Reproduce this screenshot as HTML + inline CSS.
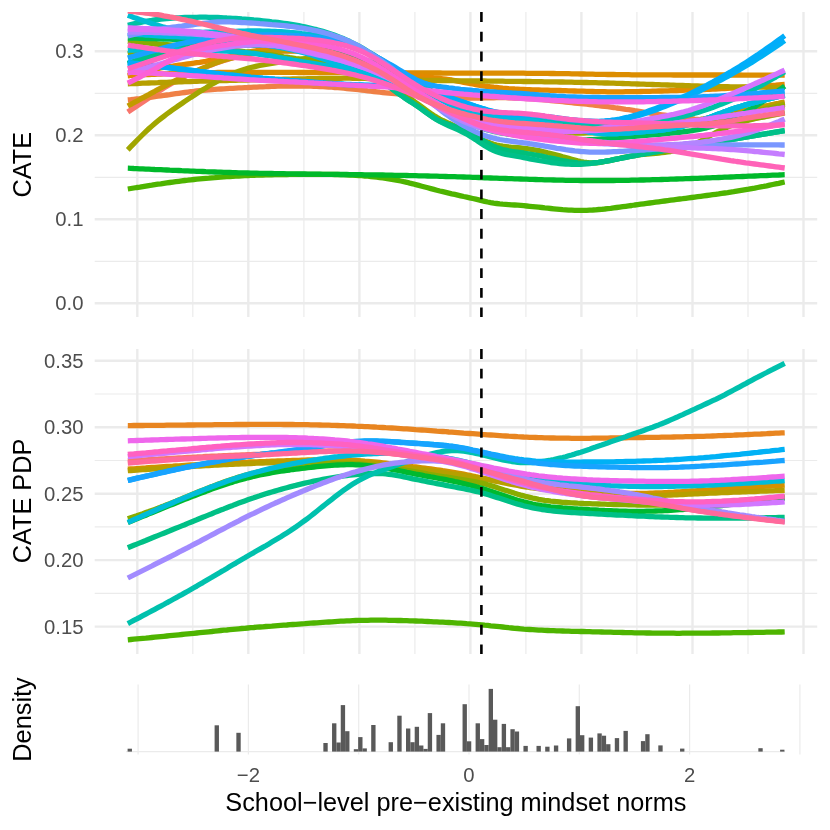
<!DOCTYPE html>
<html lang="en"><head><meta charset="utf-8"><title>CATE by school-level pre-existing mindset norms</title>
<style>html,body{margin:0;padding:0;background:#fff}svg{display:block}text{font-family:"Liberation Sans",sans-serif}</style></head><body>
<svg width="830" height="830" viewBox="0 0 830 830">
<rect width="830" height="830" fill="#fff"/>
<defs><clipPath id="c1"><rect x="94.7" y="12.1" width="722.5" height="305.0"/></clipPath><clipPath id="c2"><rect x="94.7" y="349.0" width="722.5" height="304.9"/></clipPath></defs>
<g stroke="#EBEBEB" fill="none"><path stroke-width="1.2" d="M192.8,12.1V317.1"/><path stroke-width="1.2" d="M303.9,12.1V317.1"/><path stroke-width="1.2" d="M414.9,12.1V317.1"/><path stroke-width="1.2" d="M525.9,12.1V317.1"/><path stroke-width="1.2" d="M636.9,12.1V317.1"/><path stroke-width="1.2" d="M748.0,12.1V317.1"/><path stroke-width="1.2" d="M94.7,261.3H817.2"/><path stroke-width="1.2" d="M94.7,177.3H817.2"/><path stroke-width="1.2" d="M94.7,93.3H817.2"/><path stroke-width="2.4" d="M137.3,12.1V317.1"/><path stroke-width="2.4" d="M248.3,12.1V317.1"/><path stroke-width="2.4" d="M359.4,12.1V317.1"/><path stroke-width="2.4" d="M470.4,12.1V317.1"/><path stroke-width="2.4" d="M581.4,12.1V317.1"/><path stroke-width="2.4" d="M692.5,12.1V317.1"/><path stroke-width="2.4" d="M803.5,12.1V317.1"/><path stroke-width="2.4" d="M94.7,303.3H817.2"/><path stroke-width="2.4" d="M94.7,219.3H817.2"/><path stroke-width="2.4" d="M94.7,135.3H817.2"/><path stroke-width="2.4" d="M94.7,51.3H817.2"/></g>
<g clip-path="url(#c1)" fill="none" stroke-width="5.3" stroke-linejoin="round">
<path stroke="#F8766D" d="M127.8,112.0L130.8,110.0 133.8,108.1 136.8,106.1 139.8,104.1 142.8,102.1 145.8,100.1 148.8,98.1 151.8,96.1 154.8,94.1 157.8,92.0 160.8,90.1 163.8,88.1 166.8,86.3 169.8,84.5 172.8,82.7 175.8,81.1 178.8,79.5 181.8,78.0 184.8,76.5 187.8,75.1 190.8,73.7 193.8,72.3 196.8,70.9 199.8,69.6 202.8,68.3 205.8,67.1 208.8,65.9 211.8,64.7 214.8,63.6 217.8,62.5 220.8,61.4 223.8,60.5 226.8,59.6 229.8,58.7 232.8,57.9 235.8,57.1 238.8,56.4 241.8,55.8 244.8,55.2 247.8,54.6 250.8,54.1 253.8,53.6 256.8,53.2 259.8,52.8 262.8,52.5 265.8,52.2 268.8,51.9 271.8,51.7 274.8,51.5 277.8,51.4 280.8,51.3 283.8,51.2 286.8,51.1 289.8,51.1 292.8,51.2 295.8,51.2 298.8,51.3 301.8,51.5 304.8,51.7 307.8,51.9 310.8,52.1 313.8,52.4 316.8,52.8 319.8,53.1 322.8,53.5 325.8,54.0 328.8,54.5 331.8,55.1 334.8,55.7 337.8,56.3 340.8,57.0 343.8,57.7 346.8,58.5 349.8,59.4 352.8,60.3 355.8,61.3 358.8,62.3 361.8,63.4 364.8,64.5 367.8,65.7 370.8,66.9 373.8,68.2 376.8,69.5 379.8,70.9 382.8,72.3 385.8,73.7 388.8,75.2 391.8,76.7 394.8,78.2 397.8,79.7 400.8,81.3 403.8,82.9 406.8,84.5 409.8,86.0 412.8,87.6 415.8,89.2 418.8,90.8 421.8,92.4 424.8,94.0 427.8,95.6 430.8,97.2 433.8,98.7 436.8,100.2 439.8,101.7 442.8,103.2 445.8,104.6 448.8,106.0 451.8,107.4 454.8,108.7 457.7,110.0 460.7,111.2 463.7,112.4 466.7,113.5 469.7,114.6 472.7,115.7 475.7,116.6 478.7,117.6 481.7,118.4 484.7,119.3 487.7,120.0 490.7,120.7 493.7,121.4 496.7,122.0 499.7,122.6 502.7,123.1 505.7,123.6 508.7,124.1 511.7,124.5 514.7,125.0 517.7,125.4 520.7,125.7 523.7,126.1 526.7,126.4 529.7,126.8 532.7,127.1 535.7,127.4 538.7,127.7 541.7,128.0 544.7,128.3 547.7,128.5 550.7,128.8 553.7,129.0 556.7,129.2 559.7,129.4 562.7,129.6 565.7,129.7 568.7,129.9 571.7,130.0 574.7,130.1 577.7,130.2 580.7,130.3 583.7,130.3 586.7,130.4 589.7,130.4 592.7,130.4 595.7,130.3 598.7,130.3 601.7,130.2 604.7,130.1 607.7,130.0 610.7,129.9 613.7,129.8 616.7,129.6 619.7,129.5 622.7,129.3 625.7,129.1 628.7,128.9 631.7,128.6 634.7,128.4 637.7,128.2 640.7,127.9 643.7,127.6 646.7,127.3 649.7,127.0 652.7,126.7 655.7,126.4 658.7,126.0 661.7,125.7 664.7,125.3 667.7,124.9 670.7,124.5 673.7,124.1 676.7,123.7 679.7,123.2 682.7,122.8 685.7,122.3 688.7,121.8 691.7,121.3 694.7,120.8 697.7,120.3 700.7,119.7 703.7,119.2 706.7,118.6 709.7,118.0 712.7,117.5 715.7,116.9 718.7,116.3 721.7,115.6 724.7,115.0 727.7,114.4 730.7,113.8 733.7,113.1 736.7,112.5 739.7,111.9 742.7,111.2 745.7,110.6 748.7,109.9 751.7,109.3 754.7,108.7 757.7,108.0 760.7,107.4 763.7,106.8 766.7,106.1 769.7,105.5 772.7,104.8 775.7,104.2 778.7,103.6 781.7,102.9 784.7,102.3"/>
<path stroke="#EF8046" d="M127.8,100.0L130.8,99.7 133.8,99.3 136.8,98.9 139.8,98.6 142.8,98.2 145.8,97.8 148.8,97.4 151.8,97.0 154.8,96.6 157.8,96.2 160.8,95.8 163.8,95.4 166.8,95.0 169.8,94.6 172.8,94.1 175.8,93.7 178.8,93.3 181.8,92.9 184.8,92.5 187.8,92.1 190.8,91.7 193.8,91.4 196.8,91.0 199.8,90.7 202.8,90.4 205.8,90.1 208.8,89.9 211.8,89.6 214.8,89.4 217.8,89.2 220.8,89.0 223.8,88.8 226.8,88.6 229.8,88.4 232.8,88.3 235.8,88.1 238.8,87.9 241.8,87.8 244.8,87.6 247.8,87.5 250.8,87.3 253.8,87.2 256.8,87.1 259.8,86.9 262.8,86.8 265.8,86.7 268.8,86.5 271.8,86.4 274.8,86.3 277.8,86.2 280.8,86.2 283.8,86.1 286.8,86.0 289.8,86.0 292.8,86.0 295.8,85.9 298.8,86.0 301.8,86.0 304.8,86.0 307.8,86.1 310.8,86.2 313.8,86.3 316.8,86.4 319.8,86.5 322.8,86.7 325.8,86.8 328.8,87.0 331.8,87.2 334.8,87.5 337.8,87.7 340.8,87.9 343.8,88.2 346.8,88.5 349.8,88.8 352.8,89.1 355.8,89.4 358.8,89.7 361.8,90.1 364.8,90.4 367.8,90.8 370.8,91.1 373.8,91.5 376.8,91.8 379.8,92.2 382.8,92.5 385.8,92.8 388.8,93.1 391.8,93.4 394.8,93.6 397.8,93.9 400.8,94.1 403.8,94.3 406.8,94.5 409.8,94.7 412.8,95.0 415.8,95.2 418.8,95.4 421.8,95.6 424.8,95.8 427.8,96.0 430.8,96.2 433.8,96.3 436.8,96.5 439.8,96.7 442.8,96.9 445.8,97.1 448.8,97.3 451.8,97.4 454.8,97.6 457.7,97.7 460.7,97.8 463.7,97.9 466.7,98.0 469.7,98.1 472.7,98.1 475.7,98.1 478.7,98.0 481.7,98.0 484.7,97.9 487.7,97.9 490.7,97.8 493.7,97.8 496.7,97.7 499.7,97.7 502.7,97.7 505.7,97.7 508.7,97.8 511.7,97.9 514.7,98.0 517.7,98.1 520.7,98.2 523.7,98.4 526.7,98.5 529.7,98.7 532.7,98.9 535.7,99.2 538.7,99.4 541.7,99.7 544.7,99.9 547.7,100.2 550.7,100.5 553.7,100.8 556.7,101.1 559.7,101.4 562.7,101.7 565.7,102.0 568.7,102.3 571.7,102.6 574.7,103.0 577.7,103.3 580.7,103.6 583.7,103.9 586.7,104.2 589.7,104.6 592.7,104.9 595.7,105.3 598.7,105.6 601.7,106.0 604.7,106.4 607.7,106.7 610.7,107.1 613.7,107.5 616.7,108.0 619.7,108.4 622.7,108.8 625.7,109.3 628.7,109.7 631.7,110.2 634.7,110.7 637.7,111.1 640.7,111.6 643.7,112.1 646.7,112.5 649.7,113.0 652.7,113.4 655.7,113.9 658.7,114.4 661.7,114.8 664.7,115.2 667.7,115.7 670.7,116.1 673.7,116.5 676.7,116.9 679.7,117.3 682.7,117.6 685.7,118.0 688.7,118.4 691.7,118.7 694.7,119.1 697.7,119.4 700.7,119.8 703.7,120.2 706.7,120.5 709.7,120.8 712.7,121.1 715.7,121.3 718.7,121.5 721.7,121.5 724.7,121.5 727.7,121.4 730.7,121.3 733.7,121.1 736.7,120.8 739.7,120.5 742.7,120.1 745.7,119.7 748.7,119.3 751.7,118.8 754.7,118.3 757.7,117.9 760.7,117.4 763.7,116.8 766.7,116.3 769.7,115.8 772.7,115.2 775.7,114.7 778.7,114.1 781.7,113.6 784.7,113.0"/>
<path stroke="#DC8D00" d="M127.8,75.5L130.8,75.4 133.8,75.2 136.8,75.1 139.8,75.0 142.8,74.8 145.8,74.7 148.8,74.6 151.8,74.4 154.8,74.3 157.8,74.2 160.8,74.1 163.8,73.9 166.8,73.8 169.8,73.7 172.8,73.6 175.8,73.5 178.8,73.4 181.8,73.3 184.8,73.2 187.8,73.1 190.8,73.0 193.8,73.0 196.8,72.9 199.8,72.8 202.8,72.8 205.8,72.7 208.8,72.6 211.8,72.6 214.8,72.6 217.8,72.5 220.8,72.5 223.8,72.4 226.8,72.4 229.8,72.4 232.8,72.4 235.8,72.3 238.8,72.3 241.8,72.3 244.8,72.3 247.8,72.3 250.8,72.3 253.8,72.3 256.8,72.3 259.8,72.3 262.8,72.3 265.8,72.3 268.8,72.3 271.8,72.3 274.8,72.3 277.8,72.3 280.8,72.4 283.8,72.4 286.8,72.4 289.8,72.4 292.8,72.4 295.8,72.4 298.8,72.5 301.8,72.5 304.8,72.5 307.8,72.5 310.8,72.5 313.8,72.6 316.8,72.6 319.8,72.6 322.8,72.6 325.8,72.6 328.8,72.6 331.8,72.7 334.8,72.7 337.8,72.7 340.8,72.7 343.8,72.7 346.8,72.7 349.8,72.7 352.8,72.8 355.8,72.8 358.8,72.8 361.8,72.8 364.8,72.8 367.8,72.8 370.8,72.8 373.8,72.9 376.8,72.9 379.8,72.9 382.8,72.9 385.8,72.9 388.8,72.9 391.8,72.9 394.8,72.9 397.8,73.0 400.8,73.0 403.8,73.0 406.8,73.0 409.8,73.0 412.8,73.0 415.8,73.0 418.8,73.0 421.8,73.0 424.8,73.0 427.8,73.0 430.8,73.0 433.8,73.0 436.8,73.0 439.8,73.0 442.8,73.1 445.8,73.1 448.8,73.1 451.8,73.1 454.8,73.1 457.7,73.1 460.7,73.1 463.7,73.1 466.7,73.1 469.7,73.1 472.7,73.1 475.7,73.1 478.7,73.1 481.7,73.1 484.7,73.1 487.7,73.1 490.7,73.1 493.7,73.1 496.7,73.1 499.7,73.1 502.7,73.1 505.7,73.2 508.7,73.2 511.7,73.2 514.7,73.2 517.7,73.2 520.7,73.2 523.7,73.2 526.7,73.3 529.7,73.3 532.7,73.3 535.7,73.3 538.7,73.4 541.7,73.4 544.7,73.4 547.7,73.4 550.7,73.5 553.7,73.5 556.7,73.6 559.7,73.6 562.7,73.6 565.7,73.7 568.7,73.7 571.7,73.8 574.7,73.9 577.7,73.9 580.7,74.0 583.7,74.0 586.7,74.1 589.7,74.1 592.7,74.2 595.7,74.3 598.7,74.3 601.7,74.4 604.7,74.4 607.7,74.5 610.7,74.5 613.7,74.5 616.7,74.6 619.7,74.6 622.7,74.7 625.7,74.7 628.7,74.7 631.7,74.8 634.7,74.8 637.7,74.8 640.7,74.8 643.7,74.8 646.7,74.9 649.7,74.9 652.7,74.9 655.7,74.9 658.7,74.9 661.7,74.9 664.7,74.9 667.7,74.9 670.7,74.9 673.7,75.0 676.7,75.0 679.7,75.0 682.7,75.0 685.7,75.0 688.7,75.0 691.7,75.0 694.7,75.0 697.7,75.0 700.7,75.0 703.7,75.0 706.7,75.0 709.7,75.0 712.7,75.0 715.7,75.0 718.7,75.0 721.7,75.0 724.7,75.0 727.7,75.0 730.7,75.0 733.7,75.0 736.7,75.0 739.7,75.0 742.7,75.1 745.7,75.1 748.7,75.1 751.7,75.1 754.7,75.1 757.7,75.1 760.7,75.1 763.7,75.1 766.7,75.1 769.7,75.1 772.7,75.2 775.7,75.2 778.7,75.2 781.7,75.2 784.7,75.2"/>
<path stroke="#E38900" d="M127.8,75.9L130.8,75.1 133.8,74.3 136.8,73.5 139.8,72.8 142.8,72.0 145.8,71.3 148.8,70.5 151.8,69.9 154.8,69.2 157.8,68.6 160.8,68.0 163.8,67.5 166.8,67.0 169.8,66.5 172.8,66.1 175.8,65.6 178.8,65.2 181.8,64.8 184.8,64.4 187.8,64.0 190.8,63.6 193.8,63.2 196.8,62.7 199.8,62.3 202.8,61.8 205.8,61.3 208.8,60.7 211.8,60.2 214.8,59.6 217.8,59.0 220.8,58.4 223.8,57.8 226.8,57.1 229.8,56.4 232.8,55.7 235.8,55.0 238.8,54.3 241.8,53.6 244.8,52.9 247.8,52.3 250.8,51.7 253.8,51.2 256.8,50.7 259.8,50.3 262.8,49.9 265.8,49.5 268.8,49.2 271.8,48.9 274.8,48.6 277.8,48.4 280.8,48.2 283.8,48.0 286.8,47.8 289.8,47.8 292.8,47.7 295.8,47.7 298.8,47.8 301.8,47.9 304.8,48.1 307.8,48.4 310.8,48.7 313.8,49.1 316.8,49.5 319.8,50.0 322.8,50.6 325.8,51.2 328.8,51.8 331.8,52.5 334.8,53.3 337.8,54.0 340.8,54.8 343.8,55.6 346.8,56.4 349.8,57.3 352.8,58.1 355.8,59.0 358.8,59.9 361.8,60.7 364.8,61.6 367.8,62.5 370.8,63.4 373.8,64.2 376.8,65.1 379.8,66.0 382.8,66.9 385.8,67.8 388.8,68.7 391.8,69.5 394.8,70.4 397.8,71.3 400.8,72.1 403.8,72.9 406.8,73.6 409.8,74.3 412.8,74.9 415.8,75.5 418.8,76.0 421.8,76.4 424.8,76.8 427.8,77.1 430.8,77.4 433.8,77.8 436.8,78.1 439.8,78.4 442.8,78.8 445.8,79.2 448.8,79.6 451.8,80.0 454.8,80.6 457.7,81.1 460.7,81.7 463.7,82.3 466.7,82.8 469.7,83.4 472.7,84.0 475.7,84.6 478.7,85.1 481.7,85.6 484.7,86.1 487.7,86.5 490.7,86.8 493.7,87.2 496.7,87.5 499.7,87.8 502.7,88.1 505.7,88.3 508.7,88.6 511.7,88.8 514.7,89.0 517.7,89.1 520.7,89.3 523.7,89.4 526.7,89.6 529.7,89.7 532.7,89.8 535.7,89.9 538.7,90.0 541.7,90.1 544.7,90.1 547.7,90.2 550.7,90.3 553.7,90.4 556.7,90.4 559.7,90.5 562.7,90.6 565.7,90.7 568.7,90.8 571.7,90.9 574.7,91.0 577.7,91.1 580.7,91.2 583.7,91.2 586.7,91.3 589.7,91.4 592.7,91.5 595.7,91.6 598.7,91.6 601.7,91.7 604.7,91.7 607.7,91.8 610.7,91.8 613.7,91.8 616.7,91.8 619.7,91.8 622.7,91.8 625.7,91.7 628.7,91.7 631.7,91.7 634.7,91.6 637.7,91.6 640.7,91.5 643.7,91.4 646.7,91.4 649.7,91.3 652.7,91.2 655.7,91.1 658.7,91.0 661.7,91.0 664.7,90.9 667.7,90.8 670.7,90.7 673.7,90.6 676.7,90.5 679.7,90.4 682.7,90.3 685.7,90.2 688.7,90.1 691.7,90.0 694.7,89.9 697.7,89.8 700.7,89.7 703.7,89.6 706.7,89.4 709.7,89.3 712.7,89.2 715.7,89.0 718.7,88.9 721.7,88.7 724.7,88.5 727.7,88.4 730.7,88.2 733.7,88.0 736.7,87.8 739.7,87.7 742.7,87.5 745.7,87.3 748.7,87.1 751.7,86.9 754.7,86.7 757.7,86.5 760.7,86.2 763.7,86.0 766.7,85.8 769.7,85.6 772.7,85.4 775.7,85.2 778.7,84.9 781.7,84.7 784.7,84.5"/>
<path stroke="#C29B00" d="M127.8,106.0L130.8,104.4 133.8,102.7 136.8,101.1 139.8,99.5 142.8,97.8 145.8,96.2 148.8,94.6 151.8,92.9 154.8,91.3 157.8,89.6 160.8,88.0 163.8,86.4 166.8,84.8 169.8,83.3 172.8,81.8 175.8,80.3 178.8,78.9 181.8,77.5 184.8,76.1 187.8,74.7 190.8,73.4 193.8,72.1 196.8,70.7 199.8,69.4 202.8,68.1 205.8,66.9 208.8,65.6 211.8,64.5 214.8,63.3 217.8,62.2 220.8,61.2 223.8,60.2 226.8,59.3 229.8,58.4 232.8,57.6 235.8,56.8 238.8,56.1 241.8,55.5 244.8,54.9 247.8,54.3 250.8,53.8 253.8,53.3 256.8,52.9 259.8,52.5 262.8,52.2 265.8,51.9 268.8,51.6 271.8,51.4 274.8,51.2 277.8,51.1 280.8,51.0 283.8,50.9 286.8,50.8 289.8,50.8 292.8,50.9 295.8,50.9 298.8,51.0 301.8,51.2 304.8,51.4 307.8,51.6 310.8,51.8 313.8,52.1 316.8,52.5 319.8,52.8 322.8,53.2 325.8,53.7 328.8,54.2 331.8,54.8 334.8,55.4 337.8,56.0 340.8,56.7 343.8,57.4 346.8,58.2 349.8,59.1 352.8,60.0 355.8,61.0 358.8,62.0 361.8,63.1 364.8,64.2 367.8,65.4 370.8,66.6 373.8,67.9 376.8,69.2 379.8,70.6 382.8,72.0 385.8,73.4 388.8,74.9 391.8,76.4 394.8,77.9 397.8,79.4 400.8,81.0 403.8,82.6 406.8,84.2 409.8,85.7 412.8,87.3 415.8,88.9 418.8,90.5 421.8,92.1 424.8,93.7 427.8,95.3 430.8,96.9 433.8,98.4 436.8,99.9 439.8,101.4 442.8,102.9 445.8,104.3 448.8,105.7 451.8,107.1 454.8,108.4 457.7,109.7 460.7,110.9 463.7,112.1 466.7,113.2 469.7,114.3 472.7,115.4 475.7,116.3 478.7,117.3 481.7,118.1 484.7,119.0 487.7,119.7 490.7,120.4 493.7,121.1 496.7,121.7 499.7,122.3 502.7,122.8 505.7,123.3 508.7,123.8 511.7,124.2 514.7,124.7 517.7,125.1 520.7,125.4 523.7,125.8 526.7,126.1 529.7,126.5 532.7,126.8 535.7,127.1 538.7,127.4 541.7,127.7 544.7,128.0 547.7,128.2 550.7,128.5 553.7,128.7 556.7,128.9 559.7,129.1 562.7,129.3 565.7,129.4 568.7,129.6 571.7,129.7 574.7,129.8 577.7,129.9 580.7,130.0 583.7,130.0 586.7,130.1 589.7,130.1 592.7,130.1 595.7,130.0 598.7,130.0 601.7,129.9 604.7,129.8 607.7,129.7 610.7,129.6 613.7,129.5 616.7,129.3 619.7,129.2 622.7,129.0 625.7,128.8 628.7,128.6 631.7,128.3 634.7,128.1 637.7,127.9 640.7,127.6 643.7,127.3 646.7,127.0 649.7,126.7 652.7,126.4 655.7,126.1 658.7,125.7 661.7,125.4 664.7,125.0 667.7,124.6 670.7,124.2 673.7,123.8 676.7,123.4 679.7,122.9 682.7,122.5 685.7,122.0 688.7,121.5 691.7,121.0 694.7,120.5 697.7,120.0 700.7,119.4 703.7,118.9 706.7,118.3 709.7,117.7 712.7,117.2 715.7,116.6 718.7,116.0 721.7,115.3 724.7,114.7 727.7,114.1 730.7,113.5 733.7,112.8 736.7,112.2 739.7,111.6 742.7,110.9 745.7,110.3 748.7,109.6 751.7,109.0 754.7,108.4 757.7,107.7 760.7,107.1 763.7,106.5 766.7,105.8 769.7,105.2 772.7,104.5 775.7,103.9 778.7,103.3 781.7,102.6 784.7,102.0"/>
<path stroke="#B69F00" d="M127.8,83.8L130.8,83.7 133.8,83.6 136.8,83.5 139.8,83.3 142.8,83.2 145.8,83.1 148.8,83.0 151.8,82.9 154.8,82.8 157.8,82.7 160.8,82.5 163.8,82.4 166.8,82.3 169.8,82.2 172.8,82.1 175.8,82.0 178.8,81.9 181.8,81.8 184.8,81.7 187.8,81.6 190.8,81.5 193.8,81.4 196.8,81.3 199.8,81.2 202.8,81.2 205.8,81.1 208.8,81.0 211.8,80.9 214.8,80.8 217.8,80.7 220.8,80.7 223.8,80.6 226.8,80.5 229.8,80.4 232.8,80.4 235.8,80.3 238.8,80.2 241.8,80.1 244.8,80.1 247.8,80.0 250.8,79.9 253.8,79.9 256.8,79.8 259.8,79.7 262.8,79.7 265.8,79.6 268.8,79.5 271.8,79.5 274.8,79.4 277.8,79.3 280.8,79.3 283.8,79.2 286.8,79.2 289.8,79.1 292.8,79.0 295.8,79.0 298.8,78.9 301.8,78.9 304.8,78.8 307.8,78.7 310.8,78.7 313.8,78.6 316.8,78.6 319.8,78.5 322.8,78.5 325.8,78.4 328.8,78.4 331.8,78.3 334.8,78.3 337.8,78.3 340.8,78.3 343.8,78.2 346.8,78.2 349.8,78.2 352.8,78.3 355.8,78.3 358.8,78.3 361.8,78.4 364.8,78.4 367.8,78.5 370.8,78.6 373.8,78.6 376.8,78.7 379.8,78.8 382.8,78.9 385.8,79.0 388.8,79.1 391.8,79.2 394.8,79.3 397.8,79.4 400.8,79.6 403.8,79.7 406.8,79.8 409.8,79.9 412.8,79.9 415.8,80.0 418.8,80.1 421.8,80.2 424.8,80.3 427.8,80.3 430.8,80.4 433.8,80.4 436.8,80.5 439.8,80.5 442.8,80.6 445.8,80.6 448.8,80.7 451.8,80.7 454.8,80.7 457.7,80.8 460.7,80.8 463.7,80.8 466.7,80.9 469.7,80.9 472.7,80.9 475.7,81.0 478.7,81.0 481.7,81.0 484.7,81.0 487.7,81.1 490.7,81.1 493.7,81.1 496.7,81.2 499.7,81.2 502.7,81.2 505.7,81.3 508.7,81.3 511.7,81.3 514.7,81.4 517.7,81.4 520.7,81.4 523.7,81.5 526.7,81.5 529.7,81.5 532.7,81.6 535.7,81.6 538.7,81.7 541.7,81.7 544.7,81.8 547.7,81.8 550.7,81.8 553.7,81.9 556.7,81.9 559.7,82.0 562.7,82.0 565.7,82.1 568.7,82.2 571.7,82.2 574.7,82.3 577.7,82.3 580.7,82.4 583.7,82.5 586.7,82.5 589.7,82.6 592.7,82.7 595.7,82.7 598.7,82.8 601.7,82.9 604.7,83.0 607.7,83.0 610.7,83.1 613.7,83.2 616.7,83.3 619.7,83.4 622.7,83.5 625.7,83.6 628.7,83.7 631.7,83.8 634.7,83.9 637.7,84.0 640.7,84.1 643.7,84.2 646.7,84.3 649.7,84.4 652.7,84.5 655.7,84.6 658.7,84.7 661.7,84.8 664.7,84.9 667.7,85.0 670.7,85.1 673.7,85.2 676.7,85.3 679.7,85.4 682.7,85.5 685.7,85.6 688.7,85.7 691.7,85.8 694.7,85.9 697.7,86.0 700.7,86.1 703.7,86.2 706.7,86.3 709.7,86.4 712.7,86.4 715.7,86.5 718.7,86.6 721.7,86.6 724.7,86.7 727.7,86.7 730.7,86.8 733.7,86.9 736.7,86.9 739.7,86.9 742.7,87.0 745.7,87.0 748.7,87.1 751.7,87.1 754.7,87.1 757.7,87.2 760.7,87.2 763.7,87.2 766.7,87.3 769.7,87.3 772.7,87.3 775.7,87.3 778.7,87.4 781.7,87.4 784.7,87.4"/>
<path stroke="#A1A600" d="M127.8,149.8L130.8,146.7 133.8,143.6 136.8,140.5 139.8,137.5 142.8,134.5 145.8,131.6 148.8,128.8 151.8,126.1 154.8,123.5 157.8,121.0 160.8,118.6 163.8,116.3 166.8,114.0 169.8,111.8 172.8,109.7 175.8,107.6 178.8,105.5 181.8,103.5 184.8,101.4 187.8,99.4 190.8,97.4 193.8,95.5 196.8,93.5 199.8,91.6 202.8,89.7 205.8,87.9 208.8,86.0 211.8,84.3 214.8,82.6 217.8,80.9 220.8,79.3 223.8,77.8 226.8,76.4 229.8,75.0 232.8,73.6 235.8,72.4 238.8,71.3 241.8,70.2 244.8,69.2 247.8,68.3 250.8,67.5 253.8,66.8 256.8,66.1 259.8,65.5 262.8,65.0 265.8,64.5 268.8,64.0 271.8,63.5 274.8,63.0 277.8,62.5 280.8,62.0 283.8,61.5 286.8,61.0 289.8,60.6 292.8,60.1 295.8,59.7 298.8,59.3 301.8,59.0 304.8,58.7 307.8,58.4 310.8,58.2 313.8,58.0 316.8,57.9 319.8,57.8 322.8,57.8 325.8,57.8 328.8,57.9 331.8,58.0 334.8,58.2 337.8,58.5 340.8,58.8 343.8,59.2 346.8,59.6 349.8,60.1 352.8,60.7 355.8,61.3 358.8,62.0 361.8,62.7 364.8,63.6 367.8,64.5 370.8,65.4 373.8,66.5 376.8,67.6 379.8,68.7 382.8,69.9 385.8,71.2 388.8,72.6 391.8,74.0 394.8,75.4 397.8,77.0 400.8,78.5 403.8,80.2 406.8,81.9 409.8,83.6 412.8,85.4 415.8,87.2 418.8,89.1 421.8,91.1 424.8,93.0 427.8,95.0 430.8,96.9 433.8,98.9 436.8,100.8 439.8,102.7 442.8,104.5 445.8,106.3 448.8,108.0 451.8,109.6 454.8,111.2 457.7,112.7 460.7,114.1 463.7,115.5 466.7,116.8 469.7,118.0 472.7,119.1 475.7,120.2 478.7,121.2 481.7,122.2 484.7,123.0 487.7,123.9 490.7,124.6 493.7,125.3 496.7,125.9 499.7,126.5 502.7,127.0 505.7,127.5 508.7,128.0 511.7,128.4 514.7,128.8 517.7,129.2 520.7,129.5 523.7,129.8 526.7,130.1 529.7,130.4 532.7,130.7 535.7,131.0 538.7,131.2 541.7,131.5 544.7,131.7 547.7,131.9 550.7,132.1 553.7,132.2 556.7,132.4 559.7,132.5 562.7,132.7 565.7,132.8 568.7,132.8 571.7,132.9 574.7,133.0 577.7,133.0 580.7,133.0 583.7,133.0 586.7,132.9 589.7,132.9 592.7,132.8 595.7,132.7 598.7,132.6 601.7,132.5 604.7,132.3 607.7,132.2 610.7,132.0 613.7,131.8 616.7,131.6 619.7,131.4 622.7,131.2 625.7,130.9 628.7,130.7 631.7,130.4 634.7,130.1 637.7,129.8 640.7,129.5 643.7,129.2 646.7,128.9 649.7,128.6 652.7,128.3 655.7,127.9 658.7,127.5 661.7,127.2 664.7,126.8 667.7,126.4 670.7,126.0 673.7,125.6 676.7,125.2 679.7,124.8 682.7,124.4 685.7,123.9 688.7,123.5 691.7,123.0 694.7,122.6 697.7,122.1 700.7,121.6 703.7,121.2 706.7,120.7 709.7,120.2 712.7,119.7 715.7,119.1 718.7,118.6 721.7,118.0 724.7,117.5 727.7,116.9 730.7,116.3 733.7,115.8 736.7,115.1 739.7,114.5 742.7,113.9 745.7,113.3 748.7,112.6 751.7,111.9 754.7,111.3 757.7,110.6 760.7,109.9 763.7,109.1 766.7,108.4 769.7,107.7 772.7,107.0 775.7,106.2 778.7,105.5 781.7,104.8 784.7,104.0"/>
<path stroke="#8CAB00" d="M127.8,53.9L130.8,53.3 133.8,52.7 136.8,52.2 139.8,51.6 142.8,51.0 145.8,50.5 148.8,50.0 151.8,49.5 154.8,49.0 157.8,48.6 160.8,48.1 163.8,47.7 166.8,47.4 169.8,47.0 172.8,46.7 175.8,46.4 178.8,46.1 181.8,45.8 184.8,45.5 187.8,45.3 190.8,45.1 193.8,44.9 196.8,44.7 199.8,44.5 202.8,44.3 205.8,44.2 208.8,44.1 211.8,43.9 214.8,43.9 217.8,43.8 220.8,43.7 223.8,43.7 226.8,43.6 229.8,43.6 232.8,43.7 235.8,43.7 238.8,43.7 241.8,43.8 244.8,43.9 247.8,44.0 250.8,44.1 253.8,44.3 256.8,44.4 259.8,44.6 262.8,44.8 265.8,45.1 268.8,45.3 271.8,45.6 274.8,45.9 277.8,46.2 280.8,46.5 283.8,46.9 286.8,47.2 289.8,47.6 292.8,48.0 295.8,48.5 298.8,49.0 301.8,49.4 304.8,49.9 307.8,50.5 310.8,51.0 313.8,51.6 316.8,52.2 319.8,52.9 322.8,53.5 325.8,54.2 328.8,54.9 331.8,55.7 334.8,56.4 337.8,57.3 340.8,58.1 343.8,59.0 346.8,59.9 349.8,60.9 352.8,61.8 355.8,62.9 358.8,63.9 361.8,65.0 364.8,66.2 367.8,67.4 370.8,68.6 373.8,69.9 376.8,71.2 379.8,72.5 382.8,73.9 385.8,75.3 388.8,76.7 391.8,78.2 394.8,79.7 397.8,81.2 400.8,82.8 403.8,84.4 406.8,86.0 409.8,87.7 412.8,89.4 415.8,91.1 418.8,92.8 421.8,94.6 424.8,96.4 427.8,98.1 430.8,99.9 433.8,101.6 436.8,103.4 439.8,105.1 442.8,106.7 445.8,108.4 448.8,109.9 451.8,111.5 454.8,112.9 457.7,114.4 460.7,115.7 463.7,117.0 466.7,118.2 469.7,119.3 472.7,120.3 475.7,121.3 478.7,122.2 481.7,122.9 484.7,123.6 487.7,124.2 490.7,124.7 493.7,125.2 496.7,125.6 499.7,126.0 502.7,126.3 505.7,126.7 508.7,127.0 511.7,127.3 514.7,127.6 517.7,127.8 520.7,128.1 523.7,128.4 526.7,128.7 529.7,128.9 532.7,129.2 535.7,129.4 538.7,129.7 541.7,129.9 544.7,130.1 547.7,130.3 550.7,130.5 553.7,130.7 556.7,130.8 559.7,131.0 562.7,131.1 565.7,131.2 568.7,131.3 571.7,131.4 574.7,131.4 577.7,131.5 580.7,131.5 583.7,131.5 586.7,131.5 589.7,131.5 592.7,131.5 595.7,131.4 598.7,131.4 601.7,131.3 604.7,131.2 607.7,131.1 610.7,131.0 613.7,130.9 616.7,130.7 619.7,130.6 622.7,130.4 625.7,130.2 628.7,130.0 631.7,129.8 634.7,129.6 637.7,129.3 640.7,129.1 643.7,128.8 646.7,128.5 649.7,128.2 652.7,127.9 655.7,127.5 658.7,127.1 661.7,126.8 664.7,126.4 667.7,125.9 670.7,125.5 673.7,125.0 676.7,124.6 679.7,124.1 682.7,123.6 685.7,123.1 688.7,122.6 691.7,122.1 694.7,121.6 697.7,121.0 700.7,120.5 703.7,120.0 706.7,119.4 709.7,118.9 712.7,118.3 715.7,117.8 718.7,117.3 721.7,116.7 724.7,116.2 727.7,115.7 730.7,115.1 733.7,114.6 736.7,114.1 739.7,113.6 742.7,113.0 745.7,112.5 748.7,112.0 751.7,111.5 754.7,111.0 757.7,110.5 760.7,110.0 763.7,109.5 766.7,109.0 769.7,108.5 772.7,108.0 775.7,107.5 778.7,107.0 781.7,106.5 784.7,106.0"/>
<path stroke="#88AC00" d="M127.8,41.3L130.8,41.5 133.8,41.8 136.8,42.0 139.8,42.3 142.8,42.5 145.8,42.8 148.8,43.0 151.8,43.3 154.8,43.5 157.8,43.8 160.8,44.1 163.8,44.4 166.8,44.6 169.8,44.9 172.8,45.2 175.8,45.5 178.8,45.8 181.8,46.1 184.8,46.3 187.8,46.6 190.8,46.9 193.8,47.2 196.8,47.4 199.8,47.7 202.8,47.9 205.8,48.2 208.8,48.4 211.8,48.7 214.8,48.9 217.8,49.2 220.8,49.4 223.8,49.7 226.8,49.9 229.8,50.2 232.8,50.5 235.8,50.7 238.8,51.0 241.8,51.3 244.8,51.7 247.8,52.0 250.8,52.3 253.8,52.7 256.8,53.0 259.8,53.4 262.8,53.8 265.8,54.2 268.8,54.6 271.8,55.0 274.8,55.4 277.8,55.9 280.8,56.3 283.8,56.8 286.8,57.2 289.8,57.7 292.8,58.1 295.8,58.6 298.8,59.0 301.8,59.5 304.8,60.0 307.8,60.4 310.8,60.9 313.8,61.4 316.8,61.8 319.8,62.4 322.8,62.9 325.8,63.4 328.8,64.0 331.8,64.6 334.8,65.2 337.8,65.9 340.8,66.6 343.8,67.3 346.8,68.1 349.8,69.0 352.8,69.9 355.8,70.9 358.8,71.9 361.8,73.0 364.8,74.2 367.8,75.4 370.8,76.7 373.8,78.1 376.8,79.5 379.8,81.0 382.8,82.5 385.8,84.1 388.8,85.7 391.8,87.4 394.8,89.2 397.8,90.9 400.8,92.8 403.8,94.6 406.8,96.5 409.8,98.5 412.8,100.5 415.8,102.6 418.8,104.7 421.8,106.9 424.8,109.1 427.8,111.3 430.8,113.4 433.8,115.4 436.8,117.3 439.8,119.0 442.8,120.5 445.8,121.9 448.8,123.3 451.8,124.6 454.8,126.0 457.7,127.3 460.7,128.7 463.7,130.1 466.7,131.6 469.7,133.2 472.7,134.7 475.7,136.3 478.7,137.9 481.7,139.4 484.7,140.8 487.7,142.1 490.7,143.2 493.7,144.2 496.7,145.0 499.7,145.7 502.7,146.2 505.7,146.6 508.7,147.0 511.7,147.3 514.7,147.5 517.7,147.7 520.7,148.0 523.7,148.3 526.7,148.6 529.7,149.1 532.7,149.6 535.7,150.1 538.7,150.7 541.7,151.4 544.7,152.0 547.7,152.8 550.7,153.5 553.7,154.3 556.7,155.1 559.7,155.9 562.7,156.8 565.7,157.6 568.7,158.4 571.7,159.2 574.7,160.0 577.7,160.8 580.7,161.5 583.7,162.1 586.7,162.5 589.7,162.8 592.7,162.9 595.7,162.8 598.7,162.5 601.7,162.1 604.7,161.5 607.7,160.9 610.7,160.3 613.7,159.7 616.7,159.0 619.7,158.4 622.7,157.7 625.7,157.1 628.7,156.6 631.7,156.0 634.7,155.5 637.7,155.1 640.7,154.7 643.7,154.4 646.7,154.1 649.7,153.8 652.7,153.6 655.7,153.3 658.7,153.0 661.7,152.7 664.7,152.3 667.7,151.9 670.7,151.5 673.7,150.9 676.7,150.3 679.7,149.6 682.7,148.8 685.7,147.8 688.7,146.8 691.7,145.5 694.7,144.2 697.7,142.7 700.7,141.1 703.7,139.4 706.7,137.7 709.7,136.0 712.7,134.3 715.7,132.7 718.7,131.1 721.7,129.7 724.7,128.3 727.7,127.0 730.7,125.7 733.7,124.6 736.7,123.6 739.7,122.6 742.7,121.7 745.7,120.9 748.7,120.1 751.7,119.4 754.7,118.7 757.7,118.0 760.7,117.4 763.7,116.8 766.7,116.1 769.7,115.5 772.7,114.9 775.7,114.3 778.7,113.7 781.7,113.1 784.7,112.5"/>
<path stroke="#4EB400" d="M127.8,189.0L130.8,188.5 133.8,188.0 136.8,187.5 139.8,187.1 142.8,186.6 145.8,186.1 148.8,185.6 151.8,185.2 154.8,184.7 157.8,184.2 160.8,183.8 163.8,183.3 166.8,182.9 169.8,182.5 172.8,182.1 175.8,181.7 178.8,181.3 181.8,180.9 184.8,180.5 187.8,180.2 190.8,179.8 193.8,179.5 196.8,179.2 199.8,178.9 202.8,178.6 205.8,178.3 208.8,178.1 211.8,177.8 214.8,177.6 217.8,177.3 220.8,177.1 223.8,176.9 226.8,176.7 229.8,176.5 232.8,176.3 235.8,176.2 238.8,176.0 241.8,175.8 244.8,175.7 247.8,175.6 250.8,175.4 253.8,175.3 256.8,175.2 259.8,175.1 262.8,175.0 265.8,174.9 268.8,174.8 271.8,174.8 274.8,174.7 277.8,174.6 280.8,174.6 283.8,174.5 286.8,174.5 289.8,174.4 292.8,174.4 295.8,174.4 298.8,174.3 301.8,174.3 304.8,174.3 307.8,174.3 310.8,174.3 313.8,174.3 316.8,174.3 319.8,174.3 322.8,174.3 325.8,174.3 328.8,174.4 331.8,174.4 334.8,174.5 337.8,174.5 340.8,174.6 343.8,174.7 346.8,174.9 349.8,175.0 352.8,175.1 355.8,175.3 358.8,175.5 361.8,175.7 364.8,176.0 367.8,176.2 370.8,176.5 373.8,176.8 376.8,177.1 379.8,177.5 382.8,177.9 385.8,178.3 388.8,178.8 391.8,179.3 394.8,179.8 397.8,180.4 400.8,181.0 403.8,181.7 406.8,182.3 409.8,183.1 412.8,183.8 415.8,184.6 418.8,185.4 421.8,186.2 424.8,187.0 427.8,187.8 430.8,188.6 433.8,189.4 436.8,190.2 439.8,191.0 442.8,191.7 445.8,192.4 448.8,193.1 451.8,193.8 454.8,194.4 457.7,195.1 460.7,195.8 463.7,196.5 466.7,197.1 469.7,197.8 472.7,198.5 475.7,199.2 478.7,199.9 481.7,200.6 484.7,201.3 487.7,202.0 490.7,202.6 493.7,203.1 496.7,203.5 499.7,203.9 502.7,204.2 505.7,204.4 508.7,204.6 511.7,204.8 514.7,205.0 517.7,205.2 520.7,205.4 523.7,205.7 526.7,206.0 529.7,206.3 532.7,206.6 535.7,206.9 538.7,207.2 541.7,207.5 544.7,207.9 547.7,208.2 550.7,208.5 553.7,208.8 556.7,209.1 559.7,209.4 562.7,209.7 565.7,209.9 568.7,210.1 571.7,210.2 574.7,210.3 577.7,210.4 580.7,210.4 583.7,210.3 586.7,210.3 589.7,210.1 592.7,210.0 595.7,209.8 598.7,209.5 601.7,209.3 604.7,209.0 607.7,208.6 610.7,208.3 613.7,207.9 616.7,207.5 619.7,207.1 622.7,206.7 625.7,206.3 628.7,205.9 631.7,205.5 634.7,205.0 637.7,204.6 640.7,204.2 643.7,203.8 646.7,203.4 649.7,203.0 652.7,202.6 655.7,202.2 658.7,201.8 661.7,201.4 664.7,201.0 667.7,200.6 670.7,200.2 673.7,199.8 676.7,199.4 679.7,199.0 682.7,198.7 685.7,198.3 688.7,197.9 691.7,197.5 694.7,197.1 697.7,196.7 700.7,196.3 703.7,195.9 706.7,195.5 709.7,195.1 712.7,194.7 715.7,194.3 718.7,193.9 721.7,193.4 724.7,193.0 727.7,192.6 730.7,192.1 733.7,191.7 736.7,191.2 739.7,190.7 742.7,190.2 745.7,189.7 748.7,189.2 751.7,188.6 754.7,188.1 757.7,187.5 760.7,186.9 763.7,186.4 766.7,185.8 769.7,185.1 772.7,184.5 775.7,183.9 778.7,183.3 781.7,182.6 784.7,182.0"/>
<path stroke="#00B92A" d="M127.8,168.2L130.8,168.3 133.8,168.5 136.8,168.6 139.8,168.8 142.8,168.9 145.8,169.1 148.8,169.2 151.8,169.3 154.8,169.5 157.8,169.6 160.8,169.7 163.8,169.9 166.8,170.0 169.8,170.2 172.8,170.3 175.8,170.4 178.8,170.5 181.8,170.7 184.8,170.8 187.8,170.9 190.8,171.1 193.8,171.2 196.8,171.3 199.8,171.4 202.8,171.5 205.8,171.7 208.8,171.8 211.8,171.9 214.8,172.0 217.8,172.1 220.8,172.2 223.8,172.3 226.8,172.4 229.8,172.5 232.8,172.6 235.8,172.7 238.8,172.8 241.8,172.9 244.8,172.9 247.8,173.0 250.8,173.1 253.8,173.2 256.8,173.2 259.8,173.3 262.8,173.4 265.8,173.4 268.8,173.5 271.8,173.5 274.8,173.6 277.8,173.6 280.8,173.7 283.8,173.7 286.8,173.8 289.8,173.8 292.8,173.9 295.8,173.9 298.8,174.0 301.8,174.0 304.8,174.0 307.8,174.1 310.8,174.1 313.8,174.2 316.8,174.2 319.8,174.2 322.8,174.3 325.8,174.3 328.8,174.3 331.8,174.4 334.8,174.4 337.8,174.4 340.8,174.5 343.8,174.5 346.8,174.5 349.8,174.6 352.8,174.6 355.8,174.6 358.8,174.7 361.8,174.7 364.8,174.8 367.8,174.8 370.8,174.9 373.8,174.9 376.8,174.9 379.8,175.0 382.8,175.0 385.8,175.1 388.8,175.1 391.8,175.2 394.8,175.3 397.8,175.3 400.8,175.4 403.8,175.4 406.8,175.5 409.8,175.6 412.8,175.6 415.8,175.7 418.8,175.8 421.8,175.8 424.8,175.9 427.8,176.0 430.8,176.1 433.8,176.1 436.8,176.2 439.8,176.3 442.8,176.4 445.8,176.5 448.8,176.6 451.8,176.6 454.8,176.7 457.7,176.8 460.7,176.9 463.7,177.0 466.7,177.1 469.7,177.2 472.7,177.3 475.7,177.4 478.7,177.5 481.7,177.7 484.7,177.8 487.7,177.9 490.7,178.0 493.7,178.1 496.7,178.2 499.7,178.3 502.7,178.4 505.7,178.5 508.7,178.6 511.7,178.7 514.7,178.8 517.7,178.9 520.7,179.0 523.7,179.1 526.7,179.2 529.7,179.3 532.7,179.4 535.7,179.5 538.7,179.6 541.7,179.7 544.7,179.8 547.7,179.9 550.7,179.9 553.7,180.0 556.7,180.1 559.7,180.2 562.7,180.2 565.7,180.3 568.7,180.3 571.7,180.4 574.7,180.4 577.7,180.4 580.7,180.5 583.7,180.5 586.7,180.5 589.7,180.5 592.7,180.5 595.7,180.5 598.7,180.5 601.7,180.5 604.7,180.5 607.7,180.5 610.7,180.5 613.7,180.5 616.7,180.4 619.7,180.4 622.7,180.4 625.7,180.3 628.7,180.3 631.7,180.2 634.7,180.2 637.7,180.1 640.7,180.0 643.7,180.0 646.7,179.9 649.7,179.8 652.7,179.7 655.7,179.7 658.7,179.6 661.7,179.5 664.7,179.4 667.7,179.3 670.7,179.2 673.7,179.1 676.7,179.0 679.7,178.9 682.7,178.8 685.7,178.7 688.7,178.6 691.7,178.5 694.7,178.4 697.7,178.3 700.7,178.2 703.7,178.1 706.7,177.9 709.7,177.8 712.7,177.7 715.7,177.6 718.7,177.5 721.7,177.4 724.7,177.2 727.7,177.1 730.7,177.0 733.7,176.9 736.7,176.7 739.7,176.6 742.7,176.5 745.7,176.4 748.7,176.2 751.7,176.1 754.7,176.0 757.7,175.9 760.7,175.7 763.7,175.6 766.7,175.5 769.7,175.3 772.7,175.2 775.7,175.1 778.7,175.0 781.7,174.8 784.7,174.7"/>
<path stroke="#00BC54" d="M127.8,38.0L130.8,38.1 133.8,38.2 136.8,38.2 139.8,38.3 142.8,38.4 145.8,38.5 148.8,38.6 151.8,38.7 154.8,38.7 157.8,38.8 160.8,38.9 163.8,39.0 166.8,39.1 169.8,39.2 172.8,39.3 175.8,39.4 178.8,39.5 181.8,39.6 184.8,39.7 187.8,39.8 190.8,40.0 193.8,40.1 196.8,40.2 199.8,40.3 202.8,40.5 205.8,40.6 208.8,40.7 211.8,40.9 214.8,41.0 217.8,41.2 220.8,41.3 223.8,41.4 226.8,41.6 229.8,41.7 232.8,41.8 235.8,42.0 238.8,42.1 241.8,42.2 244.8,42.3 247.8,42.5 250.8,42.6 253.8,42.7 256.8,42.8 259.8,42.9 262.8,43.0 265.8,43.1 268.8,43.2 271.8,43.4 274.8,43.5 277.8,43.7 280.8,43.8 283.8,44.0 286.8,44.2 289.8,44.5 292.8,44.7 295.8,45.0 298.8,45.3 301.8,45.6 304.8,46.0 307.8,46.4 310.8,46.9 313.8,47.3 316.8,47.8 319.8,48.4 322.8,48.9 325.8,49.5 328.8,50.1 331.8,50.8 334.8,51.5 337.8,52.2 340.8,52.9 343.8,53.6 346.8,54.4 349.8,55.2 352.8,56.1 355.8,56.9 358.8,57.8 361.8,58.8 364.8,59.7 367.8,60.8 370.8,61.9 373.8,63.0 376.8,64.3 379.8,65.6 382.8,67.1 385.8,68.7 388.8,70.4 391.8,72.2 394.8,74.1 397.8,76.1 400.8,78.2 403.8,80.3 406.8,82.5 409.8,84.7 412.8,86.9 415.8,89.2 418.8,91.4 421.8,93.7 424.8,95.9 427.8,98.1 430.8,100.2 433.8,102.4 436.8,104.5 439.8,106.5 442.8,108.5 445.8,110.4 448.8,112.3 451.8,114.1 454.8,115.9 457.7,117.5 460.7,119.1 463.7,120.7 466.7,122.1 469.7,123.5 472.7,124.8 475.7,126.0 478.7,127.1 481.7,128.1 484.7,129.1 487.7,129.9 490.7,130.7 493.7,131.4 496.7,132.0 499.7,132.6 502.7,133.2 505.7,133.6 508.7,134.1 511.7,134.5 514.7,134.9 517.7,135.2 520.7,135.6 523.7,135.9 526.7,136.2 529.7,136.5 532.7,136.8 535.7,137.2 538.7,137.5 541.7,137.8 544.7,138.1 547.7,138.3 550.7,138.6 553.7,138.8 556.7,139.1 559.7,139.3 562.7,139.4 565.7,139.6 568.7,139.7 571.7,139.8 574.7,139.9 577.7,139.9 580.7,139.9 583.7,139.9 586.7,139.8 589.7,139.7 592.7,139.6 595.7,139.4 598.7,139.2 601.7,139.0 604.7,138.8 607.7,138.6 610.7,138.4 613.7,138.1 616.7,137.9 619.7,137.6 622.7,137.4 625.7,137.2 628.7,136.9 631.7,136.7 634.7,136.4 637.7,136.2 640.7,135.9 643.7,135.7 646.7,135.4 649.7,135.2 652.7,134.9 655.7,134.6 658.7,134.3 661.7,134.1 664.7,133.8 667.7,133.5 670.7,133.2 673.7,132.9 676.7,132.6 679.7,132.3 682.7,131.9 685.7,131.5 688.7,131.1 691.7,130.7 694.7,130.2 697.7,129.7 700.7,129.1 703.7,128.5 706.7,127.8 709.7,127.0 712.7,126.2 715.7,125.3 718.7,124.3 721.7,123.2 724.7,122.0 727.7,120.8 730.7,119.5 733.7,118.1 736.7,116.6 739.7,115.1 742.7,113.5 745.7,111.8 748.7,110.2 751.7,108.4 754.7,106.7 757.7,104.8 760.7,103.0 763.7,101.0 766.7,99.0 769.7,96.9 772.7,94.8 775.7,92.7 778.7,90.5 781.7,88.3 784.7,86.1"/>
<path stroke="#00BF7B" d="M127.8,63.6L130.8,62.5 133.8,61.5 136.8,60.4 139.8,59.4 142.8,58.4 145.8,57.4 148.8,56.4 151.8,55.5 154.8,54.6 157.8,53.7 160.8,52.9 163.8,52.1 166.8,51.3 169.8,50.6 172.8,50.0 175.8,49.3 178.8,48.8 181.8,48.3 184.8,47.8 187.8,47.3 190.8,46.9 193.8,46.6 196.8,46.3 199.8,46.0 202.8,45.8 205.8,45.6 208.8,45.4 211.8,45.3 214.8,45.2 217.8,45.1 220.8,45.0 223.8,45.0 226.8,44.9 229.8,44.9 232.8,44.9 235.8,44.9 238.8,44.9 241.8,44.9 244.8,44.9 247.8,44.9 250.8,44.9 253.8,45.0 256.8,45.0 259.8,45.1 262.8,45.1 265.8,45.2 268.8,45.4 271.8,45.5 274.8,45.7 277.8,45.9 280.8,46.2 283.8,46.5 286.8,46.9 289.8,47.2 292.8,47.7 295.8,48.2 298.8,48.7 301.8,49.3 304.8,50.0 307.8,50.7 310.8,51.5 313.8,52.3 316.8,53.2 319.8,54.1 322.8,55.1 325.8,56.2 328.8,57.2 331.8,58.4 334.8,59.5 337.8,60.7 340.8,61.9 343.8,63.2 346.8,64.5 349.8,65.8 352.8,67.1 355.8,68.5 358.8,69.9 361.8,71.2 364.8,72.7 367.8,74.1 370.8,75.6 373.8,77.2 376.8,78.8 379.8,80.5 382.8,82.4 385.8,84.3 388.8,86.4 391.8,88.6 394.8,90.8 397.8,93.0 400.8,95.1 403.8,97.2 406.8,99.2 409.8,101.2 412.8,103.1 415.8,105.1 418.8,107.2 421.8,109.3 424.8,111.5 427.8,113.7 430.8,115.8 433.8,117.8 436.8,119.5 439.8,121.0 442.8,122.3 445.8,123.4 448.8,124.5 451.8,125.5 454.8,126.5 457.7,127.6 460.7,128.8 463.7,130.1 466.7,131.5 469.7,133.0 472.7,134.6 475.7,136.3 478.7,138.0 481.7,139.8 484.7,141.5 487.7,143.2 490.7,144.8 493.7,146.3 496.7,147.5 499.7,148.6 502.7,149.5 505.7,150.2 508.7,150.9 511.7,151.4 514.7,151.8 517.7,152.2 520.7,152.6 523.7,153.0 526.7,153.5 529.7,154.0 532.7,154.5 535.7,155.0 538.7,155.6 541.7,156.2 544.7,156.8 547.7,157.5 550.7,158.1 553.7,158.7 556.7,159.3 559.7,160.0 562.7,160.6 565.7,161.1 568.7,161.7 571.7,162.1 574.7,162.5 577.7,162.9 580.7,163.1 583.7,163.2 586.7,163.2 589.7,163.1 592.7,162.9 595.7,162.6 598.7,162.3 601.7,161.8 604.7,161.4 607.7,160.8 610.7,160.3 613.7,159.7 616.7,159.1 619.7,158.5 622.7,157.9 625.7,157.3 628.7,156.7 631.7,156.1 634.7,155.6 637.7,155.0 640.7,154.4 643.7,153.9 646.7,153.3 649.7,152.8 652.7,152.3 655.7,151.8 658.7,151.3 661.7,150.8 664.7,150.3 667.7,149.8 670.7,149.3 673.7,148.9 676.7,148.4 679.7,147.9 682.7,147.5 685.7,147.0 688.7,146.5 691.7,146.0 694.7,145.6 697.7,145.1 700.7,144.6 703.7,144.1 706.7,143.7 709.7,143.2 712.7,142.7 715.7,142.2 718.7,141.7 721.7,141.2 724.7,140.7 727.7,140.2 730.7,139.7 733.7,139.2 736.7,138.7 739.7,138.2 742.7,137.7 745.7,137.2 748.7,136.7 751.7,136.2 754.7,135.7 757.7,135.2 760.7,134.7 763.7,134.2 766.7,133.7 769.7,133.2 772.7,132.6 775.7,132.1 778.7,131.6 781.7,131.1 784.7,130.6"/>
<path stroke="#00C089" d="M127.8,63.6L130.8,62.5 133.8,61.5 136.8,60.4 139.8,59.4 142.8,58.4 145.8,57.4 148.8,56.4 151.8,55.5 154.8,54.6 157.8,53.7 160.8,52.9 163.8,52.1 166.8,51.3 169.8,50.6 172.8,50.0 175.8,49.3 178.8,48.8 181.8,48.3 184.8,47.8 187.8,47.3 190.8,46.9 193.8,46.6 196.8,46.3 199.8,46.0 202.8,45.8 205.8,45.6 208.8,45.4 211.8,45.3 214.8,45.2 217.8,45.1 220.8,45.0 223.8,45.0 226.8,44.9 229.8,44.9 232.8,44.9 235.8,44.9 238.8,44.9 241.8,44.9 244.8,44.9 247.8,44.9 250.8,44.9 253.8,45.0 256.8,45.0 259.8,45.1 262.8,45.1 265.8,45.2 268.8,45.4 271.8,45.5 274.8,45.7 277.8,45.9 280.8,46.2 283.8,46.5 286.8,46.9 289.8,47.2 292.8,47.7 295.8,48.2 298.8,48.7 301.8,49.3 304.8,50.0 307.8,50.7 310.8,51.5 313.8,52.3 316.8,53.2 319.8,54.1 322.8,55.1 325.8,56.2 328.8,57.2 331.8,58.4 334.8,59.5 337.8,60.7 340.8,61.9 343.8,63.2 346.8,64.5 349.8,65.8 352.8,67.1 355.8,68.5 358.8,69.9 361.8,71.2 364.8,72.7 367.8,74.1 370.8,75.6 373.8,77.2 376.8,78.8 379.8,80.5 382.8,82.4 385.8,84.3 388.8,86.4 391.8,88.6 394.8,90.8 397.8,93.0 400.8,95.1 403.8,97.2 406.8,99.2 409.8,101.2 412.8,103.1 415.8,105.1 418.8,107.1 421.8,109.2 424.8,111.4 427.8,113.6 430.8,115.7 433.8,117.8 436.8,119.7 439.8,121.4 442.8,122.9 445.8,124.4 448.8,125.8 451.8,127.1 454.8,128.4 457.7,129.7 460.7,131.1 463.7,132.6 466.7,134.1 469.7,135.9 472.7,137.7 475.7,139.7 478.7,141.8 481.7,143.8 484.7,145.7 487.7,147.5 490.7,149.2 493.7,150.6 496.7,151.8 499.7,152.8 502.7,153.6 505.7,154.3 508.7,154.9 511.7,155.4 514.7,155.9 517.7,156.5 520.7,157.0 523.7,157.6 526.7,158.2 529.7,158.8 532.7,159.4 535.7,159.9 538.7,160.5 541.7,161.0 544.7,161.5 547.7,162.0 550.7,162.5 553.7,162.9 556.7,163.2 559.7,163.6 562.7,163.9 565.7,164.1 568.7,164.2 571.7,164.4 574.7,164.4 577.7,164.4 580.7,164.3 583.7,164.1 586.7,163.9 589.7,163.6 592.7,163.2 595.7,162.8 598.7,162.4 601.7,161.9 604.7,161.4 607.7,160.8 610.7,160.3 613.7,159.7 616.7,159.1 619.7,158.5 622.7,157.9 625.7,157.3 628.7,156.7 631.7,156.1 634.7,155.6 637.7,155.0 640.7,154.4 643.7,153.9 646.7,153.3 649.7,152.8 652.7,152.3 655.7,151.8 658.7,151.3 661.7,150.8 664.7,150.3 667.7,149.8 670.7,149.3 673.7,148.9 676.7,148.4 679.7,147.9 682.7,147.5 685.7,147.0 688.7,146.5 691.7,146.0 694.7,145.6 697.7,145.1 700.7,144.6 703.7,144.1 706.7,143.7 709.7,143.2 712.7,142.7 715.7,142.2 718.7,141.7 721.7,141.2 724.7,140.7 727.7,140.2 730.7,139.7 733.7,139.2 736.7,138.7 739.7,138.2 742.7,137.7 745.7,137.2 748.7,136.7 751.7,136.2 754.7,135.7 757.7,135.2 760.7,134.7 763.7,134.2 766.7,133.7 769.7,133.2 772.7,132.6 775.7,132.1 778.7,131.6 781.7,131.1 784.7,130.6"/>
<path stroke="#00C1A5" d="M127.8,25.3L130.8,24.6 133.8,23.9 136.8,23.2 139.8,22.6 142.8,22.0 145.8,21.4 148.8,20.8 151.8,20.4 154.8,19.9 157.8,19.5 160.8,19.2 163.8,18.8 166.8,18.6 169.8,18.3 172.8,18.1 175.8,17.9 178.8,17.8 181.8,17.6 184.8,17.5 187.8,17.4 190.8,17.4 193.8,17.3 196.8,17.3 199.8,17.2 202.8,17.2 205.8,17.2 208.8,17.3 211.8,17.3 214.8,17.4 217.8,17.5 220.8,17.6 223.8,17.8 226.8,18.0 229.8,18.1 232.8,18.3 235.8,18.5 238.8,18.7 241.8,19.0 244.8,19.2 247.8,19.4 250.8,19.7 253.8,20.0 256.8,20.2 259.8,20.5 262.8,20.8 265.8,21.1 268.8,21.4 271.8,21.8 274.8,22.1 277.8,22.5 280.8,22.9 283.8,23.3 286.8,23.7 289.8,24.2 292.8,24.7 295.8,25.2 298.8,25.7 301.8,26.3 304.8,26.9 307.8,27.6 310.8,28.3 313.8,29.0 316.8,29.7 319.8,30.5 322.8,31.4 325.8,32.3 328.8,33.2 331.8,34.2 334.8,35.3 337.8,36.4 340.8,37.6 343.8,38.8 346.8,40.2 349.8,41.5 352.8,43.0 355.8,44.5 358.8,46.1 361.8,47.8 364.8,49.6 367.8,51.4 370.8,53.2 373.8,55.0 376.8,56.9 379.8,58.7 382.8,60.5 385.8,62.4 388.8,64.2 391.8,66.1 394.8,67.9 397.8,69.8 400.8,71.7 403.8,73.6 406.8,75.5 409.8,77.4 412.8,79.2 415.8,81.1 418.8,83.0 421.8,84.8 424.8,86.6 427.8,88.4 430.8,90.2 433.8,91.9 436.8,93.6 439.8,95.2 442.8,96.8 445.8,98.3 448.8,99.8 451.8,101.2 454.8,102.6 457.7,103.9 460.7,105.1 463.7,106.3 466.7,107.5 469.7,108.5 472.7,109.5 475.7,110.4 478.7,111.3 481.7,112.1 484.7,112.9 487.7,113.5 490.7,114.1 493.7,114.7 496.7,115.2 499.7,115.7 502.7,116.1 505.7,116.5 508.7,116.9 511.7,117.2 514.7,117.5 517.7,117.8 520.7,118.1 523.7,118.3 526.7,118.6 529.7,118.9 532.7,119.1 535.7,119.4 538.7,119.6 541.7,119.9 544.7,120.1 547.7,120.4 550.7,120.7 553.7,121.0 556.7,121.3 559.7,121.6 562.7,121.9 565.7,122.2 568.7,122.6 571.7,122.9 574.7,123.2 577.7,123.5 580.7,123.8 583.7,124.1 586.7,124.4 589.7,124.6 592.7,124.8 595.7,125.0 598.7,125.1 601.7,125.2 604.7,125.3 607.7,125.3 610.7,125.3 613.7,125.2 616.7,125.2 619.7,125.1 622.7,124.9 625.7,124.8 628.7,124.6 631.7,124.4 634.7,124.1 637.7,123.9 640.7,123.6 643.7,123.3 646.7,122.9 649.7,122.6 652.7,122.2 655.7,121.7 658.7,121.3 661.7,120.8 664.7,120.3 667.7,119.7 670.7,119.1 673.7,118.5 676.7,117.9 679.7,117.2 682.7,116.5 685.7,115.7 688.7,114.9 691.7,114.1 694.7,113.3 697.7,112.4 700.7,111.4 703.7,110.5 706.7,109.5 709.7,108.4 712.7,107.4 715.7,106.3 718.7,105.1 721.7,104.0 724.7,102.8 727.7,101.5 730.7,100.3 733.7,99.0 736.7,97.6 739.7,96.2 742.7,94.8 745.7,93.4 748.7,91.9 751.7,90.4 754.7,88.8 757.7,87.2 760.7,85.6 763.7,83.9 766.7,82.2 769.7,80.5 772.7,78.8 775.7,77.1 778.7,75.3 781.7,73.6 784.7,71.8"/>
<path stroke="#00BDD3" d="M127.8,15.2L130.8,16.3 133.8,17.4 136.8,18.4 139.8,19.5 142.8,20.5 145.8,21.6 148.8,22.6 151.8,23.6 154.8,24.5 157.8,25.4 160.8,26.3 163.8,27.2 166.8,27.9 169.8,28.7 172.8,29.3 175.8,29.9 178.8,30.5 181.8,30.9 184.8,31.3 187.8,31.6 190.8,31.9 193.8,32.0 196.8,32.2 199.8,32.2 202.8,32.3 205.8,32.2 208.8,32.2 211.8,32.1 214.8,32.0 217.8,32.0 220.8,31.9 223.8,31.7 226.8,31.6 229.8,31.5 232.8,31.4 235.8,31.3 238.8,31.2 241.8,31.2 244.8,31.1 247.8,31.0 250.8,31.0 253.8,31.0 256.8,31.0 259.8,31.0 262.8,31.1 265.8,31.1 268.8,31.2 271.8,31.3 274.8,31.4 277.8,31.6 280.8,31.7 283.8,31.9 286.8,32.1 289.8,32.4 292.8,32.6 295.8,32.9 298.8,33.2 301.8,33.6 304.8,33.9 307.8,34.3 310.8,34.7 313.8,35.2 316.8,35.7 319.8,36.2 322.8,36.7 325.8,37.4 328.8,38.0 331.8,38.7 334.8,39.5 337.8,40.3 340.8,41.2 343.8,42.2 346.8,43.2 349.8,44.3 352.8,45.4 355.8,46.7 358.8,48.0 361.8,49.4 364.8,50.9 367.8,52.5 370.8,54.2 373.8,55.9 376.8,57.6 379.8,59.5 382.8,61.3 385.8,63.2 388.8,65.2 391.8,67.1 394.8,69.1 397.8,71.1 400.8,73.1 403.8,75.1 406.8,77.1 409.8,79.1 412.8,81.1 415.8,83.0 418.8,84.9 421.8,86.8 424.8,88.6 427.8,90.4 430.8,92.1 433.8,93.9 436.8,95.6 439.8,97.2 442.8,98.9 445.8,100.5 448.8,102.0 451.8,103.6 454.8,105.1 457.7,106.5 460.7,107.9 463.7,109.3 466.7,110.6 469.7,111.8 472.7,113.0 475.7,114.1 478.7,115.1 481.7,116.1 484.7,117.0 487.7,117.8 490.7,118.6 493.7,119.3 496.7,119.9 499.7,120.5 502.7,121.0 505.7,121.5 508.7,122.0 511.7,122.4 514.7,122.8 517.7,123.1 520.7,123.5 523.7,123.8 526.7,124.1 529.7,124.4 532.7,124.7 535.7,125.0 538.7,125.3 541.7,125.6 544.7,125.9 547.7,126.2 550.7,126.5 553.7,126.8 556.7,127.1 559.7,127.4 562.7,127.8 565.7,128.1 568.7,128.5 571.7,128.9 574.7,129.4 577.7,129.8 580.7,130.3 583.7,130.8 586.7,131.3 589.7,131.8 592.7,132.3 595.7,132.7 598.7,133.1 601.7,133.3 604.7,133.5 607.7,133.6 610.7,133.6 613.7,133.6 616.7,133.5 619.7,133.4 622.7,133.2 625.7,133.0 628.7,132.8 631.7,132.6 634.7,132.3 637.7,132.1 640.7,131.9 643.7,131.7 646.7,131.4 649.7,131.2 652.7,130.9 655.7,130.7 658.7,130.4 661.7,130.0 664.7,129.6 667.7,129.2 670.7,128.7 673.7,128.1 676.7,127.5 679.7,126.9 682.7,126.1 685.7,125.3 688.7,124.5 691.7,123.6 694.7,122.7 697.7,121.7 700.7,120.7 703.7,119.6 706.7,118.5 709.7,117.4 712.7,116.3 715.7,115.1 718.7,114.0 721.7,112.9 724.7,111.7 727.7,110.7 730.7,109.6 733.7,108.6 736.7,107.6 739.7,106.7 742.7,105.8 745.7,104.9 748.7,104.0 751.7,103.2 754.7,102.4 757.7,101.6 760.7,100.8 763.7,100.1 766.7,99.3 769.7,98.6 772.7,97.8 775.7,97.1 778.7,96.4 781.7,95.7 784.7,95.0"/>
<path stroke="#00BDD5" d="M127.8,50.2L130.8,50.2 133.8,50.2 136.8,50.2 139.8,50.1 142.8,50.1 145.8,50.1 148.8,50.1 151.8,50.1 154.8,50.1 157.8,50.1 160.8,50.1 163.8,50.1 166.8,50.1 169.8,50.1 172.8,50.1 175.8,50.2 178.8,50.2 181.8,50.2 184.8,50.2 187.8,50.3 190.8,50.3 193.8,50.3 196.8,50.4 199.8,50.4 202.8,50.5 205.8,50.5 208.8,50.6 211.8,50.7 214.8,50.8 217.8,50.9 220.8,51.0 223.8,51.1 226.8,51.2 229.8,51.4 232.8,51.6 235.8,51.8 238.8,52.0 241.8,52.3 244.8,52.5 247.8,52.8 250.8,53.2 253.8,53.5 256.8,53.9 259.8,54.4 262.8,54.8 265.8,55.3 268.8,55.7 271.8,56.2 274.8,56.7 277.8,57.3 280.8,57.8 283.8,58.3 286.8,58.9 289.8,59.4 292.8,60.0 295.8,60.5 298.8,61.0 301.8,61.6 304.8,62.1 307.8,62.6 310.8,63.1 313.8,63.6 316.8,64.1 319.8,64.6 322.8,65.1 325.8,65.6 328.8,66.1 331.8,66.6 334.8,67.1 337.8,67.7 340.8,68.2 343.8,68.8 346.8,69.4 349.8,70.0 352.8,70.6 355.8,71.3 358.8,72.0 361.8,72.7 364.8,73.5 367.8,74.3 370.8,75.1 373.8,75.9 376.8,76.8 379.8,77.7 382.8,78.7 385.8,79.6 388.8,80.6 391.8,81.7 394.8,82.7 397.8,83.8 400.8,84.9 403.8,86.0 406.8,87.2 409.8,88.4 412.8,89.6 415.8,90.8 418.8,92.1 421.8,93.4 424.8,94.6 427.8,95.9 430.8,97.2 433.8,98.4 436.8,99.7 439.8,100.9 442.8,102.0 445.8,103.1 448.8,104.2 451.8,105.2 454.8,106.2 457.7,107.1 460.7,108.0 463.7,108.8 466.7,109.6 469.7,110.4 472.7,111.2 475.7,111.9 478.7,112.6 481.7,113.3 484.7,113.9 487.7,114.6 490.7,115.2 493.7,115.8 496.7,116.3 499.7,116.8 502.7,117.3 505.7,117.7 508.7,118.1 511.7,118.5 514.7,118.8 517.7,119.2 520.7,119.5 523.7,119.9 526.7,120.3 529.7,120.7 532.7,121.1 535.7,121.6 538.7,122.1 541.7,122.6 544.7,123.1 547.7,123.6 550.7,124.2 553.7,124.7 556.7,125.3 559.7,125.9 562.7,126.5 565.7,127.1 568.7,127.7 571.7,128.3 574.7,128.9 577.7,129.5 580.7,130.1 583.7,130.7 586.7,131.3 589.7,131.8 592.7,132.3 595.7,132.8 598.7,133.1 601.7,133.4 604.7,133.6 607.7,133.7 610.7,133.7 613.7,133.7 616.7,133.6 619.7,133.4 622.7,133.2 625.7,133.0 628.7,132.8 631.7,132.6 634.7,132.3 637.7,132.1 640.7,131.9 643.7,131.7 646.7,131.4 649.7,131.2 652.7,130.9 655.7,130.7 658.7,130.4 661.7,130.0 664.7,129.6 667.7,129.2 670.7,128.7 673.7,128.1 676.7,127.5 679.7,126.9 682.7,126.1 685.7,125.3 688.7,124.5 691.7,123.6 694.7,122.7 697.7,121.7 700.7,120.7 703.7,119.6 706.7,118.5 709.7,117.4 712.7,116.3 715.7,115.1 718.7,114.0 721.7,112.9 724.7,111.7 727.7,110.7 730.7,109.6 733.7,108.6 736.7,107.6 739.7,106.7 742.7,105.8 745.7,104.9 748.7,104.0 751.7,103.2 754.7,102.4 757.7,101.6 760.7,100.8 763.7,100.1 766.7,99.3 769.7,98.6 772.7,97.8 775.7,97.1 778.7,96.4 781.7,95.7 784.7,95.0"/>
<path stroke="#00BAE0" d="M127.8,33.5L130.8,33.8 133.8,34.0 136.8,34.3 139.8,34.5 142.8,34.7 145.8,35.0 148.8,35.2 151.8,35.4 154.8,35.6 157.8,35.8 160.8,36.0 163.8,36.1 166.8,36.3 169.8,36.4 172.8,36.6 175.8,36.7 178.8,36.8 181.8,37.0 184.8,37.2 187.8,37.3 190.8,37.5 193.8,37.7 196.8,37.9 199.8,38.2 202.8,38.4 205.8,38.7 208.8,39.0 211.8,39.2 214.8,39.5 217.8,39.8 220.8,40.1 223.8,40.4 226.8,40.7 229.8,41.0 232.8,41.3 235.8,41.6 238.8,42.0 241.8,42.3 244.8,42.6 247.8,43.0 250.8,43.3 253.8,43.7 256.8,44.0 259.8,44.4 262.8,44.8 265.8,45.2 268.8,45.6 271.8,46.1 274.8,46.6 277.8,47.1 280.8,47.6 283.8,48.1 286.8,48.7 289.8,49.3 292.8,50.0 295.8,50.7 298.8,51.4 301.8,52.2 304.8,53.0 307.8,53.9 310.8,54.8 313.8,55.7 316.8,56.7 319.8,57.7 322.8,58.8 325.8,59.8 328.8,60.9 331.8,62.0 334.8,63.1 337.8,64.2 340.8,65.3 343.8,66.4 346.8,67.5 349.8,68.6 352.8,69.7 355.8,70.8 358.8,71.8 361.8,72.8 364.8,73.8 367.8,74.8 370.8,75.8 373.8,76.7 376.8,77.7 379.8,78.6 382.8,79.5 385.8,80.5 388.8,81.4 391.8,82.4 394.8,83.4 397.8,84.4 400.8,85.4 403.8,86.4 406.8,87.5 409.8,88.6 412.8,89.7 415.8,90.9 418.8,92.1 421.8,93.3 424.8,94.6 427.8,95.9 430.8,97.1 433.8,98.4 436.8,99.6 439.8,100.8 442.8,102.0 445.8,103.1 448.8,104.2 451.8,105.2 454.8,106.2 457.7,107.1 460.7,108.0 463.7,108.8 466.7,109.6 469.7,110.4 472.7,111.2 475.7,111.9 478.7,112.6 481.7,113.3 484.7,113.9 487.7,114.6 490.7,115.2 493.7,115.8 496.7,116.3 499.7,116.8 502.7,117.3 505.7,117.7 508.7,118.1 511.7,118.5 514.7,118.8 517.7,119.2 520.7,119.5 523.7,119.9 526.7,120.3 529.7,120.7 532.7,121.1 535.7,121.6 538.7,122.1 541.7,122.6 544.7,123.1 547.7,123.6 550.7,124.2 553.7,124.7 556.7,125.3 559.7,125.9 562.7,126.5 565.7,127.1 568.7,127.7 571.7,128.3 574.7,128.9 577.7,129.5 580.7,130.1 583.7,130.7 586.7,131.3 589.7,131.8 592.7,132.3 595.7,132.8 598.7,133.1 601.7,133.4 604.7,133.6 607.7,133.7 610.7,133.7 613.7,133.7 616.7,133.6 619.7,133.4 622.7,133.2 625.7,133.0 628.7,132.8 631.7,132.6 634.7,132.3 637.7,132.1 640.7,131.9 643.7,131.7 646.7,131.4 649.7,131.2 652.7,130.9 655.7,130.7 658.7,130.4 661.7,130.0 664.7,129.6 667.7,129.2 670.7,128.7 673.7,128.1 676.7,127.5 679.7,126.9 682.7,126.1 685.7,125.3 688.7,124.5 691.7,123.6 694.7,122.7 697.7,121.7 700.7,120.7 703.7,119.6 706.7,118.5 709.7,117.4 712.7,116.3 715.7,115.1 718.7,114.0 721.7,112.9 724.7,111.7 727.7,110.7 730.7,109.6 733.7,108.6 736.7,107.6 739.7,106.7 742.7,105.8 745.7,104.9 748.7,104.0 751.7,103.2 754.7,102.4 757.7,101.6 760.7,100.8 763.7,100.1 766.7,99.3 769.7,98.6 772.7,97.8 775.7,97.1 778.7,96.4 781.7,95.7 784.7,95.0"/>
<path stroke="#00B1F5" d="M127.8,63.0L130.8,63.4 133.8,63.7 136.8,64.1 139.8,64.4 142.8,64.8 145.8,65.1 148.8,65.5 151.8,65.8 154.8,66.2 157.8,66.5 160.8,66.9 163.8,67.3 166.8,67.6 169.8,68.0 172.8,68.3 175.8,68.7 178.8,69.1 181.8,69.4 184.8,69.8 187.8,70.1 190.8,70.5 193.8,70.9 196.8,71.2 199.8,71.6 202.8,72.0 205.8,72.3 208.8,72.7 211.8,73.1 214.8,73.4 217.8,73.8 220.8,74.1 223.8,74.5 226.8,74.8 229.8,75.2 232.8,75.5 235.8,75.8 238.8,76.1 241.8,76.5 244.8,76.8 247.8,77.1 250.8,77.4 253.8,77.6 256.8,77.9 259.8,78.2 262.8,78.5 265.8,78.7 268.8,79.0 271.8,79.2 274.8,79.5 277.8,79.7 280.8,80.0 283.8,80.2 286.8,80.4 289.8,80.7 292.8,80.9 295.8,81.1 298.8,81.4 301.8,81.6 304.8,81.8 307.8,82.0 310.8,82.2 313.8,82.5 316.8,82.7 319.8,82.9 322.8,83.1 325.8,83.3 328.8,83.5 331.8,83.7 334.8,83.9 337.8,84.1 340.8,84.3 343.8,84.5 346.8,84.6 349.8,84.8 352.8,84.9 355.8,85.0 358.8,85.1 361.8,85.2 364.8,85.3 367.8,85.4 370.8,85.5 373.8,85.5 376.8,85.6 379.8,85.7 382.8,85.8 385.8,86.0 388.8,86.1 391.8,86.3 394.8,86.5 397.8,86.8 400.8,87.0 403.8,87.4 406.8,87.7 409.8,88.1 412.8,88.6 415.8,89.1 418.8,89.7 421.8,90.4 424.8,91.0 427.8,91.8 430.8,92.5 433.8,93.4 436.8,94.2 439.8,95.1 442.8,96.0 445.8,96.9 448.8,97.8 451.8,98.7 454.8,99.7 457.7,100.7 460.7,101.7 463.7,102.6 466.7,103.6 469.7,104.6 472.7,105.6 475.7,106.5 478.7,107.5 481.7,108.4 484.7,109.3 487.7,110.2 490.7,111.0 493.7,111.8 496.7,112.5 499.7,113.1 502.7,113.5 505.7,113.9 508.7,114.2 511.7,114.4 514.7,114.5 517.7,114.6 520.7,114.7 523.7,114.9 526.7,115.0 529.7,115.2 532.7,115.4 535.7,115.7 538.7,116.0 541.7,116.3 544.7,116.7 547.7,117.0 550.7,117.4 553.7,117.8 556.7,118.2 559.7,118.6 562.7,118.9 565.7,119.3 568.7,119.7 571.7,120.0 574.7,120.3 577.7,120.6 580.7,120.9 583.7,121.1 586.7,121.3 589.7,121.4 592.7,121.5 595.7,121.6 598.7,121.6 601.7,121.6 604.7,121.5 607.7,121.3 610.7,121.0 613.7,120.7 616.7,120.3 619.7,119.9 622.7,119.4 625.7,118.8 628.7,118.1 631.7,117.4 634.7,116.6 637.7,115.8 640.7,114.9 643.7,114.0 646.7,113.0 649.7,112.0 652.7,111.0 655.7,109.9 658.7,108.8 661.7,107.6 664.7,106.5 667.7,105.3 670.7,104.1 673.7,102.8 676.7,101.5 679.7,100.3 682.7,98.9 685.7,97.6 688.7,96.2 691.7,94.8 694.7,93.4 697.7,91.9 700.7,90.5 703.7,89.0 706.7,87.5 709.7,85.9 712.7,84.4 715.7,82.8 718.7,81.2 721.7,79.6 724.7,78.0 727.7,76.4 730.7,74.7 733.7,73.0 736.7,71.3 739.7,69.6 742.7,67.8 745.7,66.0 748.7,64.2 751.7,62.4 754.7,60.5 757.7,58.6 760.7,56.7 763.7,54.7 766.7,52.7 769.7,50.7 772.7,48.7 775.7,46.7 778.7,44.7 781.7,42.7 784.7,40.6"/>
<path stroke="#18A3FF" d="M127.8,58.0L130.8,57.1 133.8,56.3 136.8,55.4 139.8,54.6 142.8,53.7 145.8,52.9 148.8,52.0 151.8,51.2 154.8,50.4 157.8,49.5 160.8,48.7 163.8,47.9 166.8,47.1 169.8,46.3 172.8,45.6 175.8,44.8 178.8,44.2 181.8,43.5 184.8,42.9 187.8,42.3 190.8,41.8 193.8,41.4 196.8,40.9 199.8,40.5 202.8,40.2 205.8,39.8 208.8,39.5 211.8,39.1 214.8,38.8 217.8,38.4 220.8,38.1 223.8,37.8 226.8,37.4 229.8,37.1 232.8,36.8 235.8,36.5 238.8,36.3 241.8,36.0 244.8,35.8 247.8,35.6 250.8,35.4 253.8,35.2 256.8,35.1 259.8,35.0 262.8,34.9 265.8,34.9 268.8,34.9 271.8,34.9 274.8,34.9 277.8,35.0 280.8,35.0 283.8,35.1 286.8,35.3 289.8,35.4 292.8,35.6 295.8,35.7 298.8,36.0 301.8,36.2 304.8,36.4 307.8,36.7 310.8,37.0 313.8,37.3 316.8,37.6 319.8,38.0 322.8,38.4 325.8,38.8 328.8,39.3 331.8,39.9 334.8,40.5 337.8,41.1 340.8,41.8 343.8,42.6 346.8,43.5 349.8,44.4 352.8,45.5 355.8,46.6 358.8,47.8 361.8,49.2 364.8,50.6 367.8,52.2 370.8,53.7 373.8,55.4 376.8,57.0 379.8,58.7 382.8,60.3 385.8,62.0 388.8,63.7 391.8,65.4 394.8,67.1 397.8,68.9 400.8,70.7 403.8,72.5 406.8,74.4 409.8,76.2 412.8,77.9 415.8,79.5 418.8,81.0 421.8,82.3 424.8,83.4 427.8,84.3 430.8,85.1 433.8,85.7 436.8,86.3 439.8,86.7 442.8,87.1 445.8,87.5 448.8,87.9 451.8,88.2 454.8,88.6 457.7,88.9 460.7,89.3 463.7,89.6 466.7,89.9 469.7,90.2 472.7,90.5 475.7,90.7 478.7,91.0 481.7,91.2 484.7,91.4 487.7,91.6 490.7,91.8 493.7,92.0 496.7,92.2 499.7,92.3 502.7,92.5 505.7,92.6 508.7,92.8 511.7,93.0 514.7,93.1 517.7,93.3 520.7,93.5 523.7,93.7 526.7,93.9 529.7,94.2 532.7,94.4 535.7,94.6 538.7,94.9 541.7,95.1 544.7,95.3 547.7,95.5 550.7,95.8 553.7,96.0 556.7,96.2 559.7,96.3 562.7,96.5 565.7,96.7 568.7,96.8 571.7,96.9 574.7,97.0 577.7,97.1 580.7,97.2 583.7,97.3 586.7,97.3 589.7,97.4 592.7,97.4 595.7,97.5 598.7,97.5 601.7,97.6 604.7,97.6 607.7,97.6 610.7,97.6 613.7,97.6 616.7,97.6 619.7,97.7 622.7,97.7 625.7,97.7 628.7,97.7 631.7,97.7 634.7,97.7 637.7,97.7 640.7,97.7 643.7,97.7 646.7,97.6 649.7,97.6 652.7,97.6 655.7,97.6 658.7,97.6 661.7,97.5 664.7,97.5 667.7,97.5 670.7,97.4 673.7,97.4 676.7,97.3 679.7,97.3 682.7,97.2 685.7,97.2 688.7,97.1 691.7,97.0 694.7,97.0 697.7,96.9 700.7,96.8 703.7,96.7 706.7,96.6 709.7,96.5 712.7,96.3 715.7,96.2 718.7,96.1 721.7,95.9 724.7,95.7 727.7,95.5 730.7,95.4 733.7,95.2 736.7,94.9 739.7,94.7 742.7,94.5 745.7,94.3 748.7,94.0 751.7,93.8 754.7,93.5 757.7,93.3 760.7,93.0 763.7,92.7 766.7,92.5 769.7,92.2 772.7,91.9 775.7,91.6 778.7,91.4 781.7,91.1 784.7,90.8"/>
<path stroke="#00ADFA" d="M127.8,62.5L130.8,62.8 133.8,63.2 136.8,63.5 139.8,63.9 142.8,64.2 145.8,64.6 148.8,65.0 151.8,65.3 154.8,65.7 157.8,66.0 160.8,66.4 163.8,66.8 166.8,67.2 169.8,67.5 172.8,67.9 175.8,68.3 178.8,68.7 181.8,69.1 184.8,69.5 187.8,69.8 190.8,70.2 193.8,70.6 196.8,71.0 199.8,71.4 202.8,71.7 205.8,72.1 208.8,72.5 211.8,72.8 214.8,73.2 217.8,73.5 220.8,73.9 223.8,74.2 226.8,74.6 229.8,74.9 232.8,75.2 235.8,75.5 238.8,75.9 241.8,76.2 244.8,76.5 247.8,76.8 250.8,77.1 253.8,77.3 256.8,77.6 259.8,77.9 262.8,78.2 265.8,78.4 268.8,78.7 271.8,78.9 274.8,79.2 277.8,79.4 280.8,79.7 283.8,79.9 286.8,80.1 289.8,80.4 292.8,80.6 295.8,80.8 298.8,81.0 301.8,81.3 304.8,81.5 307.8,81.7 310.8,82.0 313.8,82.2 316.8,82.4 319.8,82.6 322.8,82.8 325.8,83.1 328.8,83.3 331.8,83.5 334.8,83.7 337.8,83.9 340.8,84.0 343.8,84.2 346.8,84.4 349.8,84.5 352.8,84.7 355.8,84.8 358.8,84.9 361.8,85.0 364.8,85.1 367.8,85.2 370.8,85.3 373.8,85.4 376.8,85.5 379.8,85.6 382.8,85.7 385.8,85.9 388.8,86.0 391.8,86.2 394.8,86.4 397.8,86.6 400.8,86.9 403.8,87.2 406.8,87.6 409.8,87.9 412.8,88.4 415.8,88.9 418.8,89.4 421.8,90.0 424.8,90.6 427.8,91.3 430.8,92.1 433.8,92.8 436.8,93.6 439.8,94.5 442.8,95.4 445.8,96.3 448.8,97.3 451.8,98.2 454.8,99.2 457.7,100.2 460.7,101.2 463.7,102.2 466.7,103.3 469.7,104.3 472.7,105.3 475.7,106.3 478.7,107.2 481.7,108.2 484.7,109.1 487.7,110.0 490.7,110.8 493.7,111.6 496.7,112.2 499.7,112.8 502.7,113.3 505.7,113.6 508.7,113.9 511.7,114.1 514.7,114.2 517.7,114.3 520.7,114.4 523.7,114.5 526.7,114.7 529.7,114.9 532.7,115.1 535.7,115.4 538.7,115.7 541.7,116.0 544.7,116.4 547.7,116.7 550.7,117.1 553.7,117.5 556.7,117.9 559.7,118.3 562.7,118.7 565.7,119.1 568.7,119.4 571.7,119.8 574.7,120.1 577.7,120.4 580.7,120.7 583.7,120.9 586.7,121.1 589.7,121.2 592.7,121.3 595.7,121.3 598.7,121.3 601.7,121.1 604.7,121.0 607.7,120.7 610.7,120.4 613.7,120.0 616.7,119.5 619.7,119.0 622.7,118.4 625.7,117.7 628.7,117.0 631.7,116.2 634.7,115.4 637.7,114.6 640.7,113.6 643.7,112.7 646.7,111.7 649.7,110.6 652.7,109.5 655.7,108.4 658.7,107.3 661.7,106.1 664.7,104.9 667.7,103.7 670.7,102.4 673.7,101.2 676.7,99.8 679.7,98.5 682.7,97.1 685.7,95.8 688.7,94.3 691.7,92.9 694.7,91.4 697.7,89.9 700.7,88.4 703.7,86.8 706.7,85.3 709.7,83.7 712.7,82.1 715.7,80.4 718.7,78.8 721.7,77.1 724.7,75.4 727.7,73.6 730.7,71.9 733.7,70.1 736.7,68.3 739.7,66.5 742.7,64.6 745.7,62.7 748.7,60.8 751.7,58.8 754.7,56.8 757.7,54.8 760.7,52.7 763.7,50.6 766.7,48.5 769.7,46.4 772.7,44.3 775.7,42.1 778.7,40.0 781.7,37.8 784.7,35.6"/>
<path stroke="#7A97FF" d="M127.8,35.8L130.8,35.1 133.8,34.4 136.8,33.7 139.8,33.1 142.8,32.4 145.8,31.8 148.8,31.2 151.8,30.6 154.8,30.0 157.8,29.5 160.8,29.0 163.8,28.5 166.8,28.0 169.8,27.6 172.8,27.2 175.8,26.8 178.8,26.4 181.8,26.1 184.8,25.7 187.8,25.3 190.8,25.0 193.8,24.6 196.8,24.2 199.8,23.8 202.8,23.4 205.8,23.1 208.8,22.8 211.8,22.5 214.8,22.2 217.8,22.0 220.8,21.9 223.8,21.8 226.8,21.8 229.8,21.9 232.8,22.0 235.8,22.1 238.8,22.3 241.8,22.5 244.8,22.6 247.8,22.8 250.8,23.0 253.8,23.2 256.8,23.4 259.8,23.7 262.8,23.9 265.8,24.1 268.8,24.3 271.8,24.6 274.8,24.8 277.8,25.1 280.8,25.4 283.8,25.7 286.8,26.0 289.8,26.4 292.8,26.7 295.8,27.1 298.8,27.6 301.8,28.0 304.8,28.5 307.8,29.1 310.8,29.7 313.8,30.3 316.8,30.9 319.8,31.6 322.8,32.4 325.8,33.2 328.8,34.0 331.8,34.9 334.8,35.9 337.8,36.9 340.8,38.0 343.8,39.2 346.8,40.5 349.8,41.8 352.8,43.2 355.8,44.7 358.8,46.3 361.8,48.1 364.8,49.9 367.8,51.8 370.8,53.8 373.8,55.8 376.8,57.8 379.8,59.8 382.8,61.8 385.8,64.0 388.8,66.2 391.8,68.4 394.8,70.8 397.8,73.2 400.8,75.7 403.8,78.2 406.8,80.7 409.8,83.3 412.8,86.0 415.8,88.7 418.8,91.3 421.8,94.0 424.8,96.7 427.8,99.3 430.8,102.0 433.8,104.5 436.8,107.0 439.8,109.5 442.8,111.8 445.8,114.1 448.8,116.2 451.8,118.3 454.8,120.2 457.7,122.1 460.7,123.9 463.7,125.6 466.7,127.2 469.7,128.8 472.7,130.3 475.7,131.8 478.7,133.2 481.7,134.4 484.7,135.5 487.7,136.5 490.7,137.4 493.7,138.2 496.7,138.9 499.7,139.5 502.7,140.0 505.7,140.5 508.7,140.9 511.7,141.3 514.7,141.7 517.7,142.1 520.7,142.4 523.7,142.8 526.7,143.2 529.7,143.7 532.7,144.1 535.7,144.6 538.7,145.1 541.7,145.6 544.7,146.2 547.7,146.7 550.7,147.2 553.7,147.7 556.7,148.3 559.7,148.7 562.7,149.2 565.7,149.7 568.7,150.1 571.7,150.5 574.7,150.9 577.7,151.2 580.7,151.5 583.7,151.7 586.7,151.9 589.7,152.1 592.7,152.2 595.7,152.2 598.7,152.2 601.7,152.2 604.7,152.1 607.7,152.0 610.7,151.9 613.7,151.7 616.7,151.6 619.7,151.4 622.7,151.3 625.7,151.1 628.7,150.9 631.7,150.7 634.7,150.6 637.7,150.4 640.7,150.2 643.7,150.0 646.7,149.7 649.7,149.5 652.7,149.3 655.7,149.1 658.7,148.9 661.7,148.7 664.7,148.4 667.7,148.2 670.7,148.0 673.7,147.8 676.7,147.6 679.7,147.4 682.7,147.2 685.7,147.0 688.7,146.8 691.7,146.6 694.7,146.4 697.7,146.2 700.7,146.1 703.7,145.9 706.7,145.8 709.7,145.6 712.7,145.5 715.7,145.4 718.7,145.3 721.7,145.2 724.7,145.1 727.7,145.0 730.7,144.9 733.7,144.9 736.7,144.8 739.7,144.8 742.7,144.8 745.7,144.8 748.7,144.8 751.7,144.8 754.7,144.8 757.7,144.8 760.7,144.8 763.7,144.8 766.7,144.8 769.7,144.8 772.7,144.9 775.7,144.9 778.7,144.9 781.7,145.0 784.7,145.0"/>
<path stroke="#B385FF" d="M127.8,32.0L130.8,32.0 133.8,32.1 136.8,32.1 139.8,32.2 142.8,32.3 145.8,32.3 148.8,32.4 151.8,32.4 154.8,32.5 157.8,32.6 160.8,32.7 163.8,32.8 166.8,32.9 169.8,33.0 172.8,33.1 175.8,33.2 178.8,33.3 181.8,33.5 184.8,33.6 187.8,33.8 190.8,33.9 193.8,34.1 196.8,34.3 199.8,34.5 202.8,34.7 205.8,35.0 208.8,35.2 211.8,35.5 214.8,35.7 217.8,36.0 220.8,36.4 223.8,36.7 226.8,37.0 229.8,37.4 232.8,37.8 235.8,38.2 238.8,38.6 241.8,39.0 244.8,39.5 247.8,40.0 250.8,40.5 253.8,41.0 256.8,41.6 259.8,42.1 262.8,42.7 265.8,43.3 268.8,43.9 271.8,44.6 274.8,45.2 277.8,45.8 280.8,46.5 283.8,47.2 286.8,47.8 289.8,48.5 292.8,49.2 295.8,49.9 298.8,50.5 301.8,51.2 304.8,51.9 307.8,52.6 310.8,53.2 313.8,53.9 316.8,54.6 319.8,55.3 322.8,56.0 325.8,56.7 328.8,57.4 331.8,58.2 334.8,58.9 337.8,59.7 340.8,60.5 343.8,61.3 346.8,62.2 349.8,63.1 352.8,64.0 355.8,65.0 358.8,66.0 361.8,67.0 364.8,68.1 367.8,69.2 370.8,70.4 373.8,71.6 376.8,72.8 379.8,74.1 382.8,75.5 385.8,76.9 388.8,78.3 391.8,79.8 394.8,81.3 397.8,82.9 400.8,84.5 403.8,86.1 406.8,87.8 409.8,89.6 412.8,91.4 415.8,93.3 418.8,95.2 421.8,97.1 424.8,99.0 427.8,101.0 430.8,102.9 433.8,104.9 436.8,106.8 439.8,108.7 442.8,110.5 445.8,112.3 448.8,114.0 451.8,115.6 454.8,117.2 457.7,118.7 460.7,120.1 463.7,121.5 466.7,122.8 469.7,124.0 472.7,125.1 475.7,126.2 478.7,127.2 481.7,128.1 484.7,129.0 487.7,129.8 490.7,130.5 493.7,131.2 496.7,131.8 499.7,132.4 502.7,132.9 505.7,133.4 508.7,133.9 511.7,134.3 514.7,134.7 517.7,135.1 520.7,135.4 523.7,135.8 526.7,136.2 529.7,136.5 532.7,136.9 535.7,137.2 538.7,137.6 541.7,137.9 544.7,138.3 547.7,138.6 550.7,138.9 553.7,139.3 556.7,139.6 559.7,139.9 562.7,140.2 565.7,140.5 568.7,140.8 571.7,141.1 574.7,141.4 577.7,141.7 580.7,142.0 583.7,142.2 586.7,142.5 589.7,142.7 592.7,142.9 595.7,143.2 598.7,143.4 601.7,143.6 604.7,143.8 607.7,143.9 610.7,144.1 613.7,144.3 616.7,144.4 619.7,144.5 622.7,144.6 625.7,144.7 628.7,144.8 631.7,144.9 634.7,145.0 637.7,145.0 640.7,145.1 643.7,145.1 646.7,145.1 649.7,145.1 652.7,145.1 655.7,145.0 658.7,145.0 661.7,144.9 664.7,144.8 667.7,144.7 670.7,144.6 673.7,144.5 676.7,144.3 679.7,144.2 682.7,144.0 685.7,143.7 688.7,143.5 691.7,143.2 694.7,142.9 697.7,142.6 700.7,142.3 703.7,141.9 706.7,141.5 709.7,141.1 712.7,140.6 715.7,140.2 718.7,139.6 721.7,139.1 724.7,138.5 727.7,137.9 730.7,137.3 733.7,136.6 736.7,135.9 739.7,135.1 742.7,134.3 745.7,133.5 748.7,132.6 751.7,131.7 754.7,130.7 757.7,129.7 760.7,128.6 763.7,127.6 766.7,126.4 769.7,125.2 772.7,124.0 775.7,122.8 778.7,121.6 781.7,120.3 784.7,119.1"/>
<path stroke="#C57DFF" d="M127.8,73.0L130.8,72.2 133.8,71.3 136.8,70.5 139.8,69.7 142.8,68.8 145.8,68.0 148.8,67.1 151.8,66.3 154.8,65.4 157.8,64.6 160.8,63.7 163.8,62.9 166.8,62.0 169.8,61.2 172.8,60.3 175.8,59.5 178.8,58.6 181.8,57.8 184.8,56.9 187.8,56.1 190.8,55.3 193.8,54.5 196.8,53.7 199.8,53.0 202.8,52.2 205.8,51.5 208.8,50.8 211.8,50.2 214.8,49.5 217.8,48.9 220.8,48.4 223.8,47.8 226.8,47.3 229.8,46.9 232.8,46.4 235.8,46.1 238.8,45.8 241.8,45.5 244.8,45.2 247.8,45.1 250.8,45.0 253.8,44.9 256.8,44.9 259.8,44.9 262.8,45.0 265.8,45.1 268.8,45.3 271.8,45.5 274.8,45.7 277.8,46.0 280.8,46.4 283.8,46.7 286.8,47.1 289.8,47.5 292.8,47.9 295.8,48.4 298.8,48.9 301.8,49.4 304.8,49.9 307.8,50.4 310.8,51.0 313.8,51.6 316.8,52.2 319.8,52.8 322.8,53.4 325.8,54.1 328.8,54.8 331.8,55.5 334.8,56.3 337.8,57.1 340.8,58.0 343.8,58.8 346.8,59.8 349.8,60.7 352.8,61.8 355.8,62.8 358.8,64.0 361.8,65.2 364.8,66.4 367.8,67.7 370.8,69.0 373.8,70.4 376.8,71.8 379.8,73.3 382.8,74.8 385.8,76.3 388.8,77.9 391.8,79.5 394.8,81.1 397.8,82.7 400.8,84.4 403.8,86.1 406.8,87.8 409.8,89.5 412.8,91.3 415.8,93.0 418.8,94.8 421.8,96.6 424.8,98.3 427.8,100.1 430.8,101.9 433.8,103.6 436.8,105.3 439.8,107.1 442.8,108.8 445.8,110.5 448.8,112.1 451.8,113.8 454.8,115.4 457.7,116.9 460.7,118.4 463.7,119.9 466.7,121.3 469.7,122.6 472.7,123.8 475.7,125.0 478.7,126.1 481.7,127.0 484.7,127.9 487.7,128.7 490.7,129.4 493.7,130.1 496.7,130.6 499.7,131.2 502.7,131.6 505.7,132.0 508.7,132.4 511.7,132.7 514.7,133.0 517.7,133.3 520.7,133.6 523.7,133.9 526.7,134.2 529.7,134.5 532.7,134.8 535.7,135.1 538.7,135.4 541.7,135.7 544.7,136.0 547.7,136.3 550.7,136.7 553.7,137.0 556.7,137.3 559.7,137.7 562.7,138.0 565.7,138.3 568.7,138.7 571.7,139.0 574.7,139.3 577.7,139.6 580.7,140.0 583.7,140.3 586.7,140.6 589.7,140.9 592.7,141.2 595.7,141.5 598.7,141.8 601.7,142.1 604.7,142.3 607.7,142.6 610.7,142.9 613.7,143.2 616.7,143.4 619.7,143.7 622.7,143.9 625.7,144.2 628.7,144.4 631.7,144.7 634.7,144.9 637.7,145.2 640.7,145.4 643.7,145.6 646.7,145.8 649.7,146.0 652.7,146.2 655.7,146.4 658.7,146.6 661.7,146.7 664.7,146.9 667.7,147.0 670.7,147.1 673.7,147.2 676.7,147.4 679.7,147.4 682.7,147.5 685.7,147.6 688.7,147.7 691.7,147.8 694.7,147.9 697.7,148.0 700.7,148.1 703.7,148.2 706.7,148.3 709.7,148.4 712.7,148.5 715.7,148.6 718.7,148.8 721.7,148.9 724.7,149.1 727.7,149.3 730.7,149.5 733.7,149.7 736.7,149.9 739.7,150.1 742.7,150.4 745.7,150.6 748.7,150.9 751.7,151.2 754.7,151.5 757.7,151.7 760.7,152.0 763.7,152.3 766.7,152.6 769.7,152.9 772.7,153.2 775.7,153.5 778.7,153.9 781.7,154.2 784.7,154.5"/>
<path stroke="#D575FE" d="M127.8,27.8L130.8,27.9 133.8,28.1 136.8,28.2 139.8,28.3 142.8,28.5 145.8,28.6 148.8,28.7 151.8,28.9 154.8,29.0 157.8,29.2 160.8,29.4 163.8,29.5 166.8,29.7 169.8,29.9 172.8,30.1 175.8,30.3 178.8,30.5 181.8,30.8 184.8,31.0 187.8,31.2 190.8,31.5 193.8,31.8 196.8,32.1 199.8,32.4 202.8,32.7 205.8,33.0 208.8,33.4 211.8,33.7 214.8,34.1 217.8,34.5 220.8,34.8 223.8,35.2 226.8,35.7 229.8,36.1 232.8,36.5 235.8,37.0 238.8,37.5 241.8,38.0 244.8,38.5 247.8,39.0 250.8,39.5 253.8,40.0 256.8,40.6 259.8,41.2 262.8,41.7 265.8,42.3 268.8,42.9 271.8,43.5 274.8,44.2 277.8,44.8 280.8,45.4 283.8,46.1 286.8,46.8 289.8,47.4 292.8,48.1 295.8,48.8 298.8,49.5 301.8,50.2 304.8,50.9 307.8,51.6 310.8,52.4 313.8,53.1 316.8,53.8 319.8,54.6 322.8,55.4 325.8,56.1 328.8,56.9 331.8,57.8 334.8,58.6 337.8,59.4 340.8,60.3 343.8,61.2 346.8,62.1 349.8,63.0 352.8,63.9 355.8,64.9 358.8,65.9 361.8,66.9 364.8,68.0 367.8,69.1 370.8,70.2 373.8,71.3 376.8,72.5 379.8,73.7 382.8,75.0 385.8,76.2 388.8,77.6 391.8,78.9 394.8,80.3 397.8,81.7 400.8,83.2 403.8,84.7 406.8,86.3 409.8,87.9 412.8,89.5 415.8,91.2 418.8,92.9 421.8,94.7 424.8,96.5 427.8,98.2 430.8,100.0 433.8,101.7 436.8,103.4 439.8,105.1 442.8,106.6 445.8,108.1 448.8,109.5 451.8,110.9 454.8,112.1 457.7,113.3 460.7,114.3 463.7,115.4 466.7,116.3 469.7,117.2 472.7,118.0 475.7,118.8 478.7,119.5 481.7,120.1 484.7,120.7 487.7,121.3 490.7,121.8 493.7,122.3 496.7,122.8 499.7,123.2 502.7,123.7 505.7,124.1 508.7,124.5 511.7,125.0 514.7,125.4 517.7,125.9 520.7,126.3 523.7,126.8 526.7,127.4 529.7,127.9 532.7,128.4 535.7,128.9 538.7,129.4 541.7,129.8 544.7,130.3 547.7,130.6 550.7,130.9 553.7,131.2 556.7,131.4 559.7,131.5 562.7,131.6 565.7,131.6 568.7,131.6 571.7,131.5 574.7,131.4 577.7,131.2 580.7,131.0 583.7,130.7 586.7,130.4 589.7,130.0 592.7,129.6 595.7,129.2 598.7,128.7 601.7,128.2 604.7,127.7 607.7,127.2 610.7,126.6 613.7,126.0 616.7,125.4 619.7,124.8 622.7,124.2 625.7,123.6 628.7,123.0 631.7,122.4 634.7,121.7 637.7,121.1 640.7,120.6 643.7,120.0 646.7,119.4 649.7,118.9 652.7,118.3 655.7,117.8 658.7,117.3 661.7,116.7 664.7,116.1 667.7,115.6 670.7,114.9 673.7,114.3 676.7,113.6 679.7,112.9 682.7,112.2 685.7,111.3 688.7,110.5 691.7,109.6 694.7,108.6 697.7,107.6 700.7,106.5 703.7,105.4 706.7,104.3 709.7,103.1 712.7,101.9 715.7,100.7 718.7,99.5 721.7,98.2 724.7,97.0 727.7,95.7 730.7,94.4 733.7,93.1 736.7,91.8 739.7,90.5 742.7,89.2 745.7,87.9 748.7,86.5 751.7,85.2 754.7,83.8 757.7,82.5 760.7,81.1 763.7,79.8 766.7,78.4 769.7,77.0 772.7,75.6 775.7,74.3 778.7,72.9 781.7,71.5 784.7,70.1"/>
<path stroke="#DE70F9" d="M127.8,29.0L130.8,29.1 133.8,29.2 136.8,29.3 139.8,29.4 142.8,29.5 145.8,29.6 148.8,29.7 151.8,29.9 154.8,30.0 157.8,30.2 160.8,30.3 163.8,30.5 166.8,30.7 169.8,30.8 172.8,31.0 175.8,31.3 178.8,31.5 181.8,31.7 184.8,32.0 187.8,32.3 190.8,32.6 193.8,32.9 196.8,33.3 199.8,33.6 202.8,34.0 205.8,34.3 208.8,34.7 211.8,35.1 214.8,35.5 217.8,35.9 220.8,36.3 223.8,36.7 226.8,37.1 229.8,37.5 232.8,37.9 235.8,38.3 238.8,38.7 241.8,39.1 244.8,39.5 247.8,39.9 250.8,40.3 253.8,40.7 256.8,41.0 259.8,41.4 262.8,41.7 265.8,42.1 268.8,42.5 271.8,42.9 274.8,43.2 277.8,43.6 280.8,44.0 283.8,44.4 286.8,44.9 289.8,45.3 292.8,45.8 295.8,46.3 298.8,46.8 301.8,47.4 304.8,48.0 307.8,48.6 310.8,49.3 313.8,49.9 316.8,50.7 319.8,51.4 322.8,52.2 325.8,53.0 328.8,53.8 331.8,54.7 334.8,55.6 337.8,56.5 340.8,57.5 343.8,58.5 346.8,59.5 349.8,60.6 352.8,61.7 355.8,62.8 358.8,63.9 361.8,65.1 364.8,66.3 367.8,67.5 370.8,68.7 373.8,70.0 376.8,71.3 379.8,72.7 382.8,74.0 385.8,75.4 388.8,76.9 391.8,78.3 394.8,79.8 397.8,81.3 400.8,82.9 403.8,84.5 406.8,86.1 409.8,87.8 412.8,89.4 415.8,91.1 418.8,92.9 421.8,94.6 424.8,96.4 427.8,98.2 430.8,99.9 433.8,101.7 436.8,103.4 439.8,105.1 442.8,106.7 445.8,108.3 448.8,109.8 451.8,111.2 454.8,112.6 457.7,113.9 460.7,115.2 463.7,116.4 466.7,117.5 469.7,118.6 472.7,119.6 475.7,120.5 478.7,121.3 481.7,122.1 484.7,122.8 487.7,123.5 490.7,124.0 493.7,124.6 496.7,125.1 499.7,125.5 502.7,125.9 505.7,126.2 508.7,126.6 511.7,126.9 514.7,127.2 517.7,127.4 520.7,127.7 523.7,127.9 526.7,128.2 529.7,128.4 532.7,128.6 535.7,128.9 538.7,129.1 541.7,129.3 544.7,129.6 547.7,129.8 550.7,130.0 553.7,130.2 556.7,130.3 559.7,130.5 562.7,130.6 565.7,130.7 568.7,130.8 571.7,130.9 574.7,130.9 577.7,131.0 580.7,131.0 583.7,130.9 586.7,130.8 589.7,130.7 592.7,130.6 595.7,130.5 598.7,130.3 601.7,130.1 604.7,129.9 607.7,129.7 610.7,129.4 613.7,129.2 616.7,128.9 619.7,128.6 622.7,128.3 625.7,128.1 628.7,127.8 631.7,127.5 634.7,127.2 637.7,126.9 640.7,126.6 643.7,126.3 646.7,126.0 649.7,125.7 652.7,125.4 655.7,125.1 658.7,124.8 661.7,124.5 664.7,124.1 667.7,123.8 670.7,123.5 673.7,123.2 676.7,122.8 679.7,122.5 682.7,122.1 685.7,121.8 688.7,121.4 691.7,121.0 694.7,120.6 697.7,120.2 700.7,119.8 703.7,119.4 706.7,119.0 709.7,118.5 712.7,118.1 715.7,117.6 718.7,117.2 721.7,116.8 724.7,116.3 727.7,115.9 730.7,115.5 733.7,115.0 736.7,114.6 739.7,114.1 742.7,113.7 745.7,113.3 748.7,112.8 751.7,112.4 754.7,112.0 757.7,111.5 760.7,111.1 763.7,110.6 766.7,110.2 769.7,109.8 772.7,109.3 775.7,108.9 778.7,108.5 781.7,108.0 784.7,107.6"/>
<path stroke="#F564E3" d="M127.8,72.0L130.8,72.2 133.8,72.3 136.8,72.5 139.8,72.6 142.8,72.8 145.8,72.9 148.8,73.1 151.8,73.2 154.8,73.4 157.8,73.6 160.8,73.7 163.8,73.9 166.8,74.1 169.8,74.3 172.8,74.4 175.8,74.6 178.8,74.8 181.8,75.0 184.8,75.2 187.8,75.4 190.8,75.6 193.8,75.8 196.8,76.0 199.8,76.2 202.8,76.4 205.8,76.7 208.8,76.9 211.8,77.1 214.8,77.3 217.8,77.5 220.8,77.7 223.8,78.0 226.8,78.2 229.8,78.4 232.8,78.6 235.8,78.8 238.8,79.0 241.8,79.2 244.8,79.4 247.8,79.6 250.8,79.8 253.8,79.9 256.8,80.1 259.8,80.3 262.8,80.4 265.8,80.6 268.8,80.7 271.8,80.9 274.8,81.0 277.8,81.2 280.8,81.3 283.8,81.5 286.8,81.6 289.8,81.8 292.8,81.9 295.8,82.0 298.8,82.2 301.8,82.3 304.8,82.5 307.8,82.7 310.8,82.8 313.8,83.0 316.8,83.1 319.8,83.3 322.8,83.5 325.8,83.6 328.8,83.8 331.8,84.0 334.8,84.1 337.8,84.3 340.8,84.5 343.8,84.6 346.8,84.8 349.8,85.0 352.8,85.1 355.8,85.3 358.8,85.5 361.8,85.6 364.8,85.8 367.8,85.9 370.8,86.1 373.8,86.3 376.8,86.4 379.8,86.6 382.8,86.7 385.8,86.9 388.8,87.1 391.8,87.3 394.8,87.5 397.8,87.7 400.8,87.9 403.8,88.2 406.8,88.4 409.8,88.7 412.8,88.9 415.8,89.2 418.8,89.5 421.8,89.9 424.8,90.2 427.8,90.5 430.8,90.9 433.8,91.2 436.8,91.5 439.8,91.9 442.8,92.2 445.8,92.5 448.8,92.8 451.8,93.1 454.8,93.4 457.7,93.7 460.7,93.9 463.7,94.2 466.7,94.4 469.7,94.6 472.7,94.9 475.7,95.1 478.7,95.3 481.7,95.6 484.7,95.8 487.7,96.0 490.7,96.3 493.7,96.5 496.7,96.7 499.7,97.0 502.7,97.2 505.7,97.4 508.7,97.6 511.7,97.8 514.7,98.0 517.7,98.2 520.7,98.4 523.7,98.6 526.7,98.8 529.7,99.0 532.7,99.2 535.7,99.4 538.7,99.5 541.7,99.7 544.7,99.9 547.7,100.0 550.7,100.2 553.7,100.3 556.7,100.5 559.7,100.6 562.7,100.7 565.7,100.8 568.7,101.0 571.7,101.1 574.7,101.2 577.7,101.3 580.7,101.3 583.7,101.4 586.7,101.5 589.7,101.6 592.7,101.6 595.7,101.7 598.7,101.8 601.7,101.8 604.7,101.8 607.7,101.9 610.7,101.9 613.7,101.9 616.7,101.9 619.7,101.9 622.7,101.9 625.7,101.9 628.7,101.9 631.7,101.9 634.7,101.9 637.7,101.9 640.7,101.8 643.7,101.8 646.7,101.7 649.7,101.7 652.7,101.6 655.7,101.6 658.7,101.5 661.7,101.5 664.7,101.4 667.7,101.3 670.7,101.3 673.7,101.2 676.7,101.1 679.7,101.0 682.7,100.9 685.7,100.9 688.7,100.8 691.7,100.7 694.7,100.6 697.7,100.5 700.7,100.4 703.7,100.2 706.7,100.1 709.7,100.0 712.7,99.9 715.7,99.8 718.7,99.7 721.7,99.5 724.7,99.4 727.7,99.3 730.7,99.1 733.7,99.0 736.7,98.8 739.7,98.7 742.7,98.5 745.7,98.4 748.7,98.2 751.7,98.1 754.7,97.9 757.7,97.8 760.7,97.6 763.7,97.4 766.7,97.3 769.7,97.1 772.7,97.0 775.7,96.8 778.7,96.6 781.7,96.5 784.7,96.3"/>
<path stroke="#FC61D6" d="M127.8,83.1L130.8,81.6 133.8,80.1 136.8,78.6 139.8,77.1 142.8,75.5 145.8,74.0 148.8,72.3 151.8,70.7 154.8,69.0 157.8,67.2 160.8,65.5 163.8,63.8 166.8,62.1 169.8,60.4 172.8,58.8 175.8,57.3 178.8,55.9 181.8,54.5 184.8,53.3 187.8,52.3 190.8,51.3 193.8,50.5 196.8,49.8 199.8,49.1 202.8,48.6 205.8,48.0 208.8,47.5 211.8,47.1 214.8,46.6 217.8,46.1 220.8,45.7 223.8,45.2 226.8,44.8 229.8,44.3 232.8,43.9 235.8,43.5 238.8,43.1 241.8,42.7 244.8,42.4 247.8,42.1 250.8,41.8 253.8,41.6 256.8,41.4 259.8,41.2 262.8,41.1 265.8,41.0 268.8,40.9 271.8,40.9 274.8,40.9 277.8,41.0 280.8,41.1 283.8,41.2 286.8,41.3 289.8,41.5 292.8,41.7 295.8,42.0 298.8,42.3 301.8,42.6 304.8,42.9 307.8,43.2 310.8,43.6 313.8,44.0 316.8,44.4 319.8,44.9 322.8,45.4 325.8,45.9 328.8,46.5 331.8,47.2 334.8,47.9 337.8,48.6 340.8,49.5 343.8,50.4 346.8,51.4 349.8,52.4 352.8,53.5 355.8,54.7 358.8,56.1 361.8,57.4 364.8,58.9 367.8,60.5 370.8,62.1 373.8,63.8 376.8,65.6 379.8,67.4 382.8,69.3 385.8,71.2 388.8,73.2 391.8,75.1 394.8,77.1 397.8,79.1 400.8,81.1 403.8,83.1 406.8,85.1 409.8,87.1 412.8,89.1 415.8,91.0 418.8,92.8 421.8,94.7 424.8,96.5 427.8,98.3 430.8,100.0 433.8,101.8 436.8,103.5 439.8,105.2 442.8,106.8 445.8,108.5 448.8,110.1 451.8,111.8 454.8,113.4 457.7,115.0 460.7,116.6 463.7,118.1 466.7,119.6 469.7,121.1 472.7,122.6 475.7,124.0 478.7,125.4 481.7,126.6 484.7,127.8 487.7,128.8 490.7,129.8 493.7,130.6 496.7,131.4 499.7,132.1 502.7,132.8 505.7,133.5 508.7,134.1 511.7,134.7 514.7,135.3 517.7,135.9 520.7,136.4 523.7,136.9 526.7,137.3 529.7,137.8 532.7,138.2 535.7,138.7 538.7,139.1 541.7,139.4 544.7,139.8 547.7,140.2 550.7,140.5 553.7,140.8 556.7,141.1 559.7,141.4 562.7,141.7 565.7,141.9 568.7,142.2 571.7,142.4 574.7,142.6 577.7,142.8 580.7,143.0 583.7,143.1 586.7,143.2 589.7,143.3 592.7,143.4 595.7,143.4 598.7,143.5 601.7,143.4 604.7,143.4 607.7,143.3 610.7,143.2 613.7,143.0 616.7,142.9 619.7,142.7 622.7,142.5 625.7,142.3 628.7,142.1 631.7,141.9 634.7,141.6 637.7,141.4 640.7,141.2 643.7,140.9 646.7,140.7 649.7,140.4 652.7,140.1 655.7,139.9 658.7,139.6 661.7,139.4 664.7,139.1 667.7,138.8 670.7,138.5 673.7,138.3 676.7,138.0 679.7,137.7 682.7,137.4 685.7,137.1 688.7,136.8 691.7,136.5 694.7,136.3 697.7,136.0 700.7,135.7 703.7,135.4 706.7,135.0 709.7,134.7 712.7,134.4 715.7,134.1 718.7,133.7 721.7,133.4 724.7,133.0 727.7,132.6 730.7,132.2 733.7,131.8 736.7,131.4 739.7,131.0 742.7,130.6 745.7,130.1 748.7,129.7 751.7,129.2 754.7,128.8 757.7,128.3 760.7,127.9 763.7,127.4 766.7,126.9 769.7,126.4 772.7,126.0 775.7,125.5 778.7,125.0 781.7,124.5 784.7,124.0"/>
<path stroke="#FF63B8" d="M127.8,45.1L130.8,45.6 133.8,46.0 136.8,46.5 139.8,46.9 142.8,47.4 145.8,47.8 148.8,48.3 151.8,48.7 154.8,49.1 157.8,49.5 160.8,50.0 163.8,50.4 166.8,50.8 169.8,51.2 172.8,51.5 175.8,51.9 178.8,52.3 181.8,52.6 184.8,53.0 187.8,53.3 190.8,53.6 193.8,53.9 196.8,54.2 199.8,54.4 202.8,54.7 205.8,55.0 208.8,55.2 211.8,55.5 214.8,55.7 217.8,56.0 220.8,56.2 223.8,56.5 226.8,56.7 229.8,57.0 232.8,57.2 235.8,57.5 238.8,57.8 241.8,58.0 244.8,58.3 247.8,58.6 250.8,58.9 253.8,59.2 256.8,59.5 259.8,59.8 262.8,60.2 265.8,60.5 268.8,60.9 271.8,61.2 274.8,61.6 277.8,62.0 280.8,62.4 283.8,62.8 286.8,63.2 289.8,63.6 292.8,64.0 295.8,64.4 298.8,64.9 301.8,65.3 304.8,65.7 307.8,66.2 310.8,66.7 313.8,67.1 316.8,67.6 319.8,68.1 322.8,68.6 325.8,69.1 328.8,69.6 331.8,70.2 334.8,70.7 337.8,71.3 340.8,71.9 343.8,72.5 346.8,73.1 349.8,73.8 352.8,74.5 355.8,75.2 358.8,76.0 361.8,76.7 364.8,77.5 367.8,78.3 370.8,79.2 373.8,80.1 376.8,81.0 379.8,82.0 382.8,82.9 385.8,83.9 388.8,85.0 391.8,86.1 394.8,87.2 397.8,88.3 400.8,89.5 403.8,90.7 406.8,91.9 409.8,93.2 412.8,94.5 415.8,95.9 418.8,97.3 421.8,98.7 424.8,100.1 427.8,101.5 430.8,103.0 433.8,104.5 436.8,105.9 439.8,107.4 442.8,108.9 445.8,110.3 448.8,111.8 451.8,113.2 454.8,114.5 457.7,115.9 460.7,117.2 463.7,118.6 466.7,119.8 469.7,121.1 472.7,122.3 475.7,123.4 478.7,124.5 481.7,125.5 484.7,126.4 487.7,127.2 490.7,128.0 493.7,128.6 496.7,129.2 499.7,129.7 502.7,130.1 505.7,130.5 508.7,130.9 511.7,131.2 514.7,131.5 517.7,131.8 520.7,132.0 523.7,132.3 526.7,132.5 529.7,132.8 532.7,133.1 535.7,133.4 538.7,133.6 541.7,134.0 544.7,134.3 547.7,134.6 550.7,135.0 553.7,135.3 556.7,135.7 559.7,136.1 562.7,136.5 565.7,137.0 568.7,137.4 571.7,137.9 574.7,138.4 577.7,138.8 580.7,139.3 583.7,139.8 586.7,140.3 589.7,140.7 592.7,141.2 595.7,141.6 598.7,142.1 601.7,142.5 604.7,142.9 607.7,143.2 610.7,143.6 613.7,143.9 616.7,144.3 619.7,144.6 622.7,144.9 625.7,145.2 628.7,145.6 631.7,145.9 634.7,146.2 637.7,146.5 640.7,146.8 643.7,147.1 646.7,147.5 649.7,147.8 652.7,148.2 655.7,148.6 658.7,148.9 661.7,149.3 664.7,149.8 667.7,150.2 670.7,150.7 673.7,151.1 676.7,151.6 679.7,152.1 682.7,152.6 685.7,153.1 688.7,153.6 691.7,154.1 694.7,154.6 697.7,155.1 700.7,155.6 703.7,156.1 706.7,156.7 709.7,157.2 712.7,157.7 715.7,158.2 718.7,158.7 721.7,159.2 724.7,159.6 727.7,160.1 730.7,160.6 733.7,161.0 736.7,161.5 739.7,161.9 742.7,162.3 745.7,162.8 748.7,163.2 751.7,163.6 754.7,164.0 757.7,164.4 760.7,164.8 763.7,165.2 766.7,165.6 769.7,166.0 772.7,166.4 775.7,166.8 778.7,167.2 781.7,167.6 784.7,168.0"/>
<path stroke="#FF62BE" d="M127.8,68.7L130.8,67.7 133.8,66.7 136.8,65.7 139.8,64.7 142.8,63.7 145.8,62.7 148.8,61.7 151.8,60.7 154.8,59.7 157.8,58.7 160.8,57.7 163.8,56.7 166.8,55.7 169.8,54.7 172.8,53.7 175.8,52.7 178.8,51.7 181.8,50.8 184.8,49.8 187.8,48.9 190.8,47.9 193.8,47.0 196.8,46.2 199.8,45.3 202.8,44.5 205.8,43.7 208.8,42.9 211.8,42.2 214.8,41.5 217.8,40.9 220.8,40.3 223.8,39.8 226.8,39.3 229.8,38.9 232.8,38.5 235.8,38.2 238.8,38.0 241.8,37.8 244.8,37.6 247.8,37.5 250.8,37.4 253.8,37.3 256.8,37.3 259.8,37.3 262.8,37.4 265.8,37.4 268.8,37.4 271.8,37.5 274.8,37.6 277.8,37.7 280.8,37.7 283.8,37.8 286.8,38.0 289.8,38.1 292.8,38.2 295.8,38.4 298.8,38.5 301.8,38.7 304.8,39.0 307.8,39.2 310.8,39.5 313.8,39.8 316.8,40.1 319.8,40.5 322.8,40.9 325.8,41.3 328.8,41.8 331.8,42.4 334.8,43.0 337.8,43.6 340.8,44.3 343.8,45.1 346.8,45.9 349.8,46.9 352.8,47.9 355.8,49.0 358.8,50.2 361.8,51.5 364.8,52.9 367.8,54.5 370.8,56.1 373.8,57.8 376.8,59.5 379.8,61.4 382.8,63.3 385.8,65.2 388.8,67.2 391.8,69.2 394.8,71.2 397.8,73.2 400.8,75.2 403.8,77.2 406.8,79.2 409.8,81.2 412.8,83.1 415.8,84.9 418.8,86.8 421.8,88.5 424.8,90.2 427.8,91.8 430.8,93.4 433.8,94.9 436.8,96.3 439.8,97.7 442.8,99.0 445.8,100.3 448.8,101.5 451.8,102.6 454.8,103.6 457.7,104.6 460.7,105.6 463.7,106.4 466.7,107.3 469.7,108.0 472.7,108.8 475.7,109.4 478.7,110.0 481.7,110.6 484.7,111.0 487.7,111.4 490.7,111.7 493.7,112.0 496.7,112.2 499.7,112.4 502.7,112.6 505.7,112.7 508.7,112.8 511.7,112.9 514.7,113.1 517.7,113.2 520.7,113.4 523.7,113.6 526.7,113.8 529.7,114.1 532.7,114.5 535.7,114.8 538.7,115.2 541.7,115.6 544.7,116.0 547.7,116.5 550.7,116.9 553.7,117.3 556.7,117.8 559.7,118.2 562.7,118.6 565.7,118.9 568.7,119.3 571.7,119.6 574.7,119.9 577.7,120.2 580.7,120.4 583.7,120.7 586.7,120.9 589.7,121.1 592.7,121.3 595.7,121.5 598.7,121.7 601.7,121.8 604.7,122.0 607.7,122.1 610.7,122.2 613.7,122.3 616.7,122.4 619.7,122.5 622.7,122.6 625.7,122.7 628.7,122.7 631.7,122.8 634.7,122.9 637.7,122.9 640.7,123.0 643.7,123.1 646.7,123.2 649.7,123.2 652.7,123.3 655.7,123.4 658.7,123.5 661.7,123.6 664.7,123.7 667.7,123.8 670.7,124.0 673.7,124.1 676.7,124.2 679.7,124.4 682.7,124.5 685.7,124.7 688.7,124.8 691.7,124.9 694.7,125.1 697.7,125.2 700.7,125.3 703.7,125.4 706.7,125.5 709.7,125.6 712.7,125.7 715.7,125.7 718.7,125.8 721.7,125.8 724.7,125.9 727.7,125.9 730.7,125.9 733.7,125.9 736.7,125.9 739.7,125.9 742.7,125.9 745.7,125.8 748.7,125.8 751.7,125.8 754.7,125.7 757.7,125.6 760.7,125.6 763.7,125.5 766.7,125.4 769.7,125.3 772.7,125.2 775.7,125.1 778.7,125.0 781.7,124.9 784.7,124.8"/>
<path stroke="#FF6D8F" d="M127.8,10.9L130.8,11.3 133.8,11.6 136.8,11.9 139.8,12.3 142.8,12.6 145.8,13.0 148.8,13.4 151.8,13.8 154.8,14.3 157.8,14.7 160.8,15.2 163.8,15.8 166.8,16.3 169.8,16.9 172.8,17.4 175.8,18.0 178.8,18.6 181.8,19.3 184.8,19.9 187.8,20.6 190.8,21.2 193.8,21.9 196.8,22.6 199.8,23.3 202.8,24.0 205.8,24.7 208.8,25.4 211.8,26.1 214.8,26.9 217.8,27.6 220.8,28.3 223.8,29.0 226.8,29.8 229.8,30.5 232.8,31.2 235.8,31.9 238.8,32.6 241.8,33.3 244.8,33.9 247.8,34.6 250.8,35.3 253.8,35.9 256.8,36.5 259.8,37.2 262.8,37.8 265.8,38.4 268.8,39.0 271.8,39.6 274.8,40.2 277.8,40.8 280.8,41.4 283.8,42.0 286.8,42.6 289.8,43.2 292.8,43.8 295.8,44.4 298.8,45.0 301.8,45.6 304.8,46.2 307.8,46.9 310.8,47.5 313.8,48.2 316.8,48.9 319.8,49.6 322.8,50.3 325.8,51.0 328.8,51.8 331.8,52.6 334.8,53.5 337.8,54.4 340.8,55.3 343.8,56.3 346.8,57.3 349.8,58.4 352.8,59.5 355.8,60.6 358.8,61.9 361.8,63.1 364.8,64.5 367.8,65.9 370.8,67.3 373.8,68.8 376.8,70.4 379.8,72.0 382.8,73.7 385.8,75.5 388.8,77.4 391.8,79.3 394.8,81.2 397.8,83.2 400.8,85.2 403.8,87.2 406.8,89.2 409.8,91.1 412.8,93.0 415.8,94.8 418.8,96.6 421.8,98.2 424.8,99.7 427.8,101.2 430.8,102.5 433.8,103.8 436.8,105.0 439.8,106.2 442.8,107.3 445.8,108.4 448.8,109.4 451.8,110.4 454.8,111.3 457.7,112.2 460.7,113.1 463.7,113.9 466.7,114.7 469.7,115.5 472.7,116.2 475.7,116.9 478.7,117.6 481.7,118.3 484.7,118.9 487.7,119.5 490.7,120.0 493.7,120.5 496.7,120.9 499.7,121.3 502.7,121.7 505.7,122.0 508.7,122.3 511.7,122.6 514.7,122.9 517.7,123.1 520.7,123.3 523.7,123.5 526.7,123.7 529.7,123.9 532.7,124.1 535.7,124.3 538.7,124.5 541.7,124.6 544.7,124.9 547.7,125.1 550.7,125.3 553.7,125.6 556.7,125.8 559.7,126.1 562.7,126.4 565.7,126.6 568.7,126.9 571.7,127.2 574.7,127.5 577.7,127.7 580.7,128.0 583.7,128.2 586.7,128.4 589.7,128.6 592.7,128.8 595.7,129.0 598.7,129.1 601.7,129.2 604.7,129.3 607.7,129.3 610.7,129.3 613.7,129.2 616.7,129.1 619.7,129.0 622.7,128.9 625.7,128.7 628.7,128.5 631.7,128.3 634.7,128.2 637.7,127.9 640.7,127.7 643.7,127.5 646.7,127.3 649.7,127.1 652.7,126.9 655.7,126.7 658.7,126.6 661.7,126.4 664.7,126.2 667.7,126.0 670.7,125.8 673.7,125.6 676.7,125.4 679.7,125.3 682.7,125.1 685.7,124.9 688.7,124.8 691.7,124.6 694.7,124.5 697.7,124.3 700.7,124.2 703.7,124.0 706.7,123.8 709.7,123.6 712.7,123.3 715.7,123.1 718.7,122.7 721.7,122.4 724.7,122.0 727.7,121.5 730.7,121.0 733.7,120.5 736.7,120.0 739.7,119.4 742.7,118.9 745.7,118.4 748.7,117.8 751.7,117.4 754.7,116.9 757.7,116.4 760.7,116.0 763.7,115.5 766.7,115.1 769.7,114.7 772.7,114.3 775.7,113.9 778.7,113.5 781.7,113.1 784.7,112.7"/>
<path stroke="#000" stroke-width="2.6" stroke-dasharray="9.9 9.8" d="M481.4,12.1V320"/>
</g>
<g stroke="#EBEBEB" fill="none"><path stroke-width="1.2" d="M192.8,349.0V653.9"/><path stroke-width="1.2" d="M303.9,349.0V653.9"/><path stroke-width="1.2" d="M414.9,349.0V653.9"/><path stroke-width="1.2" d="M525.9,349.0V653.9"/><path stroke-width="1.2" d="M636.9,349.0V653.9"/><path stroke-width="1.2" d="M748.0,349.0V653.9"/><path stroke-width="1.2" d="M94.7,593.4H817.2"/><path stroke-width="1.2" d="M94.7,526.9H817.2"/><path stroke-width="1.2" d="M94.7,460.5H817.2"/><path stroke-width="1.2" d="M94.7,394.0H817.2"/><path stroke-width="2.4" d="M137.3,349.0V653.9"/><path stroke-width="2.4" d="M248.3,349.0V653.9"/><path stroke-width="2.4" d="M359.4,349.0V653.9"/><path stroke-width="2.4" d="M470.4,349.0V653.9"/><path stroke-width="2.4" d="M581.4,349.0V653.9"/><path stroke-width="2.4" d="M692.5,349.0V653.9"/><path stroke-width="2.4" d="M803.5,349.0V653.9"/><path stroke-width="2.4" d="M94.7,626.6H817.2"/><path stroke-width="2.4" d="M94.7,560.1H817.2"/><path stroke-width="2.4" d="M94.7,493.7H817.2"/><path stroke-width="2.4" d="M94.7,427.2H817.2"/><path stroke-width="2.4" d="M94.7,360.8H817.2"/></g>
<g clip-path="url(#c2)" fill="none" stroke-width="5.3" stroke-linejoin="round">
<path stroke="#F8766D" d="M127.8,461.0L130.8,460.8 133.8,460.6 136.8,460.4 139.8,460.3 142.8,460.1 145.8,459.9 148.8,459.7 151.8,459.5 154.8,459.3 157.8,459.2 160.8,459.0 163.8,458.8 166.8,458.6 169.8,458.4 172.8,458.3 175.8,458.1 178.8,457.9 181.8,457.8 184.8,457.6 187.8,457.4 190.8,457.3 193.8,457.1 196.8,457.0 199.8,456.8 202.8,456.7 205.8,456.5 208.8,456.4 211.8,456.2 214.8,456.1 217.8,456.0 220.8,455.8 223.8,455.7 226.8,455.6 229.8,455.4 232.8,455.3 235.8,455.2 238.8,455.1 241.8,454.9 244.8,454.8 247.8,454.7 250.8,454.6 253.8,454.4 256.8,454.3 259.8,454.2 262.8,454.0 265.8,453.9 268.8,453.8 271.8,453.6 274.8,453.5 277.8,453.4 280.8,453.2 283.8,453.1 286.8,452.9 289.8,452.8 292.8,452.6 295.8,452.5 298.8,452.3 301.8,452.2 304.8,452.0 307.8,451.9 310.8,451.7 313.8,451.6 316.8,451.5 319.8,451.3 322.8,451.2 325.8,451.1 328.8,451.0 331.8,450.9 334.8,450.9 337.8,450.8 340.8,450.8 343.8,450.8 346.8,450.8 349.8,450.8 352.8,450.9 355.8,450.9 358.8,451.0 361.8,451.1 364.8,451.3 367.8,451.5 370.8,451.7 373.8,451.9 376.8,452.1 379.8,452.3 382.8,452.6 385.8,452.9 388.8,453.2 391.8,453.5 394.8,453.9 397.8,454.2 400.8,454.6 403.8,454.9 406.8,455.3 409.8,455.7 412.8,456.1 415.8,456.4 418.8,456.8 421.8,457.3 424.8,457.7 427.8,458.1 430.8,458.5 433.8,459.0 436.8,459.5 439.8,460.0 442.8,460.5 445.8,461.1 448.8,461.7 451.8,462.3 454.8,462.9 457.7,463.6 460.7,464.3 463.7,465.1 466.7,465.9 469.7,466.7 472.7,467.5 475.7,468.4 478.7,469.2 481.7,470.1 484.7,470.9 487.7,471.7 490.7,472.6 493.7,473.4 496.7,474.2 499.7,475.0 502.7,475.8 505.7,476.6 508.7,477.4 511.7,478.2 514.7,479.0 517.7,479.8 520.7,480.6 523.7,481.4 526.7,482.3 529.7,483.1 532.7,483.9 535.7,484.8 538.7,485.6 541.7,486.4 544.7,487.2 547.7,488.0 550.7,488.8 553.7,489.6 556.7,490.4 559.7,491.1 562.7,491.8 565.7,492.5 568.7,493.1 571.7,493.7 574.7,494.3 577.7,494.9 580.7,495.3 583.7,495.8 586.7,496.2 589.7,496.6 592.7,496.9 595.7,497.2 598.7,497.5 601.7,497.8 604.7,498.0 607.7,498.2 610.7,498.5 613.7,498.7 616.7,498.9 619.7,499.2 622.7,499.4 625.7,499.7 628.7,500.0 631.7,500.3 634.7,500.6 637.7,501.0 640.7,501.4 643.7,501.8 646.7,502.2 649.7,502.6 652.7,503.1 655.7,503.6 658.7,504.0 661.7,504.5 664.7,505.0 667.7,505.6 670.7,506.1 673.7,506.6 676.7,507.1 679.7,507.6 682.7,508.1 685.7,508.6 688.7,509.1 691.7,509.6 694.7,510.1 697.7,510.6 700.7,511.0 703.7,511.5 706.7,511.9 709.7,512.4 712.7,512.8 715.7,513.2 718.7,513.6 721.7,514.1 724.7,514.5 727.7,514.8 730.7,515.2 733.7,515.6 736.7,516.0 739.7,516.4 742.7,516.7 745.7,517.1 748.7,517.4 751.7,517.8 754.7,518.1 757.7,518.5 760.7,518.8 763.7,519.2 766.7,519.5 769.7,519.8 772.7,520.2 775.7,520.5 778.7,520.8 781.7,521.2 784.7,521.5"/>
<path stroke="#E88520" d="M127.8,425.6L130.8,425.6 133.8,425.5 136.8,425.5 139.8,425.5 142.8,425.5 145.8,425.4 148.8,425.4 151.8,425.4 154.8,425.3 157.8,425.3 160.8,425.3 163.8,425.3 166.8,425.2 169.8,425.2 172.8,425.2 175.8,425.1 178.8,425.1 181.8,425.1 184.8,425.1 187.8,425.0 190.8,425.0 193.8,425.0 196.8,424.9 199.8,424.9 202.8,424.9 205.8,424.8 208.8,424.8 211.8,424.8 214.8,424.7 217.8,424.7 220.8,424.7 223.8,424.7 226.8,424.6 229.8,424.6 232.8,424.6 235.8,424.5 238.8,424.5 241.8,424.5 244.8,424.5 247.8,424.5 250.8,424.4 253.8,424.4 256.8,424.4 259.8,424.4 262.8,424.4 265.8,424.4 268.8,424.4 271.8,424.4 274.8,424.4 277.8,424.4 280.8,424.4 283.8,424.5 286.8,424.5 289.8,424.5 292.8,424.5 295.8,424.6 298.8,424.6 301.8,424.6 304.8,424.7 307.8,424.7 310.8,424.8 313.8,424.9 316.8,424.9 319.8,425.0 322.8,425.1 325.8,425.1 328.8,425.2 331.8,425.3 334.8,425.4 337.8,425.5 340.8,425.6 343.8,425.7 346.8,425.8 349.8,425.9 352.8,426.0 355.8,426.2 358.8,426.3 361.8,426.4 364.8,426.6 367.8,426.7 370.8,426.9 373.8,427.0 376.8,427.2 379.8,427.3 382.8,427.5 385.8,427.7 388.8,427.8 391.8,428.0 394.8,428.2 397.8,428.4 400.8,428.6 403.8,428.8 406.8,428.9 409.8,429.1 412.8,429.3 415.8,429.6 418.8,429.8 421.8,430.0 424.8,430.2 427.8,430.4 430.8,430.6 433.8,430.8 436.8,431.1 439.8,431.3 442.8,431.5 445.8,431.7 448.8,432.0 451.8,432.2 454.8,432.4 457.7,432.6 460.7,432.8 463.7,433.1 466.7,433.3 469.7,433.5 472.7,433.7 475.7,433.9 478.7,434.1 481.7,434.4 484.7,434.6 487.7,434.8 490.7,435.0 493.7,435.2 496.7,435.4 499.7,435.6 502.7,435.8 505.7,436.0 508.7,436.2 511.7,436.3 514.7,436.5 517.7,436.7 520.7,436.8 523.7,437.0 526.7,437.1 529.7,437.3 532.7,437.4 535.7,437.5 538.7,437.6 541.7,437.7 544.7,437.8 547.7,437.9 550.7,438.0 553.7,438.0 556.7,438.1 559.7,438.1 562.7,438.2 565.7,438.2 568.7,438.2 571.7,438.3 574.7,438.3 577.7,438.3 580.7,438.3 583.7,438.3 586.7,438.3 589.7,438.3 592.7,438.2 595.7,438.2 598.7,438.2 601.7,438.2 604.7,438.1 607.7,438.1 610.7,438.0 613.7,438.0 616.7,437.9 619.7,437.9 622.7,437.8 625.7,437.8 628.7,437.7 631.7,437.7 634.7,437.6 637.7,437.6 640.7,437.5 643.7,437.5 646.7,437.4 649.7,437.4 652.7,437.3 655.7,437.3 658.7,437.3 661.7,437.2 664.7,437.2 667.7,437.1 670.7,437.1 673.7,437.0 676.7,436.9 679.7,436.9 682.7,436.8 685.7,436.7 688.7,436.7 691.7,436.6 694.7,436.5 697.7,436.4 700.7,436.4 703.7,436.3 706.7,436.2 709.7,436.1 712.7,436.0 715.7,435.9 718.7,435.7 721.7,435.6 724.7,435.5 727.7,435.4 730.7,435.3 733.7,435.2 736.7,435.0 739.7,434.9 742.7,434.8 745.7,434.6 748.7,434.5 751.7,434.4 754.7,434.2 757.7,434.1 760.7,434.0 763.7,433.8 766.7,433.7 769.7,433.5 772.7,433.4 775.7,433.2 778.7,433.1 781.7,432.9 784.7,432.8"/>
<path stroke="#D39200" d="M127.8,469.2L130.8,469.0 133.8,468.8 136.8,468.6 139.8,468.4 142.8,468.2 145.8,468.0 148.8,467.7 151.8,467.5 154.8,467.3 157.8,467.1 160.8,466.9 163.8,466.7 166.8,466.5 169.8,466.3 172.8,466.2 175.8,466.0 178.8,465.8 181.8,465.6 184.8,465.4 187.8,465.2 190.8,465.0 193.8,464.9 196.8,464.7 199.8,464.5 202.8,464.3 205.8,464.2 208.8,464.0 211.8,463.9 214.8,463.7 217.8,463.6 220.8,463.4 223.8,463.3 226.8,463.1 229.8,463.0 232.8,462.8 235.8,462.7 238.8,462.6 241.8,462.4 244.8,462.3 247.8,462.2 250.8,462.0 253.8,461.9 256.8,461.8 259.8,461.7 262.8,461.6 265.8,461.5 268.8,461.3 271.8,461.2 274.8,461.1 277.8,461.0 280.8,460.9 283.8,460.8 286.8,460.7 289.8,460.6 292.8,460.5 295.8,460.4 298.8,460.3 301.8,460.2 304.8,460.1 307.8,460.0 310.8,460.0 313.8,459.9 316.8,459.8 319.8,459.8 322.8,459.8 325.8,459.7 328.8,459.7 331.8,459.7 334.8,459.8 337.8,459.8 340.8,459.9 343.8,459.9 346.8,460.0 349.8,460.1 352.8,460.3 355.8,460.4 358.8,460.6 361.8,460.8 364.8,461.1 367.8,461.3 370.8,461.6 373.8,461.9 376.8,462.2 379.8,462.5 382.8,462.8 385.8,463.2 388.8,463.6 391.8,463.9 394.8,464.3 397.8,464.7 400.8,465.1 403.8,465.5 406.8,465.9 409.8,466.3 412.8,466.7 415.8,467.0 418.8,467.4 421.8,467.8 424.8,468.2 427.8,468.6 430.8,469.0 433.8,469.4 436.8,469.8 439.8,470.2 442.8,470.7 445.8,471.1 448.8,471.6 451.8,472.1 454.8,472.6 457.7,473.1 460.7,473.6 463.7,474.2 466.7,474.8 469.7,475.4 472.7,476.0 475.7,476.7 478.7,477.3 481.7,477.9 484.7,478.5 487.7,479.2 490.7,479.8 493.7,480.4 496.7,481.0 499.7,481.5 502.7,482.1 505.7,482.7 508.7,483.2 511.7,483.7 514.7,484.2 517.7,484.7 520.7,485.2 523.7,485.6 526.7,486.1 529.7,486.5 532.7,486.8 535.7,487.2 538.7,487.5 541.7,487.9 544.7,488.2 547.7,488.5 550.7,488.7 553.7,489.0 556.7,489.3 559.7,489.5 562.7,489.7 565.7,490.0 568.7,490.2 571.7,490.4 574.7,490.6 577.7,490.8 580.7,491.0 583.7,491.2 586.7,491.4 589.7,491.6 592.7,491.8 595.7,492.0 598.7,492.2 601.7,492.4 604.7,492.6 607.7,492.7 610.7,492.9 613.7,493.0 616.7,493.1 619.7,493.2 622.7,493.3 625.7,493.4 628.7,493.4 631.7,493.5 634.7,493.5 637.7,493.5 640.7,493.4 643.7,493.4 646.7,493.3 649.7,493.2 652.7,493.2 655.7,493.0 658.7,492.9 661.7,492.8 664.7,492.6 667.7,492.5 670.7,492.3 673.7,492.2 676.7,492.0 679.7,491.8 682.7,491.6 685.7,491.4 688.7,491.2 691.7,491.0 694.7,490.8 697.7,490.6 700.7,490.5 703.7,490.3 706.7,490.1 709.7,489.9 712.7,489.7 715.7,489.5 718.7,489.3 721.7,489.1 724.7,488.9 727.7,488.7 730.7,488.5 733.7,488.3 736.7,488.2 739.7,488.0 742.7,487.8 745.7,487.6 748.7,487.4 751.7,487.2 754.7,487.0 757.7,486.8 760.7,486.6 763.7,486.4 766.7,486.2 769.7,486.1 772.7,485.9 775.7,485.7 778.7,485.5 781.7,485.3 784.7,485.1"/>
<path stroke="#B79F00" d="M127.8,470.7L130.8,470.5 133.8,470.3 136.8,470.1 139.8,469.9 142.8,469.7 145.8,469.5 148.8,469.3 151.8,469.1 154.8,468.8 157.8,468.6 160.8,468.4 163.8,468.2 166.8,468.1 169.8,467.9 172.8,467.7 175.8,467.5 178.8,467.3 181.8,467.1 184.8,466.9 187.8,466.7 190.8,466.5 193.8,466.4 196.8,466.2 199.8,466.0 202.8,465.8 205.8,465.7 208.8,465.5 211.8,465.4 214.8,465.2 217.8,465.0 220.8,464.9 223.8,464.7 226.8,464.6 229.8,464.4 232.8,464.3 235.8,464.2 238.8,464.0 241.8,463.9 244.8,463.8 247.8,463.6 250.8,463.5 253.8,463.4 256.8,463.2 259.8,463.1 262.8,463.0 265.8,462.9 268.8,462.8 271.8,462.6 274.8,462.5 277.8,462.4 280.8,462.3 283.8,462.2 286.8,462.1 289.8,462.0 292.8,461.9 295.8,461.8 298.8,461.7 301.8,461.6 304.8,461.5 307.8,461.4 310.8,461.4 313.8,461.3 316.8,461.2 319.8,461.2 322.8,461.2 325.8,461.1 328.8,461.1 331.8,461.1 334.8,461.2 337.8,461.2 340.8,461.2 343.8,461.3 346.8,461.4 349.8,461.5 352.8,461.7 355.8,461.8 358.8,462.0 361.8,462.2 364.8,462.5 367.8,462.7 370.8,463.0 373.8,463.3 376.8,463.6 379.8,463.9 382.8,464.3 385.8,464.6 388.8,465.0 391.8,465.4 394.8,465.8 397.8,466.2 400.8,466.6 403.8,467.0 406.8,467.4 409.8,467.8 412.8,468.3 415.8,468.7 418.8,469.1 421.8,469.5 424.8,469.9 427.8,470.4 430.8,470.8 433.8,471.2 436.8,471.6 439.8,472.0 442.8,472.5 445.8,472.9 448.8,473.3 451.8,473.8 454.8,474.2 457.7,474.6 460.7,475.1 463.7,475.5 466.7,476.0 469.7,476.5 472.7,477.0 475.7,477.5 478.7,478.0 481.7,478.5 484.7,479.1 487.7,479.6 490.7,480.2 493.7,480.8 496.7,481.4 499.7,482.0 502.7,482.6 505.7,483.2 508.7,483.8 511.7,484.4 514.7,485.0 517.7,485.5 520.7,486.1 523.7,486.6 526.7,487.0 529.7,487.5 532.7,487.9 535.7,488.3 538.7,488.7 541.7,489.0 544.7,489.4 547.7,489.7 550.7,490.0 553.7,490.2 556.7,490.5 559.7,490.8 562.7,491.0 565.7,491.3 568.7,491.5 571.7,491.7 574.7,492.0 577.7,492.2 580.7,492.4 583.7,492.7 586.7,492.9 589.7,493.2 592.7,493.4 595.7,493.6 598.7,493.9 601.7,494.1 604.7,494.3 607.7,494.5 610.7,494.7 613.7,494.9 616.7,495.1 619.7,495.3 622.7,495.4 625.7,495.5 628.7,495.6 631.7,495.7 634.7,495.7 637.7,495.8 640.7,495.8 643.7,495.8 646.7,495.8 649.7,495.7 652.7,495.6 655.7,495.6 658.7,495.5 661.7,495.4 664.7,495.3 667.7,495.2 670.7,495.0 673.7,494.9 676.7,494.8 679.7,494.6 682.7,494.5 685.7,494.3 688.7,494.2 691.7,494.0 694.7,493.9 697.7,493.8 700.7,493.6 703.7,493.5 706.7,493.3 709.7,493.2 712.7,493.1 715.7,493.0 718.7,492.8 721.7,492.7 724.7,492.6 727.7,492.5 730.7,492.3 733.7,492.2 736.7,492.1 739.7,492.0 742.7,491.9 745.7,491.8 748.7,491.7 751.7,491.6 754.7,491.5 757.7,491.3 760.7,491.2 763.7,491.1 766.7,491.0 769.7,490.9 772.7,490.8 775.7,490.7 778.7,490.6 781.7,490.5 784.7,490.4"/>
<path stroke="#88AC00" d="M127.8,518.8L130.8,517.8 133.8,516.8 136.8,515.8 139.8,514.7 142.8,513.7 145.8,512.6 148.8,511.6 151.8,510.5 154.8,509.4 157.8,508.3 160.8,507.1 163.8,506.0 166.8,504.8 169.8,503.6 172.8,502.4 175.8,501.2 178.8,499.9 181.8,498.7 184.8,497.4 187.8,496.2 190.8,495.0 193.8,493.7 196.8,492.5 199.8,491.3 202.8,490.1 205.8,488.9 208.8,487.7 211.8,486.6 214.8,485.4 217.8,484.3 220.8,483.2 223.8,482.1 226.8,481.0 229.8,480.0 232.8,479.0 235.8,478.1 238.8,477.1 241.8,476.2 244.8,475.3 247.8,474.5 250.8,473.7 253.8,473.0 256.8,472.2 259.8,471.6 262.8,470.9 265.8,470.3 268.8,469.7 271.8,469.2 274.8,468.6 277.8,468.2 280.8,467.7 283.8,467.3 286.8,466.9 289.8,466.5 292.8,466.1 295.8,465.8 298.8,465.5 301.8,465.2 304.8,464.9 307.8,464.7 310.8,464.4 313.8,464.2 316.8,464.0 319.8,463.8 322.8,463.7 325.8,463.6 328.8,463.5 331.8,463.4 334.8,463.4 337.8,463.3 340.8,463.3 343.8,463.4 346.8,463.4 349.8,463.5 352.8,463.7 355.8,463.8 358.8,464.0 361.8,464.2 364.8,464.5 367.8,464.8 370.8,465.1 373.8,465.4 376.8,465.8 379.8,466.2 382.8,466.6 385.8,467.0 388.8,467.5 391.8,467.9 394.8,468.4 397.8,468.9 400.8,469.4 403.8,469.9 406.8,470.4 409.8,470.9 412.8,471.4 415.8,471.9 418.8,472.4 421.8,472.9 424.8,473.4 427.8,474.0 430.8,474.5 433.8,475.0 436.8,475.5 439.8,476.0 442.8,476.5 445.8,477.0 448.8,477.4 451.8,477.9 454.8,478.4 457.7,478.9 460.7,479.3 463.7,479.8 466.7,480.3 469.7,480.8 472.7,481.3 475.7,481.9 478.7,482.5 481.7,483.2 484.7,483.9 487.7,484.7 490.7,485.6 493.7,486.5 496.7,487.4 499.7,488.4 502.7,489.4 505.7,490.4 508.7,491.3 511.7,492.3 514.7,493.3 517.7,494.2 520.7,495.1 523.7,495.9 526.7,496.7 529.7,497.4 532.7,498.1 535.7,498.7 538.7,499.3 541.7,499.8 544.7,500.3 547.7,500.7 550.7,501.1 553.7,501.4 556.7,501.7 559.7,502.0 562.7,502.3 565.7,502.5 568.7,502.7 571.7,502.9 574.7,503.0 577.7,503.2 580.7,503.3 583.7,503.5 586.7,503.6 589.7,503.7 592.7,503.8 595.7,503.9 598.7,504.0 601.7,504.1 604.7,504.2 607.7,504.3 610.7,504.4 613.7,504.5 616.7,504.5 619.7,504.6 622.7,504.7 625.7,504.7 628.7,504.8 631.7,504.9 634.7,504.9 637.7,505.0 640.7,505.0 643.7,505.0 646.7,505.1 649.7,505.1 652.7,505.1 655.7,505.1 658.7,505.1 661.7,505.0 664.7,505.0 667.7,504.9 670.7,504.8 673.7,504.7 676.7,504.6 679.7,504.5 682.7,504.4 685.7,504.2 688.7,504.1 691.7,503.9 694.7,503.7 697.7,503.6 700.7,503.4 703.7,503.2 706.7,503.0 709.7,502.8 712.7,502.5 715.7,502.3 718.7,502.1 721.7,501.9 724.7,501.7 727.7,501.4 730.7,501.2 733.7,501.0 736.7,500.8 739.7,500.5 742.7,500.3 745.7,500.1 748.7,499.8 751.7,499.6 754.7,499.4 757.7,499.1 760.7,498.9 763.7,498.7 766.7,498.4 769.7,498.2 772.7,498.0 775.7,497.7 778.7,497.5 781.7,497.2 784.7,497.0"/>
<path stroke="#4EB400" d="M127.8,639.8L130.8,639.5 133.8,639.2 136.8,638.9 139.8,638.6 142.8,638.3 145.8,638.1 148.8,637.8 151.8,637.5 154.8,637.2 157.8,636.9 160.8,636.6 163.8,636.3 166.8,636.0 169.8,635.7 172.8,635.4 175.8,635.1 178.8,634.8 181.8,634.5 184.8,634.2 187.8,633.9 190.8,633.6 193.8,633.3 196.8,633.0 199.8,632.7 202.8,632.4 205.8,632.1 208.8,631.8 211.8,631.5 214.8,631.1 217.8,630.8 220.8,630.5 223.8,630.2 226.8,630.0 229.8,629.7 232.8,629.4 235.8,629.1 238.8,628.8 241.8,628.5 244.8,628.3 247.8,628.0 250.8,627.7 253.8,627.5 256.8,627.2 259.8,627.0 262.8,626.8 265.8,626.5 268.8,626.3 271.8,626.1 274.8,625.8 277.8,625.6 280.8,625.4 283.8,625.2 286.8,625.0 289.8,624.7 292.8,624.5 295.8,624.3 298.8,624.1 301.8,623.9 304.8,623.7 307.8,623.4 310.8,623.2 313.8,623.0 316.8,622.8 319.8,622.6 322.8,622.4 325.8,622.2 328.8,622.0 331.8,621.8 334.8,621.6 337.8,621.4 340.8,621.2 343.8,621.1 346.8,620.9 349.8,620.8 352.8,620.6 355.8,620.5 358.8,620.4 361.8,620.4 364.8,620.3 367.8,620.3 370.8,620.2 373.8,620.2 376.8,620.2 379.8,620.2 382.8,620.2 385.8,620.2 388.8,620.3 391.8,620.3 394.8,620.4 397.8,620.5 400.8,620.5 403.8,620.6 406.8,620.7 409.8,620.8 412.8,620.9 415.8,621.0 418.8,621.1 421.8,621.2 424.8,621.4 427.8,621.5 430.8,621.6 433.8,621.8 436.8,621.9 439.8,622.1 442.8,622.2 445.8,622.4 448.8,622.5 451.8,622.7 454.8,622.9 457.7,623.1 460.7,623.2 463.7,623.4 466.7,623.7 469.7,623.9 472.7,624.1 475.7,624.3 478.7,624.6 481.7,624.9 484.7,625.2 487.7,625.4 490.7,625.8 493.7,626.1 496.7,626.4 499.7,626.7 502.7,627.0 505.7,627.3 508.7,627.7 511.7,628.0 514.7,628.3 517.7,628.5 520.7,628.8 523.7,629.1 526.7,629.3 529.7,629.5 532.7,629.7 535.7,629.9 538.7,630.1 541.7,630.2 544.7,630.4 547.7,630.5 550.7,630.6 553.7,630.7 556.7,630.8 559.7,630.9 562.7,631.0 565.7,631.1 568.7,631.2 571.7,631.3 574.7,631.3 577.7,631.4 580.7,631.5 583.7,631.5 586.7,631.6 589.7,631.7 592.7,631.8 595.7,631.8 598.7,631.9 601.7,632.0 604.7,632.1 607.7,632.1 610.7,632.2 613.7,632.3 616.7,632.4 619.7,632.4 622.7,632.5 625.7,632.6 628.7,632.6 631.7,632.7 634.7,632.8 637.7,632.8 640.7,632.9 643.7,632.9 646.7,633.0 649.7,633.0 652.7,633.1 655.7,633.1 658.7,633.2 661.7,633.2 664.7,633.2 667.7,633.2 670.7,633.2 673.7,633.2 676.7,633.3 679.7,633.3 682.7,633.2 685.7,633.2 688.7,633.2 691.7,633.2 694.7,633.2 697.7,633.2 700.7,633.2 703.7,633.1 706.7,633.1 709.7,633.1 712.7,633.0 715.7,633.0 718.7,633.0 721.7,632.9 724.7,632.9 727.7,632.8 730.7,632.8 733.7,632.7 736.7,632.7 739.7,632.7 742.7,632.6 745.7,632.6 748.7,632.5 751.7,632.5 754.7,632.4 757.7,632.4 760.7,632.3 763.7,632.3 766.7,632.2 769.7,632.2 772.7,632.1 775.7,632.1 778.7,632.0 781.7,632.0 784.7,631.9"/>
<path stroke="#00B92F" d="M127.8,522.6L130.8,521.4 133.8,520.1 136.8,518.9 139.8,517.6 142.8,516.4 145.8,515.2 148.8,513.9 151.8,512.7 154.8,511.5 157.8,510.3 160.8,509.0 163.8,507.8 166.8,506.6 169.8,505.4 172.8,504.2 175.8,503.0 178.8,501.8 181.8,500.6 184.8,499.4 187.8,498.2 190.8,497.1 193.8,495.9 196.8,494.8 199.8,493.6 202.8,492.5 205.8,491.4 208.8,490.2 211.8,489.1 214.8,488.1 217.8,487.0 220.8,486.0 223.8,485.0 226.8,484.0 229.8,483.0 232.8,482.1 235.8,481.1 238.8,480.3 241.8,479.4 244.8,478.6 247.8,477.8 250.8,477.1 253.8,476.3 256.8,475.7 259.8,475.0 262.8,474.4 265.8,473.8 268.8,473.3 271.8,472.7 274.8,472.2 277.8,471.7 280.8,471.2 283.8,470.8 286.8,470.4 289.8,470.0 292.8,469.5 295.8,469.2 298.8,468.8 301.8,468.4 304.8,468.1 307.8,467.7 310.8,467.4 313.8,467.0 316.8,466.7 319.8,466.4 322.8,466.1 325.8,465.8 328.8,465.6 331.8,465.4 334.8,465.2 337.8,465.0 340.8,464.9 343.8,464.8 346.8,464.7 349.8,464.7 352.8,464.7 355.8,464.8 358.8,464.9 361.8,465.1 364.8,465.3 367.8,465.6 370.8,465.9 373.8,466.3 376.8,466.7 379.8,467.2 382.8,467.6 385.8,468.2 388.8,468.7 391.8,469.3 394.8,469.8 397.8,470.4 400.8,471.0 403.8,471.6 406.8,472.3 409.8,472.9 412.8,473.5 415.8,474.1 418.8,474.6 421.8,475.2 424.8,475.8 427.8,476.3 430.8,476.9 433.8,477.4 436.8,478.0 439.8,478.6 442.8,479.1 445.8,479.7 448.8,480.3 451.8,480.9 454.8,481.6 457.7,482.2 460.7,482.9 463.7,483.6 466.7,484.3 469.7,485.0 472.7,485.8 475.7,486.6 478.7,487.5 481.7,488.4 484.7,489.3 487.7,490.3 490.7,491.2 493.7,492.3 496.7,493.3 499.7,494.3 502.7,495.3 505.7,496.3 508.7,497.3 511.7,498.3 514.7,499.3 517.7,500.2 520.7,501.0 523.7,501.9 526.7,502.6 529.7,503.3 532.7,504.0 535.7,504.6 538.7,505.1 541.7,505.6 544.7,506.0 547.7,506.4 550.7,506.8 553.7,507.1 556.7,507.4 559.7,507.7 562.7,508.0 565.7,508.2 568.7,508.4 571.7,508.6 574.7,508.8 577.7,509.0 580.7,509.1 583.7,509.3 586.7,509.5 589.7,509.7 592.7,509.8 595.7,510.0 598.7,510.2 601.7,510.3 604.7,510.5 607.7,510.6 610.7,510.7 613.7,510.9 616.7,511.0 619.7,511.1 622.7,511.1 625.7,511.2 628.7,511.3 631.7,511.3 634.7,511.3 637.7,511.3 640.7,511.3 643.7,511.3 646.7,511.2 649.7,511.2 652.7,511.1 655.7,511.0 658.7,510.9 661.7,510.8 664.7,510.6 667.7,510.5 670.7,510.3 673.7,510.1 676.7,509.9 679.7,509.7 682.7,509.5 685.7,509.2 688.7,509.0 691.7,508.7 694.7,508.4 697.7,508.1 700.7,507.8 703.7,507.5 706.7,507.2 709.7,506.9 712.7,506.5 715.7,506.2 718.7,505.8 721.7,505.5 724.7,505.1 727.7,504.8 730.7,504.4 733.7,504.0 736.7,503.6 739.7,503.3 742.7,502.9 745.7,502.5 748.7,502.2 751.7,501.8 754.7,501.5 757.7,501.1 760.7,500.7 763.7,500.4 766.7,500.0 769.7,499.7 772.7,499.4 775.7,499.0 778.7,498.7 781.7,498.3 784.7,498.0"/>
<path stroke="#00C086" d="M127.8,547.7L130.8,546.5 133.8,545.3 136.8,544.1 139.8,542.9 142.8,541.7 145.8,540.5 148.8,539.2 151.8,538.0 154.8,536.8 157.8,535.6 160.8,534.4 163.8,533.2 166.8,532.0 169.8,530.8 172.8,529.5 175.8,528.3 178.8,527.1 181.8,525.9 184.8,524.7 187.8,523.4 190.8,522.2 193.8,521.0 196.8,519.8 199.8,518.5 202.8,517.3 205.8,516.1 208.8,514.9 211.8,513.7 214.8,512.4 217.8,511.2 220.8,510.0 223.8,508.9 226.8,507.7 229.8,506.5 232.8,505.4 235.8,504.2 238.8,503.1 241.8,502.0 244.8,500.9 247.8,499.8 250.8,498.8 253.8,497.8 256.8,496.7 259.8,495.8 262.8,494.8 265.8,493.8 268.8,492.9 271.8,492.0 274.8,491.1 277.8,490.2 280.8,489.4 283.8,488.5 286.8,487.7 289.8,486.9 292.8,486.1 295.8,485.4 298.8,484.6 301.8,483.9 304.8,483.2 307.8,482.5 310.8,481.9 313.8,481.2 316.8,480.6 319.8,480.0 322.8,479.4 325.8,478.8 328.8,478.3 331.8,477.8 334.8,477.3 337.8,476.8 340.8,476.3 343.8,475.9 346.8,475.5 349.8,475.2 352.8,474.8 355.8,474.5 358.8,474.3 361.8,474.0 364.8,473.8 367.8,473.6 370.8,473.5 373.8,473.5 376.8,473.5 379.8,473.6 382.8,473.7 385.8,473.9 388.8,474.3 391.8,474.7 394.8,475.1 397.8,475.7 400.8,476.2 403.8,476.8 406.8,477.5 409.8,478.1 412.8,478.8 415.8,479.4 418.8,480.0 421.8,480.6 424.8,481.2 427.8,481.8 430.8,482.4 433.8,483.0 436.8,483.6 439.8,484.2 442.8,484.7 445.8,485.3 448.8,485.9 451.8,486.4 454.8,487.0 457.7,487.6 460.7,488.2 463.7,488.7 466.7,489.3 469.7,490.0 472.7,490.6 475.7,491.3 478.7,492.0 481.7,492.8 484.7,493.6 487.7,494.5 490.7,495.4 493.7,496.4 496.7,497.4 499.7,498.3 502.7,499.3 505.7,500.3 508.7,501.3 511.7,502.2 514.7,503.2 517.7,504.1 520.7,504.9 523.7,505.8 526.7,506.5 529.7,507.2 532.7,507.9 535.7,508.5 538.7,509.0 541.7,509.5 544.7,509.9 547.7,510.3 550.7,510.7 553.7,511.0 556.7,511.3 559.7,511.6 562.7,511.9 565.7,512.1 568.7,512.3 571.7,512.5 574.7,512.7 577.7,512.9 580.7,513.0 583.7,513.2 586.7,513.4 589.7,513.5 592.7,513.7 595.7,513.9 598.7,514.0 601.7,514.2 604.7,514.3 607.7,514.5 610.7,514.6 613.7,514.8 616.7,515.0 619.7,515.1 622.7,515.2 625.7,515.4 628.7,515.5 631.7,515.7 634.7,515.8 637.7,516.0 640.7,516.1 643.7,516.2 646.7,516.4 649.7,516.5 652.7,516.6 655.7,516.8 658.7,516.9 661.7,517.0 664.7,517.1 667.7,517.2 670.7,517.3 673.7,517.4 676.7,517.5 679.7,517.6 682.7,517.7 685.7,517.8 688.7,517.8 691.7,517.9 694.7,517.9 697.7,518.0 700.7,518.0 703.7,518.1 706.7,518.1 709.7,518.1 712.7,518.1 715.7,518.1 718.7,518.1 721.7,518.1 724.7,518.1 727.7,518.1 730.7,518.1 733.7,518.1 736.7,518.1 739.7,518.1 742.7,518.0 745.7,518.0 748.7,518.0 751.7,517.9 754.7,517.9 757.7,517.8 760.7,517.8 763.7,517.8 766.7,517.7 769.7,517.7 772.7,517.6 775.7,517.6 778.7,517.5 781.7,517.5 784.7,517.4"/>
<path stroke="#00C1AD" d="M127.8,623.6L130.8,622.0 133.8,620.4 136.8,618.9 139.8,617.3 142.8,615.7 145.8,614.1 148.8,612.5 151.8,610.9 154.8,609.3 157.8,607.7 160.8,606.1 163.8,604.5 166.8,602.8 169.8,601.2 172.8,599.5 175.8,597.9 178.8,596.2 181.8,594.6 184.8,592.9 187.8,591.2 190.8,589.5 193.8,587.8 196.8,586.1 199.8,584.3 202.8,582.6 205.8,580.8 208.8,579.0 211.8,577.3 214.8,575.5 217.8,573.7 220.8,571.9 223.8,570.2 226.8,568.4 229.8,566.6 232.8,564.8 235.8,563.1 238.8,561.3 241.8,559.5 244.8,557.8 247.8,556.0 250.8,554.3 253.8,552.6 256.8,550.8 259.8,549.1 262.8,547.4 265.8,545.7 268.8,543.9 271.8,542.1 274.8,540.3 277.8,538.5 280.8,536.7 283.8,534.8 286.8,532.9 289.8,531.0 292.8,529.0 295.8,527.0 298.8,524.9 301.8,522.7 304.8,520.5 307.8,518.3 310.8,516.0 313.8,513.6 316.8,511.2 319.8,508.8 322.8,506.4 325.8,504.0 328.8,501.6 331.8,499.3 334.8,496.9 337.8,494.6 340.8,492.4 343.8,490.2 346.8,488.1 349.8,486.0 352.8,484.1 355.8,482.2 358.8,480.5 361.8,478.9 364.8,477.4 367.8,475.9 370.8,474.6 373.8,473.4 376.8,472.2 379.8,471.0 382.8,469.9 385.8,468.9 388.8,467.8 391.8,466.8 394.8,465.8 397.8,464.8 400.8,463.8 403.8,462.8 406.8,461.8 409.8,460.8 412.8,459.8 415.8,458.8 418.8,457.8 421.8,456.8 424.8,455.8 427.8,454.9 430.8,454.1 433.8,453.3 436.8,452.6 439.8,452.0 442.8,451.4 445.8,451.0 448.8,450.8 451.8,450.6 454.8,450.6 457.7,450.6 460.7,450.8 463.7,451.2 466.7,451.6 469.7,452.1 472.7,452.7 475.7,453.3 478.7,454.0 481.7,454.7 484.7,455.5 487.7,456.2 490.7,457.0 493.7,457.7 496.7,458.4 499.7,459.1 502.7,459.8 505.7,460.4 508.7,461.0 511.7,461.5 514.7,461.9 517.7,462.3 520.7,462.5 523.7,462.7 526.7,462.7 529.7,462.7 532.7,462.6 535.7,462.4 538.7,462.1 541.7,461.7 544.7,461.2 547.7,460.7 550.7,460.2 553.7,459.6 556.7,458.9 559.7,458.2 562.7,457.5 565.7,456.7 568.7,455.8 571.7,455.0 574.7,454.1 577.7,453.1 580.7,452.2 583.7,451.2 586.7,450.2 589.7,449.2 592.7,448.1 595.7,447.1 598.7,446.0 601.7,445.0 604.7,443.9 607.7,442.9 610.7,441.8 613.7,440.8 616.7,439.8 619.7,438.7 622.7,437.7 625.7,436.7 628.7,435.6 631.7,434.6 634.7,433.5 637.7,432.5 640.7,431.5 643.7,430.4 646.7,429.3 649.7,428.3 652.7,427.2 655.7,426.0 658.7,424.9 661.7,423.7 664.7,422.5 667.7,421.2 670.7,419.9 673.7,418.6 676.7,417.3 679.7,415.9 682.7,414.6 685.7,413.2 688.7,411.8 691.7,410.4 694.7,409.1 697.7,407.7 700.7,406.3 703.7,404.9 706.7,403.5 709.7,402.1 712.7,400.7 715.7,399.3 718.7,397.8 721.7,396.3 724.7,394.8 727.7,393.2 730.7,391.6 733.7,390.0 736.7,388.4 739.7,386.8 742.7,385.2 745.7,383.6 748.7,381.9 751.7,380.3 754.7,378.7 757.7,377.2 760.7,375.6 763.7,374.0 766.7,372.5 769.7,370.9 772.7,369.4 775.7,367.8 778.7,366.3 781.7,364.8 784.7,363.3"/>
<path stroke="#00BCD9" d="M127.8,522.4L130.8,521.1 133.8,519.7 136.8,518.4 139.8,517.1 142.8,515.7 145.8,514.4 148.8,513.1 151.8,511.8 154.8,510.5 157.8,509.1 160.8,507.8 163.8,506.5 166.8,505.2 169.8,504.0 172.8,502.7 175.8,501.4 178.8,500.1 181.8,498.9 184.8,497.6 187.8,496.4 190.8,495.1 193.8,493.9 196.8,492.7 199.8,491.5 202.8,490.3 205.8,489.1 208.8,488.0 211.8,486.8 214.8,485.7 217.8,484.6 220.8,483.5 223.8,482.4 226.8,481.3 229.8,480.3 232.8,479.3 235.8,478.3 238.8,477.3 241.8,476.3 244.8,475.4 247.8,474.5 250.8,473.6 253.8,472.8 256.8,472.0 259.8,471.2 262.8,470.4 265.8,469.6 268.8,468.9 271.8,468.2 274.8,467.5 277.8,466.8 280.8,466.2 283.8,465.5 286.8,464.9 289.8,464.3 292.8,463.7 295.8,463.2 298.8,462.6 301.8,462.1 304.8,461.5 307.8,461.0 310.8,460.5 313.8,460.0 316.8,459.6 319.8,459.1 322.8,458.7 325.8,458.2 328.8,457.8 331.8,457.4 334.8,457.0 337.8,456.7 340.8,456.3 343.8,456.0 346.8,455.6 349.8,455.3 352.8,455.1 355.8,454.8 358.8,454.5 361.8,454.3 364.8,454.1 367.8,453.9 370.8,453.8 373.8,453.6 376.8,453.5 379.8,453.4 382.8,453.3 385.8,453.2 388.8,453.2 391.8,453.2 394.8,453.2 397.8,453.3 400.8,453.3 403.8,453.4 406.8,453.5 409.8,453.7 412.8,453.9 415.8,454.1 418.8,454.3 421.8,454.5 424.8,454.8 427.8,455.2 430.8,455.5 433.8,455.9 436.8,456.3 439.8,456.7 442.8,457.2 445.8,457.7 448.8,458.3 451.8,458.8 454.8,459.5 457.7,460.1 460.7,460.8 463.7,461.5 466.7,462.2 469.7,463.0 472.7,463.8 475.7,464.5 478.7,465.3 481.7,466.1 484.7,466.9 487.7,467.6 490.7,468.3 493.7,469.1 496.7,469.8 499.7,470.5 502.7,471.2 505.7,471.8 508.7,472.5 511.7,473.1 514.7,473.8 517.7,474.4 520.7,475.0 523.7,475.6 526.7,476.1 529.7,476.7 532.7,477.2 535.7,477.7 538.7,478.3 541.7,478.7 544.7,479.2 547.7,479.7 550.7,480.1 553.7,480.5 556.7,481.0 559.7,481.4 562.7,481.7 565.7,482.1 568.7,482.4 571.7,482.8 574.7,483.1 577.7,483.4 580.7,483.7 583.7,483.9 586.7,484.2 589.7,484.4 592.7,484.6 595.7,484.9 598.7,485.0 601.7,485.2 604.7,485.4 607.7,485.5 610.7,485.7 613.7,485.8 616.7,485.9 619.7,486.0 622.7,486.1 625.7,486.2 628.7,486.3 631.7,486.3 634.7,486.4 637.7,486.4 640.7,486.5 643.7,486.5 646.7,486.5 649.7,486.5 652.7,486.5 655.7,486.5 658.7,486.5 661.7,486.5 664.7,486.4 667.7,486.4 670.7,486.4 673.7,486.3 676.7,486.2 679.7,486.2 682.7,486.1 685.7,486.0 688.7,485.9 691.7,485.8 694.7,485.7 697.7,485.6 700.7,485.5 703.7,485.4 706.7,485.2 709.7,485.1 712.7,485.0 715.7,484.8 718.7,484.7 721.7,484.5 724.7,484.4 727.7,484.2 730.7,484.0 733.7,483.9 736.7,483.7 739.7,483.5 742.7,483.3 745.7,483.1 748.7,483.0 751.7,482.8 754.7,482.6 757.7,482.4 760.7,482.2 763.7,482.0 766.7,481.8 769.7,481.6 772.7,481.4 775.7,481.2 778.7,481.0 781.7,480.8 784.7,480.6"/>
<path stroke="#00B1F5" d="M127.8,480.3L130.8,479.6 133.8,478.9 136.8,478.2 139.8,477.5 142.8,476.8 145.8,476.1 148.8,475.5 151.8,474.8 154.8,474.1 157.8,473.4 160.8,472.7 163.8,472.1 166.8,471.4 169.8,470.7 172.8,470.1 175.8,469.4 178.8,468.8 181.8,468.2 184.8,467.5 187.8,466.9 190.8,466.3 193.8,465.7 196.8,465.1 199.8,464.5 202.8,463.9 205.8,463.3 208.8,462.7 211.8,462.2 214.8,461.6 217.8,461.1 220.8,460.5 223.8,460.0 226.8,459.5 229.8,459.0 232.8,458.5 235.8,458.0 238.8,457.6 241.8,457.1 244.8,456.6 247.8,456.2 250.8,455.8 253.8,455.4 256.8,455.0 259.8,454.6 262.8,454.2 265.8,453.8 268.8,453.4 271.8,453.0 274.8,452.7 277.8,452.3 280.8,451.9 283.8,451.5 286.8,451.1 289.8,450.7 292.8,450.3 295.8,449.9 298.8,449.5 301.8,449.1 304.8,448.6 307.8,448.1 310.8,447.7 313.8,447.2 316.8,446.7 319.8,446.2 322.8,445.7 325.8,445.2 328.8,444.8 331.8,444.3 334.8,443.9 337.8,443.5 340.8,443.0 343.8,442.7 346.8,442.3 349.8,442.0 352.8,441.7 355.8,441.5 358.8,441.3 361.8,441.1 364.8,441.0 367.8,441.0 370.8,440.9 373.8,441.0 376.8,441.0 379.8,441.1 382.8,441.2 385.8,441.3 388.8,441.4 391.8,441.6 394.8,441.8 397.8,442.0 400.8,442.2 403.8,442.4 406.8,442.6 409.8,442.8 412.8,443.0 415.8,443.2 418.8,443.4 421.8,443.6 424.8,443.8 427.8,444.0 430.8,444.2 433.8,444.5 436.8,444.7 439.8,444.9 442.8,445.2 445.8,445.5 448.8,445.9 451.8,446.2 454.8,446.6 457.7,447.1 460.7,447.6 463.7,448.1 466.7,448.7 469.7,449.3 472.7,450.0 475.7,450.6 478.7,451.3 481.7,452.0 484.7,452.7 487.7,453.3 490.7,454.0 493.7,454.6 496.7,455.2 499.7,455.9 502.7,456.4 505.7,457.0 508.7,457.6 511.7,458.1 514.7,458.6 517.7,459.0 520.7,459.5 523.7,459.9 526.7,460.2 529.7,460.5 532.7,460.8 535.7,461.1 538.7,461.3 541.7,461.4 544.7,461.6 547.7,461.7 550.7,461.8 553.7,461.9 556.7,462.0 559.7,462.0 562.7,462.0 565.7,462.1 568.7,462.1 571.7,462.1 574.7,462.1 577.7,462.1 580.7,462.1 583.7,462.0 586.7,462.0 589.7,462.0 592.7,462.0 595.7,462.0 598.7,462.0 601.7,462.0 604.7,461.9 607.7,461.9 610.7,461.8 613.7,461.8 616.7,461.7 619.7,461.6 622.7,461.6 625.7,461.5 628.7,461.4 631.7,461.3 634.7,461.3 637.7,461.2 640.7,461.1 643.7,461.0 646.7,460.9 649.7,460.8 652.7,460.7 655.7,460.5 658.7,460.4 661.7,460.3 664.7,460.2 667.7,460.0 670.7,459.8 673.7,459.7 676.7,459.5 679.7,459.3 682.7,459.1 685.7,458.9 688.7,458.7 691.7,458.5 694.7,458.3 697.7,458.1 700.7,457.8 703.7,457.6 706.7,457.3 709.7,457.1 712.7,456.8 715.7,456.6 718.7,456.3 721.7,456.0 724.7,455.7 727.7,455.4 730.7,455.2 733.7,454.9 736.7,454.6 739.7,454.3 742.7,453.9 745.7,453.6 748.7,453.3 751.7,453.0 754.7,452.7 757.7,452.4 760.7,452.0 763.7,451.7 766.7,451.4 769.7,451.1 772.7,450.7 775.7,450.4 778.7,450.1 781.7,449.7 784.7,449.4"/>
<path stroke="#18A3FF" d="M127.8,480.5L130.8,479.8 133.8,479.1 136.8,478.4 139.8,477.7 142.8,477.0 145.8,476.3 148.8,475.7 151.8,475.0 154.8,474.3 157.8,473.6 160.8,472.9 163.8,472.3 166.8,471.6 169.8,470.9 172.8,470.3 175.8,469.6 178.8,469.0 181.8,468.4 184.8,467.7 187.8,467.1 190.8,466.5 193.8,465.9 196.8,465.3 199.8,464.7 202.8,464.1 205.8,463.5 208.8,462.9 211.8,462.4 214.8,461.8 217.8,461.3 220.8,460.7 223.8,460.2 226.8,459.7 229.8,459.2 232.8,458.7 235.8,458.2 238.8,457.8 241.8,457.3 244.8,456.8 247.8,456.4 250.8,456.0 253.8,455.6 256.8,455.2 259.8,454.8 262.8,454.4 265.8,454.0 268.8,453.6 271.8,453.2 274.8,452.9 277.8,452.5 280.8,452.1 283.8,451.7 286.8,451.3 289.8,450.9 292.8,450.5 295.8,450.1 298.8,449.7 301.8,449.3 304.8,448.8 307.8,448.3 310.8,447.9 313.8,447.4 316.8,446.9 319.8,446.4 322.8,445.9 325.8,445.4 328.8,445.0 331.8,444.5 334.8,444.1 337.8,443.6 340.8,443.2 343.8,442.9 346.8,442.5 349.8,442.2 352.8,441.9 355.8,441.7 358.8,441.5 361.8,441.3 364.8,441.2 367.8,441.2 370.8,441.1 373.8,441.2 376.8,441.2 379.8,441.3 382.8,441.4 385.8,441.5 388.8,441.7 391.8,441.8 394.8,442.0 397.8,442.2 400.8,442.5 403.8,442.7 406.8,442.9 409.8,443.1 412.8,443.3 415.8,443.5 418.8,443.7 421.8,443.9 424.8,444.1 427.8,444.3 430.8,444.6 433.8,444.8 436.8,445.0 439.8,445.3 442.8,445.5 445.8,445.8 448.8,446.2 451.8,446.5 454.8,446.9 457.7,447.4 460.7,447.9 463.7,448.4 466.7,449.0 469.7,449.6 472.7,450.3 475.7,450.9 478.7,451.6 481.7,452.3 484.7,453.0 487.7,453.7 490.7,454.4 493.7,455.1 496.7,455.8 499.7,456.4 502.7,457.1 505.7,457.7 508.7,458.4 511.7,459.0 514.7,459.6 517.7,460.1 520.7,460.7 523.7,461.2 526.7,461.7 529.7,462.1 532.7,462.5 535.7,462.9 538.7,463.3 541.7,463.6 544.7,463.9 547.7,464.2 550.7,464.5 553.7,464.7 556.7,464.9 559.7,465.2 562.7,465.3 565.7,465.5 568.7,465.7 571.7,465.8 574.7,466.0 577.7,466.1 580.7,466.2 583.7,466.3 586.7,466.4 589.7,466.5 592.7,466.6 595.7,466.7 598.7,466.8 601.7,466.9 604.7,466.9 607.7,467.0 610.7,467.1 613.7,467.1 616.7,467.2 619.7,467.3 622.7,467.3 625.7,467.4 628.7,467.4 631.7,467.5 634.7,467.5 637.7,467.5 640.7,467.6 643.7,467.6 646.7,467.6 649.7,467.6 652.7,467.6 655.7,467.6 658.7,467.6 661.7,467.6 664.7,467.6 667.7,467.5 670.7,467.4 673.7,467.4 676.7,467.3 679.7,467.2 682.7,467.0 685.7,466.9 688.7,466.8 691.7,466.6 694.7,466.5 697.7,466.3 700.7,466.2 703.7,466.0 706.7,465.8 709.7,465.7 712.7,465.5 715.7,465.3 718.7,465.1 721.7,465.0 724.7,464.8 727.7,464.6 730.7,464.4 733.7,464.2 736.7,464.0 739.7,463.8 742.7,463.6 745.7,463.4 748.7,463.1 751.7,462.9 754.7,462.7 757.7,462.5 760.7,462.3 763.7,462.1 766.7,461.8 769.7,461.6 772.7,461.4 775.7,461.2 778.7,460.9 781.7,460.7 784.7,460.5"/>
<path stroke="#A28BFF" d="M127.8,578.0L130.8,576.5 133.8,575.0 136.8,573.5 139.8,572.0 142.8,570.5 145.8,569.0 148.8,567.5 151.8,566.0 154.8,564.4 157.8,562.9 160.8,561.4 163.8,559.9 166.8,558.4 169.8,556.8 172.8,555.3 175.8,553.8 178.8,552.2 181.8,550.7 184.8,549.1 187.8,547.6 190.8,546.0 193.8,544.4 196.8,542.8 199.8,541.3 202.8,539.7 205.8,538.1 208.8,536.5 211.8,534.9 214.8,533.3 217.8,531.7 220.8,530.2 223.8,528.6 226.8,527.0 229.8,525.4 232.8,523.9 235.8,522.3 238.8,520.8 241.8,519.2 244.8,517.7 247.8,516.2 250.8,514.7 253.8,513.3 256.8,511.8 259.8,510.4 262.8,508.9 265.8,507.5 268.8,506.1 271.8,504.7 274.8,503.3 277.8,502.0 280.8,500.6 283.8,499.3 286.8,497.9 289.8,496.6 292.8,495.3 295.8,494.0 298.8,492.8 301.8,491.5 304.8,490.3 307.8,489.0 310.8,487.8 313.8,486.6 316.8,485.4 319.8,484.2 322.8,483.0 325.8,481.9 328.8,480.8 331.8,479.7 334.8,478.6 337.8,477.5 340.8,476.5 343.8,475.5 346.8,474.5 349.8,473.6 352.8,472.6 355.8,471.8 358.8,470.9 361.8,470.1 364.8,469.3 367.8,468.5 370.8,467.8 373.8,467.1 376.8,466.4 379.8,465.8 382.8,465.2 385.8,464.6 388.8,464.1 391.8,463.6 394.8,463.2 397.8,462.8 400.8,462.4 403.8,462.1 406.8,461.8 409.8,461.5 412.8,461.3 415.8,461.2 418.8,461.0 421.8,460.9 424.8,460.9 427.8,460.9 430.8,460.9 433.8,460.9 436.8,461.0 439.8,461.2 442.8,461.3 445.8,461.5 448.8,461.8 451.8,462.0 454.8,462.4 457.7,462.7 460.7,463.1 463.7,463.6 466.7,464.1 469.7,464.6 472.7,465.2 475.7,465.9 478.7,466.5 481.7,467.3 484.7,468.0 487.7,468.8 490.7,469.6 493.7,470.4 496.7,471.3 499.7,472.2 502.7,473.0 505.7,473.9 508.7,474.8 511.7,475.6 514.7,476.4 517.7,477.2 520.7,478.0 523.7,478.7 526.7,479.4 529.7,480.1 532.7,480.7 535.7,481.3 538.7,481.8 541.7,482.3 544.7,482.8 547.7,483.2 550.7,483.6 553.7,484.0 556.7,484.4 559.7,484.8 562.7,485.1 565.7,485.4 568.7,485.8 571.7,486.1 574.7,486.4 577.7,486.7 580.7,487.0 583.7,487.3 586.7,487.6 589.7,488.0 592.7,488.3 595.7,488.7 598.7,489.0 601.7,489.4 604.7,489.8 607.7,490.1 610.7,490.6 613.7,491.0 616.7,491.4 619.7,491.9 622.7,492.3 625.7,492.8 628.7,493.3 631.7,493.8 634.7,494.4 637.7,494.9 640.7,495.5 643.7,496.1 646.7,496.7 649.7,497.3 652.7,498.0 655.7,498.6 658.7,499.2 661.7,499.9 664.7,500.5 667.7,501.2 670.7,501.8 673.7,502.5 676.7,503.2 679.7,503.8 682.7,504.4 685.7,505.1 688.7,505.7 691.7,506.3 694.7,506.9 697.7,507.5 700.7,508.1 703.7,508.7 706.7,509.2 709.7,509.8 712.7,510.3 715.7,510.8 718.7,511.3 721.7,511.9 724.7,512.4 727.7,512.9 730.7,513.3 733.7,513.8 736.7,514.3 739.7,514.8 742.7,515.2 745.7,515.7 748.7,516.1 751.7,516.6 754.7,517.0 757.7,517.5 760.7,517.9 763.7,518.3 766.7,518.8 769.7,519.2 772.7,519.6 775.7,520.0 778.7,520.5 781.7,520.9 784.7,521.3"/>
<path stroke="#D177FF" d="M127.8,456.6L130.8,456.3 133.8,456.0 136.8,455.8 139.8,455.5 142.8,455.2 145.8,454.9 148.8,454.7 151.8,454.4 154.8,454.1 157.8,453.8 160.8,453.6 163.8,453.3 166.8,453.0 169.8,452.7 172.8,452.5 175.8,452.2 178.8,451.9 181.8,451.6 184.8,451.4 187.8,451.1 190.8,450.8 193.8,450.5 196.8,450.3 199.8,450.0 202.8,449.7 205.8,449.5 208.8,449.2 211.8,449.0 214.8,448.7 217.8,448.4 220.8,448.2 223.8,447.9 226.8,447.7 229.8,447.5 232.8,447.2 235.8,447.0 238.8,446.8 241.8,446.6 244.8,446.4 247.8,446.2 250.8,446.0 253.8,445.8 256.8,445.6 259.8,445.5 262.8,445.3 265.8,445.2 268.8,445.0 271.8,444.9 274.8,444.8 277.8,444.7 280.8,444.7 283.8,444.6 286.8,444.5 289.8,444.5 292.8,444.5 295.8,444.5 298.8,444.5 301.8,444.5 304.8,444.6 307.8,444.6 310.8,444.7 313.8,444.8 316.8,444.9 319.8,445.0 322.8,445.1 325.8,445.3 328.8,445.4 331.8,445.6 334.8,445.8 337.8,446.0 340.8,446.2 343.8,446.5 346.8,446.7 349.8,447.0 352.8,447.3 355.8,447.7 358.8,448.0 361.8,448.4 364.8,448.8 367.8,449.2 370.8,449.6 373.8,450.1 376.8,450.5 379.8,451.0 382.8,451.5 385.8,452.0 388.8,452.5 391.8,453.0 394.8,453.5 397.8,454.0 400.8,454.6 403.8,455.1 406.8,455.6 409.8,456.1 412.8,456.6 415.8,457.0 418.8,457.5 421.8,458.0 424.8,458.4 427.8,458.9 430.8,459.4 433.8,459.8 436.8,460.3 439.8,460.8 442.8,461.4 445.8,462.0 448.8,462.6 451.8,463.2 454.8,463.9 457.7,464.6 460.7,465.4 463.7,466.2 466.7,467.0 469.7,467.9 472.7,468.9 475.7,469.8 478.7,470.8 481.7,471.8 484.7,472.8 487.7,473.8 490.7,474.8 493.7,475.8 496.7,476.8 499.7,477.8 502.7,478.7 505.7,479.7 508.7,480.6 511.7,481.6 514.7,482.5 517.7,483.4 520.7,484.2 523.7,485.0 526.7,485.8 529.7,486.6 532.7,487.3 535.7,488.0 538.7,488.7 541.7,489.3 544.7,489.9 547.7,490.5 550.7,491.0 553.7,491.6 556.7,492.1 559.7,492.6 562.7,493.0 565.7,493.5 568.7,493.9 571.7,494.3 574.7,494.7 577.7,495.1 580.7,495.5 583.7,495.8 586.7,496.2 589.7,496.5 592.7,496.9 595.7,497.2 598.7,497.5 601.7,497.8 604.7,498.1 607.7,498.4 610.7,498.7 613.7,499.0 616.7,499.3 619.7,499.6 622.7,499.8 625.7,500.1 628.7,500.4 631.7,500.7 634.7,501.0 637.7,501.2 640.7,501.5 643.7,501.8 646.7,502.0 649.7,502.3 652.7,502.6 655.7,502.8 658.7,503.1 661.7,503.3 664.7,503.5 667.7,503.7 670.7,503.9 673.7,504.1 676.7,504.3 679.7,504.5 682.7,504.6 685.7,504.8 688.7,504.9 691.7,505.0 694.7,505.1 697.7,505.1 700.7,505.2 703.7,505.2 706.7,505.2 709.7,505.2 712.7,505.2 715.7,505.2 718.7,505.1 721.7,505.1 724.7,505.0 727.7,504.9 730.7,504.8 733.7,504.7 736.7,504.6 739.7,504.5 742.7,504.3 745.7,504.2 748.7,504.1 751.7,503.9 754.7,503.7 757.7,503.6 760.7,503.4 763.7,503.2 766.7,503.0 769.7,502.9 772.7,502.7 775.7,502.5 778.7,502.3 781.7,502.1 784.7,501.9"/>
<path stroke="#EF67EC" d="M127.8,440.8L130.8,440.7 133.8,440.6 136.8,440.5 139.8,440.4 142.8,440.3 145.8,440.2 148.8,440.1 151.8,440.0 154.8,439.9 157.8,439.8 160.8,439.7 163.8,439.6 166.8,439.5 169.8,439.4 172.8,439.3 175.8,439.2 178.8,439.1 181.8,439.0 184.8,439.0 187.8,438.9 190.8,438.8 193.8,438.7 196.8,438.6 199.8,438.5 202.8,438.4 205.8,438.3 208.8,438.2 211.8,438.2 214.8,438.1 217.8,438.0 220.8,437.9 223.8,437.9 226.8,437.8 229.8,437.7 232.8,437.7 235.8,437.6 238.8,437.6 241.8,437.5 244.8,437.5 247.8,437.4 250.8,437.4 253.8,437.4 256.8,437.4 259.8,437.3 262.8,437.3 265.8,437.3 268.8,437.3 271.8,437.3 274.8,437.4 277.8,437.4 280.8,437.4 283.8,437.5 286.8,437.5 289.8,437.6 292.8,437.7 295.8,437.7 298.8,437.8 301.8,437.9 304.8,438.0 307.8,438.2 310.8,438.3 313.8,438.5 316.8,438.6 319.8,438.8 322.8,439.0 325.8,439.2 328.8,439.4 331.8,439.6 334.8,439.9 337.8,440.1 340.8,440.4 343.8,440.7 346.8,441.0 349.8,441.4 352.8,441.7 355.8,442.1 358.8,442.5 361.8,442.9 364.8,443.3 367.8,443.8 370.8,444.2 373.8,444.7 376.8,445.2 379.8,445.7 382.8,446.2 385.8,446.8 388.8,447.3 391.8,447.9 394.8,448.4 397.8,449.0 400.8,449.5 403.8,450.1 406.8,450.7 409.8,451.3 412.8,451.8 415.8,452.4 418.8,453.0 421.8,453.6 424.8,454.1 427.8,454.7 430.8,455.3 433.8,455.9 436.8,456.5 439.8,457.0 442.8,457.6 445.8,458.2 448.8,458.8 451.8,459.4 454.8,460.0 457.7,460.6 460.7,461.2 463.7,461.8 466.7,462.4 469.7,463.0 472.7,463.6 475.7,464.2 478.7,464.8 481.7,465.5 484.7,466.1 487.7,466.7 490.7,467.3 493.7,468.0 496.7,468.6 499.7,469.2 502.7,469.8 505.7,470.4 508.7,471.0 511.7,471.5 514.7,472.1 517.7,472.6 520.7,473.1 523.7,473.6 526.7,474.1 529.7,474.5 532.7,475.0 535.7,475.4 538.7,475.8 541.7,476.1 544.7,476.5 547.7,476.8 550.7,477.1 553.7,477.4 556.7,477.7 559.7,477.9 562.7,478.2 565.7,478.4 568.7,478.6 571.7,478.8 574.7,479.0 577.7,479.2 580.7,479.4 583.7,479.5 586.7,479.7 589.7,479.8 592.7,480.0 595.7,480.1 598.7,480.2 601.7,480.3 604.7,480.4 607.7,480.5 610.7,480.6 613.7,480.7 616.7,480.7 619.7,480.8 622.7,480.9 625.7,480.9 628.7,481.0 631.7,481.0 634.7,481.1 637.7,481.2 640.7,481.2 643.7,481.2 646.7,481.3 649.7,481.3 652.7,481.4 655.7,481.4 658.7,481.4 661.7,481.4 664.7,481.4 667.7,481.4 670.7,481.4 673.7,481.4 676.7,481.4 679.7,481.4 682.7,481.3 685.7,481.3 688.7,481.3 691.7,481.2 694.7,481.1 697.7,481.1 700.7,481.0 703.7,480.9 706.7,480.8 709.7,480.7 712.7,480.5 715.7,480.4 718.7,480.3 721.7,480.1 724.7,480.0 727.7,479.8 730.7,479.7 733.7,479.5 736.7,479.4 739.7,479.2 742.7,479.0 745.7,478.8 748.7,478.6 751.7,478.4 754.7,478.3 757.7,478.1 760.7,477.9 763.7,477.7 766.7,477.5 769.7,477.2 772.7,477.0 775.7,476.8 778.7,476.6 781.7,476.4 784.7,476.2"/>
<path stroke="#FF61C1" d="M127.8,454.5L130.8,454.2 133.8,454.0 136.8,453.7 139.8,453.4 142.8,453.1 145.8,452.9 148.8,452.6 151.8,452.3 154.8,452.0 157.8,451.8 160.8,451.5 163.8,451.2 166.8,451.0 169.8,450.7 172.8,450.4 175.8,450.2 178.8,449.9 181.8,449.6 184.8,449.3 187.8,449.1 190.8,448.8 193.8,448.5 196.8,448.3 199.8,448.0 202.8,447.7 205.8,447.5 208.8,447.2 211.8,447.0 214.8,446.7 217.8,446.4 220.8,446.2 223.8,445.9 226.8,445.7 229.8,445.5 232.8,445.2 235.8,445.0 238.8,444.8 241.8,444.6 244.8,444.4 247.8,444.2 250.8,444.0 253.8,443.8 256.8,443.6 259.8,443.5 262.8,443.3 265.8,443.2 268.8,443.1 271.8,442.9 274.8,442.8 277.8,442.7 280.8,442.7 283.8,442.6 286.8,442.5 289.8,442.5 292.8,442.5 295.8,442.5 298.8,442.5 301.8,442.5 304.8,442.6 307.8,442.6 310.8,442.7 313.8,442.8 316.8,442.9 319.8,443.0 322.8,443.1 325.8,443.3 328.8,443.4 331.8,443.6 334.8,443.8 337.8,444.0 340.8,444.2 343.8,444.5 346.8,444.7 349.8,445.0 352.8,445.3 355.8,445.7 358.8,446.0 361.8,446.4 364.8,446.8 367.8,447.2 370.8,447.6 373.8,448.1 376.8,448.5 379.8,449.0 382.8,449.5 385.8,450.0 388.8,450.5 391.8,451.0 394.8,451.5 397.8,452.0 400.8,452.6 403.8,453.1 406.8,453.6 409.8,454.1 412.8,454.6 415.8,455.0 418.8,455.5 421.8,456.0 424.8,456.4 427.8,456.9 430.8,457.4 433.8,457.8 436.8,458.3 439.8,458.8 442.8,459.4 445.8,460.0 448.8,460.6 451.8,461.2 454.8,461.9 457.7,462.6 460.7,463.4 463.7,464.2 466.7,465.0 469.7,465.9 472.7,466.9 475.7,467.8 478.7,468.8 481.7,469.8 484.7,470.8 487.7,471.8 490.7,472.8 493.7,473.8 496.7,474.8 499.7,475.8 502.7,476.7 505.7,477.7 508.7,478.6 511.7,479.6 514.7,480.5 517.7,481.4 520.7,482.2 523.7,483.0 526.7,483.8 529.7,484.6 532.7,485.3 535.7,486.0 538.7,486.7 541.7,487.3 544.7,487.9 547.7,488.5 550.7,489.0 553.7,489.6 556.7,490.1 559.7,490.6 562.7,491.0 565.7,491.5 568.7,491.9 571.7,492.3 574.7,492.7 577.7,493.1 580.7,493.5 583.7,493.8 586.7,494.2 589.7,494.6 592.7,494.9 595.7,495.2 598.7,495.5 601.7,495.9 604.7,496.2 607.7,496.5 610.7,496.8 613.7,497.1 616.7,497.3 619.7,497.6 622.7,497.9 625.7,498.1 628.7,498.4 631.7,498.7 634.7,498.9 637.7,499.2 640.7,499.4 643.7,499.6 646.7,499.9 649.7,500.1 652.7,500.3 655.7,500.5 658.7,500.7 661.7,500.9 664.7,501.0 667.7,501.2 670.7,501.3 673.7,501.5 676.7,501.6 679.7,501.7 682.7,501.7 685.7,501.8 688.7,501.9 691.7,501.9 694.7,501.9 697.7,501.9 700.7,501.8 703.7,501.8 706.7,501.7 709.7,501.6 712.7,501.5 715.7,501.4 718.7,501.3 721.7,501.2 724.7,501.0 727.7,500.8 730.7,500.7 733.7,500.5 736.7,500.3 739.7,500.1 742.7,499.8 745.7,499.6 748.7,499.4 751.7,499.1 754.7,498.9 757.7,498.6 760.7,498.4 763.7,498.1 766.7,497.8 769.7,497.5 772.7,497.3 775.7,497.0 778.7,496.7 781.7,496.4 784.7,496.1"/>
<path stroke="#FF699C" d="M127.8,463.0L130.8,462.8 133.8,462.6 136.8,462.3 139.8,462.1 142.8,461.9 145.8,461.7 148.8,461.4 151.8,461.2 154.8,461.0 157.8,460.8 160.8,460.6 163.8,460.4 166.8,460.2 169.8,459.9 172.8,459.7 175.8,459.5 178.8,459.3 181.8,459.1 184.8,458.9 187.8,458.8 190.8,458.6 193.8,458.4 196.8,458.2 199.8,458.0 202.8,457.8 205.8,457.7 208.8,457.5 211.8,457.3 214.8,457.2 217.8,457.0 220.8,456.9 223.8,456.7 226.8,456.6 229.8,456.4 232.8,456.3 235.8,456.1 238.8,456.0 241.8,455.8 244.8,455.7 247.8,455.5 250.8,455.4 253.8,455.2 256.8,455.1 259.8,455.0 262.8,454.8 265.8,454.7 268.8,454.5 271.8,454.4 274.8,454.2 277.8,454.0 280.8,453.9 283.8,453.7 286.8,453.6 289.8,453.4 292.8,453.2 295.8,453.0 298.8,452.9 301.8,452.7 304.8,452.5 307.8,452.4 310.8,452.2 313.8,452.0 316.8,451.9 319.8,451.7 322.8,451.6 325.8,451.5 328.8,451.4 331.8,451.3 334.8,451.2 337.8,451.1 340.8,451.1 343.8,451.0 346.8,451.0 349.8,451.0 352.8,451.1 355.8,451.1 358.8,451.2 361.8,451.3 364.8,451.5 367.8,451.6 370.8,451.8 373.8,452.0 376.8,452.3 379.8,452.5 382.8,452.8 385.8,453.1 388.8,453.4 391.8,453.7 394.8,454.0 397.8,454.4 400.8,454.7 403.8,455.1 406.8,455.5 409.8,455.9 412.8,456.3 415.8,456.7 418.8,457.1 421.8,457.5 424.8,457.9 427.8,458.3 430.8,458.8 433.8,459.2 436.8,459.7 439.8,460.2 442.8,460.8 445.8,461.3 448.8,461.9 451.8,462.5 454.8,463.1 457.7,463.8 460.7,464.5 463.7,465.2 466.7,466.0 469.7,466.8 472.7,467.6 475.7,468.4 478.7,469.3 481.7,470.1 484.7,470.9 487.7,471.7 490.7,472.5 493.7,473.3 496.7,474.1 499.7,474.9 502.7,475.8 505.7,476.6 508.7,477.4 511.7,478.2 514.7,479.0 517.7,479.8 520.7,480.6 523.7,481.4 526.7,482.3 529.7,483.1 532.7,484.0 535.7,484.8 538.7,485.6 541.7,486.5 544.7,487.3 547.7,488.1 550.7,488.9 553.7,489.7 556.7,490.5 559.7,491.3 562.7,492.0 565.7,492.7 568.7,493.3 571.7,493.9 574.7,494.5 577.7,495.0 580.7,495.5 583.7,496.0 586.7,496.4 589.7,496.7 592.7,497.1 595.7,497.4 598.7,497.6 601.7,497.9 604.7,498.1 607.7,498.3 610.7,498.5 613.7,498.8 616.7,499.0 619.7,499.2 622.7,499.4 625.7,499.7 628.7,500.0 631.7,500.3 634.7,500.6 637.7,501.0 640.7,501.4 643.7,501.8 646.7,502.2 649.7,502.7 652.7,503.1 655.7,503.6 658.7,504.1 661.7,504.6 664.7,505.1 667.7,505.6 670.7,506.2 673.7,506.7 676.7,507.2 679.7,507.7 682.7,508.3 685.7,508.8 688.7,509.3 691.7,509.8 694.7,510.3 697.7,510.8 700.7,511.3 703.7,511.7 706.7,512.2 709.7,512.7 712.7,513.1 715.7,513.5 718.7,514.0 721.7,514.4 724.7,514.8 727.7,515.2 730.7,515.6 733.7,516.0 736.7,516.4 739.7,516.7 742.7,517.1 745.7,517.5 748.7,517.8 751.7,518.2 754.7,518.6 757.7,518.9 760.7,519.3 763.7,519.6 766.7,520.0 769.7,520.3 772.7,520.6 775.7,521.0 778.7,521.3 781.7,521.7 784.7,522.0"/>
<path stroke="#000" stroke-width="2.6" stroke-dasharray="9.9 9.8" d="M481.4,349.0V660"/>
</g>
<g stroke="#EBEBEB" stroke-width="1.2" fill="none">
<path d="M138.1,684.5V754.6"/>
<path d="M248.4,684.5V754.6"/>
<path d="M358.7,684.5V754.6"/>
<path d="M469.0,684.5V754.6"/>
<path d="M579.3,684.5V754.6"/>
<path d="M689.6,684.5V754.6"/>
<path d="M799.9,684.5V754.6"/>
<path d="M126,751.6H785"/>
</g>
<g fill="#595959">
<rect x="127.60" y="748.70" width="4.35" height="2.90"/>
<rect x="214.60" y="725.30" width="4.35" height="26.30"/>
<rect x="236.35" y="732.80" width="4.35" height="18.80"/>
<rect x="323.35" y="743.00" width="4.35" height="8.60"/>
<rect x="332.05" y="723.30" width="4.35" height="28.30"/>
<rect x="336.40" y="742.50" width="4.35" height="9.10"/>
<rect x="340.75" y="705.10" width="4.35" height="46.50"/>
<rect x="345.10" y="731.20" width="4.35" height="20.40"/>
<rect x="353.80" y="749.20" width="4.35" height="2.40"/>
<rect x="358.15" y="737.10" width="4.35" height="14.50"/>
<rect x="362.50" y="748.40" width="4.35" height="3.20"/>
<rect x="371.20" y="725.00" width="4.35" height="26.60"/>
<rect x="388.60" y="742.20" width="4.35" height="9.40"/>
<rect x="397.30" y="715.70" width="4.35" height="35.90"/>
<rect x="406.00" y="728.50" width="4.35" height="23.10"/>
<rect x="410.35" y="742.20" width="4.35" height="9.40"/>
<rect x="414.70" y="726.80" width="4.35" height="24.80"/>
<rect x="419.05" y="745.50" width="4.35" height="6.10"/>
<rect x="423.40" y="748.90" width="4.35" height="2.70"/>
<rect x="427.75" y="713.10" width="4.35" height="38.50"/>
<rect x="436.45" y="734.90" width="4.35" height="16.70"/>
<rect x="440.80" y="723.30" width="4.35" height="28.30"/>
<rect x="462.55" y="704.20" width="4.35" height="47.40"/>
<rect x="466.90" y="741.30" width="4.35" height="10.30"/>
<rect x="475.60" y="723.30" width="4.35" height="28.30"/>
<rect x="479.95" y="739.10" width="4.35" height="12.50"/>
<rect x="484.30" y="745.00" width="4.35" height="6.60"/>
<rect x="488.65" y="688.90" width="4.35" height="62.70"/>
<rect x="493.00" y="719.70" width="4.35" height="31.90"/>
<rect x="497.35" y="747.20" width="4.35" height="4.40"/>
<rect x="501.70" y="723.90" width="4.35" height="27.70"/>
<rect x="506.05" y="747.20" width="4.35" height="4.40"/>
<rect x="510.40" y="729.20" width="4.35" height="22.40"/>
<rect x="514.75" y="731.50" width="4.35" height="20.10"/>
<rect x="523.45" y="745.90" width="4.35" height="5.70"/>
<rect x="536.50" y="745.90" width="4.35" height="5.70"/>
<rect x="545.20" y="746.70" width="4.35" height="4.90"/>
<rect x="553.90" y="745.50" width="4.35" height="6.10"/>
<rect x="566.95" y="738.40" width="4.35" height="13.20"/>
<rect x="575.65" y="706.20" width="4.35" height="45.40"/>
<rect x="580.00" y="735.20" width="4.35" height="16.40"/>
<rect x="588.70" y="737.60" width="4.35" height="14.00"/>
<rect x="597.40" y="733.40" width="4.35" height="18.20"/>
<rect x="601.75" y="735.70" width="4.35" height="15.90"/>
<rect x="606.10" y="744.20" width="4.35" height="7.40"/>
<rect x="614.80" y="738.10" width="4.35" height="13.50"/>
<rect x="623.50" y="730.90" width="4.35" height="20.70"/>
<rect x="640.90" y="741.10" width="4.35" height="10.50"/>
<rect x="645.25" y="734.20" width="4.35" height="17.40"/>
<rect x="658.30" y="745.40" width="4.35" height="6.20"/>
<rect x="680.05" y="748.60" width="4.35" height="3.00"/>
<rect x="758.35" y="748.20" width="4.35" height="3.40"/>
<rect x="780.10" y="749.70" width="4.35" height="1.90"/>
</g>
<text x="83.5" y="310.3" text-anchor="end" font-size="20.3" fill="#4D4D4D">0.0</text>
<text x="83.5" y="226.3" text-anchor="end" font-size="20.3" fill="#4D4D4D">0.1</text>
<text x="83.5" y="142.3" text-anchor="end" font-size="20.3" fill="#4D4D4D">0.2</text>
<text x="83.5" y="58.3" text-anchor="end" font-size="20.3" fill="#4D4D4D">0.3</text>
<text x="83.5" y="633.6" text-anchor="end" font-size="20.3" fill="#4D4D4D">0.15</text>
<text x="83.5" y="567.1" text-anchor="end" font-size="20.3" fill="#4D4D4D">0.20</text>
<text x="83.5" y="500.7" text-anchor="end" font-size="20.3" fill="#4D4D4D">0.25</text>
<text x="83.5" y="434.2" text-anchor="end" font-size="20.3" fill="#4D4D4D">0.30</text>
<text x="83.5" y="367.8" text-anchor="end" font-size="20.3" fill="#4D4D4D">0.35</text>
<text x="248.4" y="782" text-anchor="middle" font-size="20.3" fill="#4D4D4D">−2</text>
<text x="469.0" y="782" text-anchor="middle" font-size="20.3" fill="#4D4D4D">0</text>
<text x="689.6" y="782" text-anchor="middle" font-size="20.3" fill="#4D4D4D">2</text>
<text transform="translate(31.2,164.6) rotate(-90)" text-anchor="middle" font-size="25.3" fill="#000">CATE</text>
<text transform="translate(31.2,501) rotate(-90)" text-anchor="middle" font-size="25.3" fill="#000">CATE PDP</text>
<text transform="translate(31.2,719.5) rotate(-90)" text-anchor="middle" font-size="25.3" fill="#000">Density</text>
<text x="455.9" y="810.7" text-anchor="middle" font-size="25.3" fill="#000">School−level pre−existing mindset norms</text>
</svg></body></html>
